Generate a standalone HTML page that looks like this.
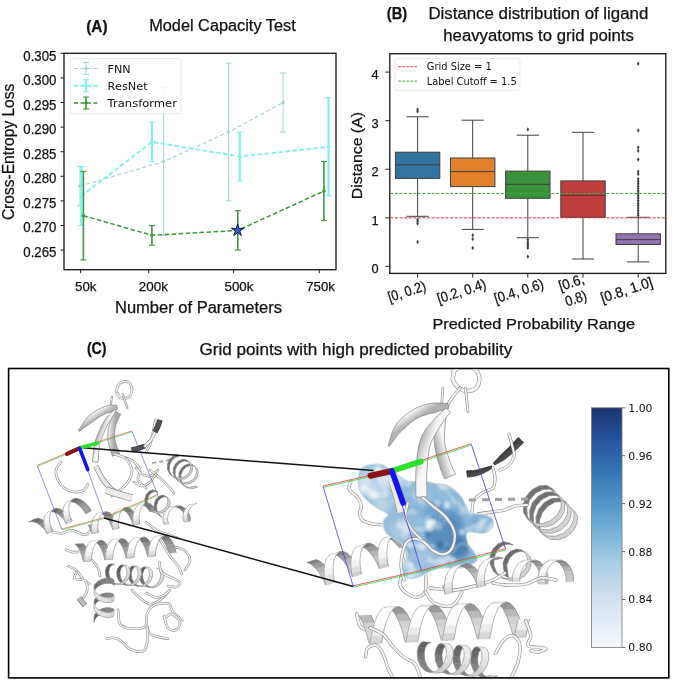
<!DOCTYPE html><html><head><meta charset="utf-8"><style>html,body{margin:0;padding:0;background:#fff}svg{display:block}</style></head><body>
<svg width="675" height="685" viewBox="0 0 675 685">
<rect width="675" height="685" fill="#fff"/>
<text x="86.2" y="31.6" font-size="15.6" font-weight="bold" text-anchor="start" style="font-family:'Liberation Sans',Arial,sans-serif" fill="#111" textLength="21.4" lengthAdjust="spacingAndGlyphs" stroke="#111" stroke-width="0.25">(A)</text>
<text x="149.2" y="31.3" font-size="15.6" text-anchor="start" style="font-family:'Liberation Sans',Arial,sans-serif" fill="#111" textLength="146.5" lengthAdjust="spacingAndGlyphs" stroke="#111" stroke-width="0.25">Model Capacity Test</text>
<rect x="64" y="53.3" width="272" height="216.4" fill="none" stroke="#1c1c1c" stroke-width="1.35"/>
<line x1="60.5" y1="53.3" x2="64" y2="53.3" stroke="#222" stroke-width="1"/>
<text x="23.3" y="60.5" font-size="14" text-anchor="start" style="font-family:'Liberation Sans',Arial,sans-serif" fill="#111" textLength="33.1" lengthAdjust="spacingAndGlyphs" stroke="#111" stroke-width="0.25">0.305</text>
<line x1="60.5" y1="77.9" x2="64" y2="77.9" stroke="#222" stroke-width="1"/>
<text x="23.3" y="85.0" font-size="14" text-anchor="start" style="font-family:'Liberation Sans',Arial,sans-serif" fill="#111" textLength="33.1" lengthAdjust="spacingAndGlyphs" stroke="#111" stroke-width="0.25">0.300</text>
<line x1="60.5" y1="102.5" x2="64" y2="102.5" stroke="#222" stroke-width="1"/>
<text x="23.3" y="109.5" font-size="14" text-anchor="start" style="font-family:'Liberation Sans',Arial,sans-serif" fill="#111" textLength="33.1" lengthAdjust="spacingAndGlyphs" stroke="#111" stroke-width="0.25">0.295</text>
<line x1="60.5" y1="127.1" x2="64" y2="127.1" stroke="#222" stroke-width="1"/>
<text x="23.3" y="134.0" font-size="14" text-anchor="start" style="font-family:'Liberation Sans',Arial,sans-serif" fill="#111" textLength="33.1" lengthAdjust="spacingAndGlyphs" stroke="#111" stroke-width="0.25">0.290</text>
<line x1="60.5" y1="151.7" x2="64" y2="151.7" stroke="#222" stroke-width="1"/>
<text x="23.3" y="158.5" font-size="14" text-anchor="start" style="font-family:'Liberation Sans',Arial,sans-serif" fill="#111" textLength="33.1" lengthAdjust="spacingAndGlyphs" stroke="#111" stroke-width="0.25">0.285</text>
<line x1="60.5" y1="176.3" x2="64" y2="176.3" stroke="#222" stroke-width="1"/>
<text x="23.3" y="183.1" font-size="14" text-anchor="start" style="font-family:'Liberation Sans',Arial,sans-serif" fill="#111" textLength="33.1" lengthAdjust="spacingAndGlyphs" stroke="#111" stroke-width="0.25">0.280</text>
<line x1="60.5" y1="200.9" x2="64" y2="200.9" stroke="#222" stroke-width="1"/>
<text x="23.3" y="207.6" font-size="14" text-anchor="start" style="font-family:'Liberation Sans',Arial,sans-serif" fill="#111" textLength="33.1" lengthAdjust="spacingAndGlyphs" stroke="#111" stroke-width="0.25">0.275</text>
<line x1="60.5" y1="225.5" x2="64" y2="225.5" stroke="#222" stroke-width="1"/>
<text x="23.3" y="232.1" font-size="14" text-anchor="start" style="font-family:'Liberation Sans',Arial,sans-serif" fill="#111" textLength="33.1" lengthAdjust="spacingAndGlyphs" stroke="#111" stroke-width="0.25">0.270</text>
<line x1="60.5" y1="250.1" x2="64" y2="250.1" stroke="#222" stroke-width="1"/>
<text x="23.3" y="256.6" font-size="14" text-anchor="start" style="font-family:'Liberation Sans',Arial,sans-serif" fill="#111" textLength="33.1" lengthAdjust="spacingAndGlyphs" stroke="#111" stroke-width="0.25">0.265</text>
<line x1="80.6" y1="269.7" x2="80.6" y2="273.2" stroke="#222" stroke-width="1"/>
<line x1="148.7" y1="269.7" x2="148.7" y2="273.2" stroke="#222" stroke-width="1"/>
<line x1="233.6" y1="269.7" x2="233.6" y2="273.2" stroke="#222" stroke-width="1"/>
<line x1="319.3" y1="269.7" x2="319.3" y2="273.2" stroke="#222" stroke-width="1"/>
<text x="75" y="290.5" font-size="13.3" text-anchor="start" style="font-family:'Liberation Sans',Arial,sans-serif" fill="#111" textLength="21.4" lengthAdjust="spacingAndGlyphs" stroke="#111" stroke-width="0.25">50k</text>
<text x="138.8" y="290.5" font-size="13.3" text-anchor="start" style="font-family:'Liberation Sans',Arial,sans-serif" fill="#111" textLength="29.1" lengthAdjust="spacingAndGlyphs" stroke="#111" stroke-width="0.25">200k</text>
<text x="224.5" y="290.5" font-size="13.3" text-anchor="start" style="font-family:'Liberation Sans',Arial,sans-serif" fill="#111" textLength="29" lengthAdjust="spacingAndGlyphs" stroke="#111" stroke-width="0.25">500k</text>
<text x="306.2" y="290.5" font-size="13.3" text-anchor="start" style="font-family:'Liberation Sans',Arial,sans-serif" fill="#111" textLength="28.7" lengthAdjust="spacingAndGlyphs" stroke="#111" stroke-width="0.25">750k</text>
<text x="115" y="312.5" font-size="15.6" text-anchor="start" style="font-family:'Liberation Sans',Arial,sans-serif" fill="#111" textLength="167" lengthAdjust="spacingAndGlyphs" stroke="#111" stroke-width="0.25">Number of Parameters</text>
<text transform="translate(14.4,220.1) rotate(-90)" font-size="15.6" style="font-family:'Liberation Sans',Arial,sans-serif" fill="#111" stroke="#111" stroke-width="0.25" textLength="136.4" lengthAdjust="spacingAndGlyphs">Cross-Entropy Loss</text>
<line x1="80.0" y1="166.5" x2="80.0" y2="205.8" stroke="#a8d4dc" stroke-width="1.0"/>
<line x1="77.0" y1="166.5" x2="83.0" y2="166.5" stroke="#a8d4dc" stroke-width="1.1"/>
<line x1="77.0" y1="205.8" x2="83.0" y2="205.8" stroke="#a8d4dc" stroke-width="1.1"/>
<line x1="163.6" y1="87.7" x2="163.6" y2="235.3" stroke="#a8d4dc" stroke-width="1.0"/>
<line x1="160.6" y1="87.7" x2="166.6" y2="87.7" stroke="#a8d4dc" stroke-width="1.1"/>
<line x1="160.6" y1="235.3" x2="166.6" y2="235.3" stroke="#a8d4dc" stroke-width="1.1"/>
<line x1="228.6" y1="63.1" x2="228.6" y2="200.9" stroke="#a8d4dc" stroke-width="1.0"/>
<line x1="225.6" y1="63.1" x2="231.6" y2="63.1" stroke="#a8d4dc" stroke-width="1.1"/>
<line x1="225.6" y1="200.9" x2="231.6" y2="200.9" stroke="#a8d4dc" stroke-width="1.1"/>
<line x1="283.1" y1="73.0" x2="283.1" y2="132.0" stroke="#a8d4dc" stroke-width="1.0"/>
<line x1="280.1" y1="73.0" x2="286.1" y2="73.0" stroke="#a8d4dc" stroke-width="1.1"/>
<line x1="280.1" y1="132.0" x2="286.1" y2="132.0" stroke="#a8d4dc" stroke-width="1.1"/>
<polyline points="80.0,186.1 163.6,161.5 228.6,132.0 283.1,102.5" fill="none" stroke="#a8d4dc" stroke-width="1.2" stroke-dasharray="4 2.5"/>
<circle cx="80.0" cy="186.1" r="1.8" fill="#a8d4dc"/>
<circle cx="163.6" cy="161.5" r="1.8" fill="#a8d4dc"/>
<circle cx="228.6" cy="132.0" r="1.8" fill="#a8d4dc"/>
<circle cx="283.1" cy="102.5" r="1.8" fill="#a8d4dc"/>
<line x1="81.3" y1="166.5" x2="81.3" y2="225.5" stroke="#80f2ee" stroke-width="2.2"/>
<line x1="78.3" y1="166.5" x2="84.3" y2="166.5" stroke="#80f2ee" stroke-width="1.1"/>
<line x1="78.3" y1="225.5" x2="84.3" y2="225.5" stroke="#80f2ee" stroke-width="1.1"/>
<line x1="151.9" y1="122.2" x2="151.9" y2="161.5" stroke="#80f2ee" stroke-width="2.2"/>
<line x1="148.9" y1="122.2" x2="154.9" y2="122.2" stroke="#80f2ee" stroke-width="1.1"/>
<line x1="148.9" y1="161.5" x2="154.9" y2="161.5" stroke="#80f2ee" stroke-width="1.1"/>
<line x1="239.8" y1="132.0" x2="239.8" y2="181.2" stroke="#80f2ee" stroke-width="2.2"/>
<line x1="236.8" y1="132.0" x2="242.8" y2="132.0" stroke="#80f2ee" stroke-width="1.1"/>
<line x1="236.8" y1="181.2" x2="242.8" y2="181.2" stroke="#80f2ee" stroke-width="1.1"/>
<line x1="328.5" y1="97.6" x2="328.5" y2="196.0" stroke="#80f2ee" stroke-width="2.2"/>
<line x1="325.5" y1="97.6" x2="331.5" y2="97.6" stroke="#80f2ee" stroke-width="1.1"/>
<line x1="325.5" y1="196.0" x2="331.5" y2="196.0" stroke="#80f2ee" stroke-width="1.1"/>
<polyline points="81.3,196.0 151.9,141.9 239.8,156.6 328.5,146.8" fill="none" stroke="#80f2ee" stroke-width="1.9" stroke-dasharray="4.5 2.5"/>
<circle cx="81.3" cy="196.0" r="1.8" fill="#80f2ee"/>
<circle cx="151.9" cy="141.9" r="1.8" fill="#80f2ee"/>
<circle cx="239.8" cy="156.6" r="1.8" fill="#80f2ee"/>
<circle cx="328.5" cy="146.8" r="1.8" fill="#80f2ee"/>
<line x1="83.4" y1="171.4" x2="83.4" y2="259.9" stroke="#3b9a3b" stroke-width="1.6"/>
<line x1="80.4" y1="171.4" x2="86.4" y2="171.4" stroke="#3b9a3b" stroke-width="1.1"/>
<line x1="80.4" y1="259.9" x2="86.4" y2="259.9" stroke="#3b9a3b" stroke-width="1.1"/>
<line x1="151.9" y1="225.5" x2="151.9" y2="245.2" stroke="#3b9a3b" stroke-width="1.6"/>
<line x1="148.9" y1="225.5" x2="154.9" y2="225.5" stroke="#3b9a3b" stroke-width="1.1"/>
<line x1="148.9" y1="245.2" x2="154.9" y2="245.2" stroke="#3b9a3b" stroke-width="1.1"/>
<line x1="237.8" y1="210.7" x2="237.8" y2="250.1" stroke="#3b9a3b" stroke-width="1.6"/>
<line x1="234.8" y1="210.7" x2="240.8" y2="210.7" stroke="#3b9a3b" stroke-width="1.1"/>
<line x1="234.8" y1="250.1" x2="240.8" y2="250.1" stroke="#3b9a3b" stroke-width="1.1"/>
<line x1="323.9" y1="161.5" x2="323.9" y2="220.6" stroke="#3b9a3b" stroke-width="1.6"/>
<line x1="320.9" y1="161.5" x2="326.9" y2="161.5" stroke="#3b9a3b" stroke-width="1.1"/>
<line x1="320.9" y1="220.6" x2="326.9" y2="220.6" stroke="#3b9a3b" stroke-width="1.1"/>
<polyline points="83.4,215.7 151.9,235.3 237.8,230.4 323.9,191.1" fill="none" stroke="#3b9a3b" stroke-width="1.5" stroke-dasharray="4.5 2.5"/>
<circle cx="83.4" cy="215.7" r="1.8" fill="#3b9a3b"/>
<circle cx="151.9" cy="235.3" r="1.8" fill="#3b9a3b"/>
<circle cx="237.8" cy="230.4" r="1.8" fill="#3b9a3b"/>
<circle cx="323.9" cy="191.1" r="1.8" fill="#3b9a3b"/>
<polygon points="237.60,223.80 238.95,228.44 243.78,228.29 239.79,231.01 241.42,235.56 237.60,232.60 233.78,235.56 235.41,231.01 231.42,228.29 236.25,228.44" fill="#3d5fc0" stroke="#0d1850" stroke-width="1"/>
<rect x="70.4" y="58.6" width="110.6" height="55.1" rx="2" fill="#fff" fill-opacity="0.8" stroke="#e4e4e4" stroke-width="0.8"/>
<line x1="74" y1="68.5" x2="97.6" y2="68.5" stroke="#a8d4dc" stroke-width="1.2" stroke-dasharray="4 2.5"/>
<line x1="86" y1="62.5" x2="86" y2="74.5" stroke="#a8d4dc" stroke-width="1.0"/>
<line x1="83" y1="62.5" x2="89" y2="62.5" stroke="#a8d4dc" stroke-width="1.1"/>
<line x1="83" y1="74.5" x2="89" y2="74.5" stroke="#a8d4dc" stroke-width="1.1"/>
<circle cx="86" cy="68.5" r="1.8" fill="#a8d4dc"/>
<line x1="74" y1="85.8" x2="97.6" y2="85.8" stroke="#80f2ee" stroke-width="1.9" stroke-dasharray="4 2.5"/>
<line x1="86" y1="79.8" x2="86" y2="91.8" stroke="#80f2ee" stroke-width="2.2"/>
<line x1="83" y1="79.8" x2="89" y2="79.8" stroke="#80f2ee" stroke-width="1.1"/>
<line x1="83" y1="91.8" x2="89" y2="91.8" stroke="#80f2ee" stroke-width="1.1"/>
<circle cx="86" cy="85.8" r="1.8" fill="#80f2ee"/>
<line x1="74" y1="103.0" x2="97.6" y2="103.0" stroke="#3b9a3b" stroke-width="1.5" stroke-dasharray="4 2.5"/>
<line x1="86" y1="97.0" x2="86" y2="109.0" stroke="#3b9a3b" stroke-width="1.6"/>
<line x1="83" y1="97.0" x2="89" y2="97.0" stroke="#3b9a3b" stroke-width="1.1"/>
<line x1="83" y1="109.0" x2="89" y2="109.0" stroke="#3b9a3b" stroke-width="1.1"/>
<circle cx="86" cy="103.0" r="1.8" fill="#3b9a3b"/>
<text x="107.6" y="72.6" font-size="11.3" text-anchor="start" style="font-family:'DejaVu Sans','Liberation Sans',sans-serif" fill="#111" textLength="23.1" lengthAdjust="spacingAndGlyphs">FNN</text>
<text x="107.6" y="89.9" font-size="11.3" text-anchor="start" style="font-family:'DejaVu Sans','Liberation Sans',sans-serif" fill="#111">ResNet</text>
<text x="107.6" y="107.1" font-size="11.3" text-anchor="start" style="font-family:'DejaVu Sans','Liberation Sans',sans-serif" fill="#111" textLength="69.4" lengthAdjust="spacingAndGlyphs">Transformer</text>
<text x="386.8" y="19.1" font-size="15.6" font-weight="bold" text-anchor="start" style="font-family:'Liberation Sans',Arial,sans-serif" fill="#111" textLength="20.3" lengthAdjust="spacingAndGlyphs" stroke="#111" stroke-width="0.25">(B)</text>
<text x="428.4" y="19.1" font-size="15.6" text-anchor="start" style="font-family:'Liberation Sans',Arial,sans-serif" fill="#111" textLength="219.9" lengthAdjust="spacingAndGlyphs" stroke="#111" stroke-width="0.25">Distance distribution of ligand</text>
<text x="443.3" y="40.5" font-size="15.6" text-anchor="start" style="font-family:'Liberation Sans',Arial,sans-serif" fill="#111" textLength="190.6" lengthAdjust="spacingAndGlyphs" stroke="#111" stroke-width="0.25">heavyatoms to grid points</text>
<rect x="389.8" y="53.7" width="276" height="219.7" fill="none" stroke="#1c1c1c" stroke-width="1.35"/>
<line x1="385.3" y1="266.3" x2="389.8" y2="266.3" stroke="#222" stroke-width="1"/>
<text x="378.7" y="273.1" font-size="12.8" text-anchor="end" style="font-family:'Liberation Sans',Arial,sans-serif" fill="#111" stroke="#111" stroke-width="0.25">0</text>
<line x1="385.3" y1="217.8" x2="389.8" y2="217.8" stroke="#222" stroke-width="1"/>
<text x="378.7" y="224.6" font-size="12.8" text-anchor="end" style="font-family:'Liberation Sans',Arial,sans-serif" fill="#111" stroke="#111" stroke-width="0.25">1</text>
<line x1="385.3" y1="169.2" x2="389.8" y2="169.2" stroke="#222" stroke-width="1"/>
<text x="378.7" y="176.0" font-size="12.8" text-anchor="end" style="font-family:'Liberation Sans',Arial,sans-serif" fill="#111" stroke="#111" stroke-width="0.25">2</text>
<line x1="385.3" y1="120.7" x2="389.8" y2="120.7" stroke="#222" stroke-width="1"/>
<text x="378.7" y="127.5" font-size="12.8" text-anchor="end" style="font-family:'Liberation Sans',Arial,sans-serif" fill="#111" stroke="#111" stroke-width="0.25">3</text>
<line x1="385.3" y1="72.1" x2="389.8" y2="72.1" stroke="#222" stroke-width="1"/>
<text x="378.7" y="78.9" font-size="12.8" text-anchor="end" style="font-family:'Liberation Sans',Arial,sans-serif" fill="#111" stroke="#111" stroke-width="0.25">4</text>
<text transform="translate(362.4,199.2) rotate(-90)" font-size="15.2" style="font-family:'Liberation Sans',Arial,sans-serif" fill="#111" stroke="#111" stroke-width="0.25" textLength="87.2" lengthAdjust="spacingAndGlyphs">Distance (A)</text>
<line x1="417.6" y1="273.4" x2="417.6" y2="277.6" stroke="#222" stroke-width="1"/>
<line x1="472.7" y1="273.4" x2="472.7" y2="277.6" stroke="#222" stroke-width="1"/>
<line x1="527.8" y1="273.4" x2="527.8" y2="277.6" stroke="#222" stroke-width="1"/>
<line x1="583.0" y1="273.4" x2="583.0" y2="277.6" stroke="#222" stroke-width="1"/>
<line x1="638.2" y1="273.4" x2="638.2" y2="277.6" stroke="#222" stroke-width="1"/>
<text x="432.4" y="328.5" font-size="15.4" text-anchor="start" style="font-family:'Liberation Sans',Arial,sans-serif" fill="#111" textLength="202.7" lengthAdjust="spacingAndGlyphs" stroke="#111" stroke-width="0.25">Predicted Probability Range</text>
<text transform="translate(389.8,302.2) rotate(-18)" font-size="14.4" style="font-family:'Liberation Sans',Arial,sans-serif" fill="#111" stroke="#111" stroke-width="0.25" textLength="39" lengthAdjust="spacingAndGlyphs">[0, 0.2)</text>
<text transform="translate(439.0,303.7) rotate(-18)" font-size="14.4" style="font-family:'Liberation Sans',Arial,sans-serif" fill="#111" stroke="#111" stroke-width="0.25" textLength="50.5" lengthAdjust="spacingAndGlyphs">[0.2, 0.4)</text>
<text transform="translate(496.1,303.7) rotate(-18)" font-size="14.4" style="font-family:'Liberation Sans',Arial,sans-serif" fill="#111" stroke="#111" stroke-width="0.25" textLength="51" lengthAdjust="spacingAndGlyphs">[0.4, 0.6)</text>
<text transform="translate(560.5,291.1) rotate(-18)" font-size="14.4" style="font-family:'Liberation Sans',Arial,sans-serif" fill="#111" stroke="#111" stroke-width="0.25" textLength="26" lengthAdjust="spacingAndGlyphs">[0.6,</text>
<text transform="translate(567.0,306.5) rotate(-18)" font-size="14.4" style="font-family:'Liberation Sans',Arial,sans-serif" fill="#111" stroke="#111" stroke-width="0.25" textLength="22" lengthAdjust="spacingAndGlyphs">0.8)</text>
<text transform="translate(602.4,302.9) rotate(-18)" font-size="14.4" style="font-family:'Liberation Sans',Arial,sans-serif" fill="#111" stroke="#111" stroke-width="0.25" textLength="54" lengthAdjust="spacingAndGlyphs">[0.8, 1.0]</text>
<line x1="417.6" y1="116.8" x2="417.6" y2="152.2" stroke="#3f3f3f" stroke-width="1"/>
<line x1="417.6" y1="178.4" x2="417.6" y2="216.3" stroke="#3f3f3f" stroke-width="1"/>
<line x1="406.5" y1="116.8" x2="428.7" y2="116.8" stroke="#3f3f3f" stroke-width="1"/>
<line x1="406.5" y1="216.3" x2="428.7" y2="216.3" stroke="#3f3f3f" stroke-width="1"/>
<rect x="395.4" y="152.2" width="44.4" height="26.2" fill="#3274a1" stroke="#3f3f3f" stroke-width="1"/>
<line x1="395.4" y1="164.8" x2="439.8" y2="164.8" stroke="#3f3f3f" stroke-width="1"/>
<path d="M417.6 109.2L418.90000000000003 111.4L417.6 113.6L416.3 111.4Z" fill="#3f3f3f"/>
<path d="M417.6 107.3L418.90000000000003 109.5L417.6 111.7L416.3 109.5Z" fill="#3f3f3f"/>
<path d="M417.6 217.5L418.90000000000003 219.7L417.6 221.9L416.3 219.7Z" fill="#3f3f3f"/>
<path d="M417.6 219.4L418.90000000000003 221.6L417.6 223.8L416.3 221.6Z" fill="#3f3f3f"/>
<path d="M417.6 221.4L418.90000000000003 223.6L417.6 225.8L416.3 223.6Z" fill="#3f3f3f"/>
<path d="M417.6 239.8L418.90000000000003 242.0L417.6 244.2L416.3 242.0Z" fill="#3f3f3f"/>
<line x1="472.7" y1="120.2" x2="472.7" y2="158.0" stroke="#3f3f3f" stroke-width="1"/>
<line x1="472.7" y1="186.7" x2="472.7" y2="229.4" stroke="#3f3f3f" stroke-width="1"/>
<line x1="461.6" y1="120.2" x2="483.8" y2="120.2" stroke="#3f3f3f" stroke-width="1"/>
<line x1="461.6" y1="229.4" x2="483.8" y2="229.4" stroke="#3f3f3f" stroke-width="1"/>
<rect x="450.5" y="158.0" width="44.4" height="28.6" fill="#e1812c" stroke="#3f3f3f" stroke-width="1"/>
<line x1="450.5" y1="171.6" x2="494.9" y2="171.6" stroke="#3f3f3f" stroke-width="1"/>
<path d="M472.7 233.0L474.0 235.2L472.7 237.4L471.4 235.2Z" fill="#3f3f3f"/>
<path d="M472.7 236.9L474.0 239.1L472.7 241.3L471.4 239.1Z" fill="#3f3f3f"/>
<path d="M472.7 245.7L474.0 247.9L472.7 250.1L471.4 247.9Z" fill="#3f3f3f"/>
<line x1="527.8" y1="135.2" x2="527.8" y2="171.1" stroke="#3f3f3f" stroke-width="1"/>
<line x1="527.8" y1="198.3" x2="527.8" y2="237.7" stroke="#3f3f3f" stroke-width="1"/>
<line x1="516.7" y1="135.2" x2="538.9" y2="135.2" stroke="#3f3f3f" stroke-width="1"/>
<line x1="516.7" y1="237.7" x2="538.9" y2="237.7" stroke="#3f3f3f" stroke-width="1"/>
<rect x="505.6" y="171.1" width="44.4" height="27.2" fill="#3a923a" stroke="#3f3f3f" stroke-width="1"/>
<line x1="505.6" y1="184.3" x2="550.0" y2="184.3" stroke="#3f3f3f" stroke-width="1"/>
<path d="M527.8 127.2L529.0999999999999 129.4L527.8 131.6L526.5 129.4Z" fill="#3f3f3f"/>
<path d="M527.8 237.4L529.0999999999999 239.6L527.8 241.8L526.5 239.6Z" fill="#3f3f3f"/>
<path d="M527.8 239.8L529.0999999999999 242.0L527.8 244.2L526.5 242.0Z" fill="#3f3f3f"/>
<path d="M527.8 241.8L529.0999999999999 244.0L527.8 246.2L526.5 244.0Z" fill="#3f3f3f"/>
<path d="M527.8 243.7L529.0999999999999 245.9L527.8 248.1L526.5 245.9Z" fill="#3f3f3f"/>
<path d="M527.8 245.7L529.0999999999999 247.9L527.8 250.1L526.5 247.9Z" fill="#3f3f3f"/>
<path d="M527.8 254.4L529.0999999999999 256.6L527.8 258.8L526.5 256.6Z" fill="#3f3f3f"/>
<line x1="583.0" y1="132.3" x2="583.0" y2="180.9" stroke="#3f3f3f" stroke-width="1"/>
<line x1="583.0" y1="217.3" x2="583.0" y2="259.0" stroke="#3f3f3f" stroke-width="1"/>
<line x1="571.9" y1="132.3" x2="594.1" y2="132.3" stroke="#3f3f3f" stroke-width="1"/>
<line x1="571.9" y1="259.0" x2="594.1" y2="259.0" stroke="#3f3f3f" stroke-width="1"/>
<rect x="560.8" y="180.9" width="44.4" height="36.4" fill="#c03d3e" stroke="#3f3f3f" stroke-width="1"/>
<line x1="560.8" y1="195.4" x2="605.2" y2="195.4" stroke="#3f3f3f" stroke-width="1"/>
<line x1="638.2" y1="217.3" x2="638.2" y2="233.8" stroke="#3f3f3f" stroke-width="1"/>
<line x1="638.2" y1="244.5" x2="638.2" y2="261.9" stroke="#3f3f3f" stroke-width="1"/>
<line x1="627.1" y1="217.3" x2="649.3" y2="217.3" stroke="#3f3f3f" stroke-width="1"/>
<line x1="627.1" y1="261.9" x2="649.3" y2="261.9" stroke="#3f3f3f" stroke-width="1"/>
<rect x="616.0" y="233.8" width="44.4" height="10.7" fill="#9372b2" stroke="#3f3f3f" stroke-width="1"/>
<line x1="616.0" y1="239.6" x2="660.4" y2="239.6" stroke="#3f3f3f" stroke-width="1"/>
<path d="M638.2 213.1L639.5 215.3L638.2 217.5L636.9000000000001 215.3Z" fill="#3f3f3f"/>
<path d="M638.2 210.7L639.5 212.9L638.2 215.1L636.9000000000001 212.9Z" fill="#3f3f3f"/>
<path d="M638.2 208.3L639.5 210.5L638.2 212.7L636.9000000000001 210.5Z" fill="#3f3f3f"/>
<path d="M638.2 205.8L639.5 208.0L638.2 210.2L636.9000000000001 208.0Z" fill="#3f3f3f"/>
<path d="M638.2 203.4L639.5 205.6L638.2 207.8L636.9000000000001 205.6Z" fill="#3f3f3f"/>
<path d="M638.2 201.0L639.5 203.2L638.2 205.4L636.9000000000001 203.2Z" fill="#3f3f3f"/>
<path d="M638.2 198.6L639.5 200.8L638.2 203.0L636.9000000000001 200.8Z" fill="#3f3f3f"/>
<path d="M638.2 196.1L639.5 198.3L638.2 200.5L636.9000000000001 198.3Z" fill="#3f3f3f"/>
<path d="M638.2 193.7L639.5 195.9L638.2 198.1L636.9000000000001 195.9Z" fill="#3f3f3f"/>
<path d="M638.2 191.3L639.5 193.5L638.2 195.7L636.9000000000001 193.5Z" fill="#3f3f3f"/>
<path d="M638.2 188.8L639.5 191.0L638.2 193.2L636.9000000000001 191.0Z" fill="#3f3f3f"/>
<path d="M638.2 186.4L639.5 188.6L638.2 190.8L636.9000000000001 188.6Z" fill="#3f3f3f"/>
<path d="M638.2 184.0L639.5 186.2L638.2 188.4L636.9000000000001 186.2Z" fill="#3f3f3f"/>
<path d="M638.2 181.6L639.5 183.8L638.2 186.0L636.9000000000001 183.8Z" fill="#3f3f3f"/>
<path d="M638.2 179.1L639.5 181.3L638.2 183.5L636.9000000000001 181.3Z" fill="#3f3f3f"/>
<path d="M638.2 176.7L639.5 178.9L638.2 181.1L636.9000000000001 178.9Z" fill="#3f3f3f"/>
<path d="M638.2 171.9L639.5 174.1L638.2 176.3L636.9000000000001 174.1Z" fill="#3f3f3f"/>
<path d="M638.2 169.4L639.5 171.6L638.2 173.8L636.9000000000001 171.6Z" fill="#3f3f3f"/>
<path d="M638.2 157.3L639.5 159.5L638.2 161.7L636.9000000000001 159.5Z" fill="#3f3f3f"/>
<path d="M638.2 148.6L639.5 150.8L638.2 153.0L636.9000000000001 150.8Z" fill="#3f3f3f"/>
<path d="M638.2 145.2L639.5 147.4L638.2 149.6L636.9000000000001 147.4Z" fill="#3f3f3f"/>
<path d="M638.2 128.2L639.5 130.4L638.2 132.6L636.9000000000001 130.4Z" fill="#3f3f3f"/>
<path d="M638.2 61.6L639.5 63.8L638.2 66.0L636.9000000000001 63.8Z" fill="#3f3f3f"/>
<line x1="390.3" y1="217.8" x2="665.3" y2="217.8" stroke="#e0393e" stroke-width="1" stroke-dasharray="3 1.6"/>
<line x1="390.3" y1="193.5" x2="665.3" y2="193.5" stroke="#3caa3c" stroke-width="1" stroke-dasharray="3 1.6"/>
<rect x="394.8" y="58.7" width="125.2" height="31.7" rx="2" fill="#fff" fill-opacity="0.8" stroke="#e4e4e4" stroke-width="0.8"/>
<line x1="398.4" y1="66.7" x2="417.3" y2="66.7" stroke="#e0393e" stroke-width="1" stroke-dasharray="2.6 1.4"/>
<line x1="398.4" y1="81.1" x2="417.3" y2="81.1" stroke="#3caa3c" stroke-width="1" stroke-dasharray="2.6 1.4"/>
<text x="426.8" y="69.9" font-size="9.9" text-anchor="start" style="font-family:'DejaVu Sans','Liberation Sans',sans-serif" fill="#111">Grid Size = 1</text>
<text x="426.8" y="84.6" font-size="9.9" text-anchor="start" style="font-family:'DejaVu Sans','Liberation Sans',sans-serif" fill="#111">Label Cutoff = 1.5</text>
<text x="86.9" y="354.2" font-size="15.6" font-weight="bold" text-anchor="start" style="font-family:'Liberation Sans',Arial,sans-serif" fill="#111" textLength="19.7" lengthAdjust="spacingAndGlyphs" stroke="#111" stroke-width="0.25">(C)</text>
<text x="199.5" y="354.7" font-size="15.6" text-anchor="start" style="font-family:'Liberation Sans',Arial,sans-serif" fill="#111" textLength="312.8" lengthAdjust="spacingAndGlyphs" stroke="#111" stroke-width="0.25">Grid points with high predicted probability</text>
<rect x="8.6" y="368.5" width="660.2" height="309.4" fill="none" stroke="#000" stroke-width="1.6"/>
<defs><linearGradient id="blues" x1="0" y1="1" x2="0" y2="0"><stop offset="0" stop-color="#f5f9fd"/><stop offset="0.125" stop-color="#e0eaf5"/><stop offset="0.25" stop-color="#c6dbee"/><stop offset="0.375" stop-color="#a0c9e2"/><stop offset="0.5" stop-color="#70afd6"/><stop offset="0.625" stop-color="#4b8fc6"/><stop offset="0.75" stop-color="#3271b2"/><stop offset="0.875" stop-color="#25529c"/><stop offset="1" stop-color="#1c3470"/></linearGradient></defs>
<rect x="591.6" y="407.8" width="30.4" height="239.6" fill="url(#blues)" stroke="#777" stroke-width="0.8"/>
<line x1="622" y1="407.8" x2="625.5" y2="407.8" stroke="#555" stroke-width="0.8"/>
<text x="628.3" y="411.7" font-size="10.8" text-anchor="start" style="font-family:'DejaVu Sans','Liberation Sans',sans-serif" fill="#111" textLength="24.2" lengthAdjust="spacingAndGlyphs">1.00</text>
<line x1="622" y1="455.7" x2="625.5" y2="455.7" stroke="#555" stroke-width="0.8"/>
<text x="628.3" y="459.6" font-size="10.8" text-anchor="start" style="font-family:'DejaVu Sans','Liberation Sans',sans-serif" fill="#111" textLength="24.2" lengthAdjust="spacingAndGlyphs">0.96</text>
<line x1="622" y1="503.6" x2="625.5" y2="503.6" stroke="#555" stroke-width="0.8"/>
<text x="628.3" y="507.5" font-size="10.8" text-anchor="start" style="font-family:'DejaVu Sans','Liberation Sans',sans-serif" fill="#111" textLength="24.2" lengthAdjust="spacingAndGlyphs">0.92</text>
<line x1="622" y1="551.6" x2="625.5" y2="551.6" stroke="#555" stroke-width="0.8"/>
<text x="628.3" y="555.5" font-size="10.8" text-anchor="start" style="font-family:'DejaVu Sans','Liberation Sans',sans-serif" fill="#111" textLength="24.2" lengthAdjust="spacingAndGlyphs">0.88</text>
<line x1="622" y1="599.5" x2="625.5" y2="599.5" stroke="#555" stroke-width="0.8"/>
<text x="628.3" y="603.4" font-size="10.8" text-anchor="start" style="font-family:'DejaVu Sans','Liberation Sans',sans-serif" fill="#111" textLength="24.2" lengthAdjust="spacingAndGlyphs">0.84</text>
<line x1="622" y1="647.4" x2="625.5" y2="647.4" stroke="#555" stroke-width="0.8"/>
<text x="628.3" y="651.3" font-size="10.8" text-anchor="start" style="font-family:'DejaVu Sans','Liberation Sans',sans-serif" fill="#111" textLength="24.2" lengthAdjust="spacingAndGlyphs">0.80</text>
<clipPath id="cpC"><rect x="9.4" y="369.3" width="658.6" height="307.8"/></clipPath>
<g clip-path="url(#cpC)">
<path d="M116.0 391.0C116.7 389.7 118.0 384.5 120.0 383.0C122.0 381.5 126.0 381.0 128.0 382.0C130.0 383.0 131.8 386.5 132.0 389.0C132.2 391.5 130.8 395.5 129.0 397.0C127.2 398.5 123.0 398.7 121.0 398.0C119.0 397.3 117.7 393.8 117.0 393.0" fill="none" stroke="#8a8a8a" stroke-width="2.7" stroke-linecap="round" stroke-linejoin="round"/>
<path d="M116.0 391.0C116.7 389.7 118.0 384.5 120.0 383.0C122.0 381.5 126.0 381.0 128.0 382.0C130.0 383.0 131.8 386.5 132.0 389.0C132.2 391.5 130.8 395.5 129.0 397.0C127.2 398.5 123.0 398.7 121.0 398.0C119.0 397.3 117.7 393.8 117.0 393.0" fill="none" stroke="#f2f2f2" stroke-width="1.6" stroke-linecap="round" stroke-linejoin="round"/>
<path d="M122.5 394.0C123.3 396.4 126.6 405.8 127.4 408.2" fill="none" stroke="#8a8a8a" stroke-width="2.1" stroke-linecap="round" stroke-linejoin="round"/>
<path d="M122.5 394.0C123.3 396.4 126.6 405.8 127.4 408.2" fill="none" stroke="#f2f2f2" stroke-width="1.0" stroke-linecap="round" stroke-linejoin="round"/>
<path d="M111.9 396.8C111.7 398.0 111.0 402.8 110.8 404.0" fill="none" stroke="#8a8a8a" stroke-width="2.1" stroke-linecap="round" stroke-linejoin="round"/>
<path d="M111.9 396.8C111.7 398.0 111.0 402.8 110.8 404.0" fill="none" stroke="#f2f2f2" stroke-width="1.0" stroke-linecap="round" stroke-linejoin="round"/>
<defs><linearGradient id="bl1" gradientUnits="userSpaceOnUse" x1="95.7" y1="411.0" x2="99.4" y2="417.0"><stop offset="0" stop-color="#fbfbfb"/><stop offset="1" stop-color="#b0b0b0"/></linearGradient></defs>
<path d="M79.1 431.4L80.0 430.8L81.1 430.0L82.5 429.0L83.9 427.9L85.5 426.7L87.2 425.5L88.9 424.3L90.5 423.3L92.1 422.3L93.3 421.3L94.5 420.4L95.7 419.4L96.9 418.6L98.2 417.7L99.4 417.0L100.6 416.2L101.8 415.5L103.0 414.9L104.2 414.3L105.4 413.7L106.6 413.2L107.9 412.8L109.3 412.4L110.7 412.0L112.0 411.4L113.4 410.8L114.6 410.2L115.7 409.7L116.7 409.3L117.5 408.9L116.5 405.1L115.7 405.1L114.7 405.1L113.5 405.1L112.1 405.1L110.6 405.1L109.0 405.2L107.4 405.6L105.7 406.1L104.1 406.7L102.6 407.3L101.2 408.0L99.8 408.7L98.4 409.4L97.0 410.2L95.7 411.0L94.3 411.9L92.9 412.8L91.6 413.8L90.2 414.8L88.9 415.9L87.5 417.2L86.3 418.8L85.0 420.4L83.8 422.2L82.6 423.9L81.5 425.6L80.5 427.1L79.6 428.5L78.9 429.7L78.3 430.6Z" fill="url(#bl1)" stroke="#7f7f7f" stroke-width="0.7" stroke-linejoin="round"/>
<defs><linearGradient id="bl2" gradientUnits="userSpaceOnUse" x1="101.8" y1="438.1" x2="97.0" y2="436.3"><stop offset="0" stop-color="#f5f5f5"/><stop offset="1" stop-color="#b0b0b0"/></linearGradient></defs>
<path d="M98.0 462.2L98.1 461.3L98.2 460.2L98.2 458.9L98.3 457.4L98.4 455.9L98.5 454.3L98.6 452.6L98.8 451.1L98.9 449.7L99.1 448.4L99.3 447.3L99.5 446.2L99.6 445.2L99.8 444.3L100.0 443.4L100.3 442.5L100.6 441.5L100.9 440.5L101.3 439.4L101.8 438.1L102.3 436.7L102.9 435.1L103.6 433.5L104.3 431.8L105.0 430.0L105.8 428.3L106.6 426.6L107.4 425.0L108.2 423.6L109.0 422.3L109.8 421.1L110.7 420.0L111.6 418.9L112.6 417.8L113.6 416.8L114.6 415.8L115.5 415.0L116.3 414.2L117.0 413.5L117.6 412.9L114.4 409.7L113.9 410.2L113.2 410.9L112.4 411.6L111.4 412.5L110.4 413.5L109.3 414.6L108.2 415.7L107.1 417.0L106.0 418.3L105.0 419.7L104.1 421.2L103.2 422.8L102.3 424.5L101.4 426.2L100.6 428.0L99.8 429.8L99.0 431.6L98.3 433.3L97.6 434.8L97.0 436.3L96.5 437.6L96.1 438.8L95.7 440.0L95.4 441.0L95.1 442.1L94.8 443.1L94.6 444.2L94.3 445.2L94.1 446.4L93.9 447.6L93.7 449.0L93.5 450.5L93.3 452.2L93.2 453.8L93.0 455.5L92.9 457.1L92.8 458.6L92.7 459.9L92.6 461.0L92.6 461.8Z" fill="url(#bl2)" stroke="#7f7f7f" stroke-width="0.7" stroke-linejoin="round"/>
<defs><linearGradient id="bl3" gradientUnits="userSpaceOnUse" x1="114.7" y1="432.6" x2="108.0" y2="432.1"><stop offset="0" stop-color="#a8a8a8"/><stop offset="1" stop-color="#f5f5f5"/></linearGradient></defs>
<path d="M119.6 453.8L119.2 452.9L118.8 451.7L118.3 450.3L117.7 448.9L117.1 447.3L116.6 445.6L116.0 444.0L115.6 442.4L115.2 440.9L115.0 439.6L114.8 438.2L114.7 436.8L114.7 435.4L114.7 434.0L114.7 432.6L114.8 431.1L115.0 429.7L115.2 428.4L115.4 427.0L115.6 425.8L115.9 424.6L116.4 423.4L116.9 422.1L117.5 420.8L118.1 419.5L118.7 418.2L119.3 417.1L119.8 416.0L120.3 415.1L120.7 414.3L115.3 411.7L115.0 412.3L114.5 413.1L113.9 414.2L113.3 415.3L112.6 416.7L111.8 418.1L111.1 419.5L110.4 421.1L109.8 422.6L109.4 424.2L109.0 425.7L108.7 427.3L108.4 428.8L108.2 430.4L108.0 432.1L107.9 433.7L107.8 435.4L107.8 437.1L107.9 438.7L108.0 440.4L108.3 442.2L108.7 444.1L109.2 446.0L109.7 447.8L110.2 449.6L110.8 451.3L111.3 452.9L111.8 454.2L112.2 455.3L112.4 456.2Z" fill="url(#bl3)" stroke="#7f7f7f" stroke-width="0.7" stroke-linejoin="round"/>
<path d="M155.4 419.6C155.0 421.7 153.9 427.8 153.0 432.0C152.1 436.2 151.2 441.7 150.0 445.0C148.8 448.3 146.7 450.8 146.0 452.0" fill="none" stroke="#8a8a8a" stroke-width="2.4" stroke-linecap="round" stroke-linejoin="round"/>
<path d="M155.4 419.6C155.0 421.7 153.9 427.8 153.0 432.0C152.1 436.2 151.2 441.7 150.0 445.0C148.8 448.3 146.7 450.8 146.0 452.0" fill="none" stroke="#f2f2f2" stroke-width="1.3" stroke-linecap="round" stroke-linejoin="round"/>
<path d="M131.6 449.7C132.7 449.5 135.8 449.1 138.0 448.5C140.2 447.9 143.8 446.4 145.0 446.0" fill="none" stroke="#3a3a3a" stroke-width="5.0" stroke-linecap="butt" stroke-linejoin="round"/>
<path d="M131.6 449.7C132.7 449.5 135.8 449.1 138.0 448.5C140.2 447.9 143.8 446.4 145.0 446.0" fill="none" stroke="#505050" stroke-width="3.6" stroke-linecap="butt" stroke-linejoin="round"/>
<path d="M145.0 446.0C146.1 444.9 149.6 441.6 151.3 439.3C153.0 437.0 154.4 433.2 155.0 432.0" fill="none" stroke="#8a8a8a" stroke-width="3.3" stroke-linecap="round" stroke-linejoin="round"/>
<path d="M145.0 446.0C146.1 444.9 149.6 441.6 151.3 439.3C153.0 437.0 154.4 433.2 155.0 432.0" fill="none" stroke="#f2f2f2" stroke-width="2.2" stroke-linecap="round" stroke-linejoin="round"/>
<path d="M155.0 432.0C155.5 431.0 157.2 428.0 158.0 426.0C158.8 424.0 159.7 421.0 160.0 420.0" fill="none" stroke="#3a3a3a" stroke-width="5.4" stroke-linecap="butt" stroke-linejoin="round"/>
<path d="M155.0 432.0C155.5 431.0 157.2 428.0 158.0 426.0C158.8 424.0 159.7 421.0 160.0 420.0" fill="none" stroke="#505050" stroke-width="4.0" stroke-linecap="butt" stroke-linejoin="round"/>
<line x1="152.3" y1="463.2" x2="170" y2="460" stroke="#a0a0a0" stroke-width="1.8" stroke-dasharray="4 3"/>
<path d="M180.9 474.7L180.8 479.7L179.1 478.3L179.1 473.3Z" fill="#717171" stroke="#717171" stroke-width="0.4"/><path d="M180.9 474.7L180.8 479.7M179.1 473.3L179.1 478.3" stroke="#858585" stroke-width="0.6" fill="none"/>
<path d="M182.9 470.1L180.9 474.7L179.1 473.3L181.1 468.7Z" fill="#707070" stroke="#707070" stroke-width="0.4"/><path d="M182.9 470.1L180.9 474.7M181.1 468.7L179.1 473.3" stroke="#858585" stroke-width="0.6" fill="none"/>
<path d="M180.8 479.7L182.8 484.2L181.1 482.8L179.1 478.3Z" fill="#787878" stroke="#787878" stroke-width="0.4"/><path d="M180.8 479.7L182.8 484.2M179.1 478.3L181.1 482.8" stroke="#858585" stroke-width="0.6" fill="none"/>
<path d="M186.3 466.8L182.9 470.1L181.1 468.7L184.6 465.4Z" fill="#707070" stroke="#707070" stroke-width="0.4"/><path d="M186.3 466.8L182.9 470.1M184.6 465.4L181.1 468.7" stroke="#858585" stroke-width="0.6" fill="none"/>
<path d="M182.8 484.2L186.5 487.5L184.7 486.1L181.1 482.8Z" fill="#7d7d7d" stroke="#7d7d7d" stroke-width="0.4"/><path d="M182.8 484.2L186.5 487.5M181.1 482.8L184.7 486.1" stroke="#858585" stroke-width="0.6" fill="none"/>
<path d="M186.5 487.5L191.3 488.8L189.5 487.4L184.7 486.1Z" fill="#d0d0d0" stroke="#d0d0d0" stroke-width="0.4"/><path d="M186.5 487.5L191.3 488.8M184.7 486.1L189.5 487.4" stroke="#858585" stroke-width="0.6" fill="none"/>
<path d="M191.3 488.8L198.0 487.2L196.3 485.8L189.5 487.4Z" fill="#d0d0d0" stroke="#d0d0d0" stroke-width="0.4"/><path d="M191.3 488.8L198.0 487.2M189.5 487.4L196.3 485.8" stroke="#858585" stroke-width="0.6" fill="none"/>
<path d="M190.5 465.4L186.3 466.8L184.6 465.4L188.7 464.0Z" fill="#707070" stroke="#707070" stroke-width="0.4"/><path d="M190.5 465.4L186.3 466.8M188.7 464.0L184.6 465.4" stroke="#858585" stroke-width="0.6" fill="none"/>
<path d="M194.4 466.1L190.5 465.4L188.7 464.0L192.6 464.6Z" fill="#707070" stroke="#707070" stroke-width="0.4"/><path d="M194.4 466.1L190.5 465.4M192.6 464.6L188.7 464.0" stroke="#858585" stroke-width="0.6" fill="none"/>
<path d="M197.3 468.6L194.4 466.1L192.6 464.6L195.5 467.2Z" fill="#dadada" stroke="#dadada" stroke-width="0.4"/><path d="M197.3 468.6L194.4 466.1M195.5 467.2L192.6 464.6" stroke="#858585" stroke-width="0.6" fill="none"/>
<path d="M198.4 472.5L197.3 468.6L195.5 467.2L196.6 471.1Z" fill="#d6d6d6" stroke="#d6d6d6" stroke-width="0.4"/><path d="M198.4 472.5L197.3 468.6M196.6 471.1L195.5 467.2" stroke="#858585" stroke-width="0.6" fill="none"/>
<path d="M175.1 470.0L175.1 475.1L173.3 473.7L173.4 468.6Z" fill="#717171" stroke="#717171" stroke-width="0.4"/><path d="M175.1 470.0L175.1 475.1M173.4 468.6L173.3 473.7" stroke="#858585" stroke-width="0.6" fill="none"/>
<path d="M177.1 465.5L175.1 470.0L173.4 468.6L175.4 464.1Z" fill="#707070" stroke="#707070" stroke-width="0.4"/><path d="M177.1 465.5L175.1 470.0M175.4 464.1L173.4 468.6" stroke="#858585" stroke-width="0.6" fill="none"/>
<path d="M197.5 476.9L198.4 472.5L196.6 471.1L195.8 475.5Z" fill="#d1d1d1" stroke="#d1d1d1" stroke-width="0.4"/><path d="M197.5 476.9L198.4 472.5M195.8 475.5L196.6 471.1" stroke="#858585" stroke-width="0.6" fill="none"/>
<path d="M175.1 475.1L177.0 479.6L175.3 478.2L173.3 473.7Z" fill="#787878" stroke="#787878" stroke-width="0.4"/><path d="M175.1 475.1L177.0 479.6M173.3 473.7L175.3 478.2" stroke="#858585" stroke-width="0.6" fill="none"/>
<path d="M180.6 462.2L177.1 465.5L175.4 464.1L178.8 460.8Z" fill="#707070" stroke="#707070" stroke-width="0.4"/><path d="M180.6 462.2L177.1 465.5M178.8 460.8L175.4 464.1" stroke="#858585" stroke-width="0.6" fill="none"/>
<path d="M177.0 479.6L180.7 482.8L179.0 481.4L175.3 478.2Z" fill="#7d7d7d" stroke="#7d7d7d" stroke-width="0.4"/><path d="M177.0 479.6L180.7 482.8M175.3 478.2L179.0 481.4" stroke="#858585" stroke-width="0.6" fill="none"/>
<path d="M194.7 480.8L197.5 476.9L195.8 475.5L192.9 479.4Z" fill="#d0d0d0" stroke="#d0d0d0" stroke-width="0.4"/><path d="M194.7 480.8L197.5 476.9M192.9 479.4L195.8 475.5" stroke="#858585" stroke-width="0.6" fill="none"/>
<path d="M180.7 482.8L185.5 484.2L183.7 482.8L179.0 481.4Z" fill="#d0d0d0" stroke="#d0d0d0" stroke-width="0.4"/><path d="M180.7 482.8L185.5 484.2M179.0 481.4L183.7 482.8" stroke="#858585" stroke-width="0.6" fill="none"/>
<path d="M190.4 483.4L194.7 480.8L192.9 479.4L188.7 482.0Z" fill="#d0d0d0" stroke="#d0d0d0" stroke-width="0.4"/><path d="M190.4 483.4L194.7 480.8M188.7 482.0L192.9 479.4" stroke="#858585" stroke-width="0.6" fill="none"/>
<path d="M185.5 484.2L190.4 483.4L188.7 482.0L183.7 482.8Z" fill="#d0d0d0" stroke="#d0d0d0" stroke-width="0.4"/><path d="M185.5 484.2L190.4 483.4M183.7 482.8L188.7 482.0" stroke="#858585" stroke-width="0.6" fill="none"/>
<path d="M184.7 460.8L180.6 462.2L178.8 460.8L182.9 459.4Z" fill="#707070" stroke="#707070" stroke-width="0.4"/><path d="M184.7 460.8L180.6 462.2M182.9 459.4L178.8 460.8" stroke="#858585" stroke-width="0.6" fill="none"/>
<path d="M188.6 461.4L184.7 460.8L182.9 459.4L186.9 460.0Z" fill="#707070" stroke="#707070" stroke-width="0.4"/><path d="M188.6 461.4L184.7 460.8M186.9 460.0L182.9 459.4" stroke="#858585" stroke-width="0.6" fill="none"/>
<path d="M191.5 464.0L188.6 461.4L186.9 460.0L189.7 462.6Z" fill="#dadada" stroke="#dadada" stroke-width="0.4"/><path d="M191.5 464.0L188.6 461.4M189.7 462.6L186.9 460.0" stroke="#858585" stroke-width="0.6" fill="none"/>
<path d="M192.6 467.9L191.5 464.0L189.7 462.6L190.9 466.5Z" fill="#d6d6d6" stroke="#d6d6d6" stroke-width="0.4"/><path d="M192.6 467.9L191.5 464.0M190.9 466.5L189.7 462.6" stroke="#858585" stroke-width="0.6" fill="none"/>
<path d="M169.4 465.4L169.3 470.5L167.5 469.0L167.6 464.0Z" fill="#717171" stroke="#717171" stroke-width="0.4"/><path d="M169.4 465.4L169.3 470.5M167.6 464.0L167.5 469.0" stroke="#858585" stroke-width="0.6" fill="none"/>
<path d="M171.4 460.9L169.4 465.4L167.6 464.0L169.6 459.4Z" fill="#707070" stroke="#707070" stroke-width="0.4"/><path d="M171.4 460.9L169.4 465.4M169.6 459.4L167.6 464.0" stroke="#858585" stroke-width="0.6" fill="none"/>
<path d="M191.8 472.3L192.6 467.9L190.9 466.5L190.0 470.9Z" fill="#d1d1d1" stroke="#d1d1d1" stroke-width="0.4"/><path d="M191.8 472.3L192.6 467.9M190.0 470.9L190.9 466.5" stroke="#858585" stroke-width="0.6" fill="none"/>
<path d="M169.3 470.5L171.3 475.0L169.5 473.6L167.5 469.0Z" fill="#787878" stroke="#787878" stroke-width="0.4"/><path d="M169.3 470.5L171.3 475.0M167.5 469.0L169.5 473.6" stroke="#858585" stroke-width="0.6" fill="none"/>
<path d="M174.8 457.6L171.4 460.9L169.6 459.4L173.0 456.2Z" fill="#707070" stroke="#707070" stroke-width="0.4"/><path d="M174.8 457.6L171.4 460.9M173.0 456.2L169.6 459.4" stroke="#858585" stroke-width="0.6" fill="none"/>
<path d="M171.3 475.0L175.0 478.2L173.2 476.8L169.5 473.6Z" fill="#7d7d7d" stroke="#7d7d7d" stroke-width="0.4"/><path d="M171.3 475.0L175.0 478.2M169.5 473.6L173.2 476.8" stroke="#858585" stroke-width="0.6" fill="none"/>
<path d="M188.9 476.2L191.8 472.3L190.0 470.9L187.2 474.8Z" fill="#d0d0d0" stroke="#d0d0d0" stroke-width="0.4"/><path d="M188.9 476.2L191.8 472.3M187.2 474.8L190.0 470.9" stroke="#858585" stroke-width="0.6" fill="none"/>
<path d="M175.0 478.2L179.7 479.6L178.0 478.2L173.2 476.8Z" fill="#d0d0d0" stroke="#d0d0d0" stroke-width="0.4"/><path d="M175.0 478.2L179.7 479.6M173.2 476.8L178.0 478.2" stroke="#858585" stroke-width="0.6" fill="none"/>
<path d="M184.7 478.8L188.9 476.2L187.2 474.8L182.9 477.4Z" fill="#d0d0d0" stroke="#d0d0d0" stroke-width="0.4"/><path d="M184.7 478.8L188.9 476.2M182.9 477.4L187.2 474.8" stroke="#858585" stroke-width="0.6" fill="none"/>
<path d="M179.7 479.6L184.7 478.8L182.9 477.4L178.0 478.2Z" fill="#d0d0d0" stroke="#d0d0d0" stroke-width="0.4"/><path d="M179.7 479.6L184.7 478.8M178.0 478.2L182.9 477.4" stroke="#858585" stroke-width="0.6" fill="none"/>
<path d="M178.9 456.2L174.8 457.6L173.0 456.2L177.2 454.7Z" fill="#707070" stroke="#707070" stroke-width="0.4"/><path d="M178.9 456.2L174.8 457.6M177.2 454.7L173.0 456.2" stroke="#858585" stroke-width="0.6" fill="none"/>
<path d="M114.0 454.0C116.0 454.7 122.7 456.7 126.0 458.0C129.3 459.3 131.7 460.0 134.0 462.0C136.3 464.0 139.3 467.0 140.0 470.0C140.7 473.0 137.0 477.0 138.0 480.0C139.0 483.0 144.7 486.7 146.0 488.0" fill="none" stroke="#8a8a8a" stroke-width="2.6" stroke-linecap="round" stroke-linejoin="round"/>
<path d="M114.0 454.0C116.0 454.7 122.7 456.7 126.0 458.0C129.3 459.3 131.7 460.0 134.0 462.0C136.3 464.0 139.3 467.0 140.0 470.0C140.7 473.0 137.0 477.0 138.0 480.0C139.0 483.0 144.7 486.7 146.0 488.0" fill="none" stroke="#f2f2f2" stroke-width="1.5" stroke-linecap="round" stroke-linejoin="round"/>
<path d="M126.0 458.0C127.0 460.0 131.7 466.0 132.0 470.0C132.3 474.0 130.0 478.7 128.0 482.0C126.0 485.3 122.7 487.7 120.0 490.0C117.3 492.3 113.3 495.0 112.0 496.0" fill="none" stroke="#8a8a8a" stroke-width="2.6" stroke-linecap="round" stroke-linejoin="round"/>
<path d="M126.0 458.0C127.0 460.0 131.7 466.0 132.0 470.0C132.3 474.0 130.0 478.7 128.0 482.0C126.0 485.3 122.7 487.7 120.0 490.0C117.3 492.3 113.3 495.0 112.0 496.0" fill="none" stroke="#f2f2f2" stroke-width="1.5" stroke-linecap="round" stroke-linejoin="round"/>
<path d="M61.0 462.0C60.2 463.3 56.5 467.0 56.0 470.0C55.5 473.0 56.7 477.0 58.0 480.0C59.3 483.0 61.3 486.0 64.0 488.0C66.7 490.0 70.7 491.7 74.0 492.0C77.3 492.3 81.7 491.3 84.0 490.0C86.3 488.7 87.3 485.0 88.0 484.0" fill="none" stroke="#8a8a8a" stroke-width="2.6" stroke-linecap="round" stroke-linejoin="round"/>
<path d="M61.0 462.0C60.2 463.3 56.5 467.0 56.0 470.0C55.5 473.0 56.7 477.0 58.0 480.0C59.3 483.0 61.3 486.0 64.0 488.0C66.7 490.0 70.7 491.7 74.0 492.0C77.3 492.3 81.7 491.3 84.0 490.0C86.3 488.7 87.3 485.0 88.0 484.0" fill="none" stroke="#f2f2f2" stroke-width="1.5" stroke-linecap="round" stroke-linejoin="round"/>
<path d="M96.0 466.0C97.0 468.0 99.7 474.3 102.0 478.0C104.3 481.7 107.3 485.3 110.0 488.0C112.7 490.7 116.7 493.0 118.0 494.0" fill="none" stroke="#8a8a8a" stroke-width="5.4" stroke-linecap="butt" stroke-linejoin="round"/>
<path d="M96.0 466.0C97.0 468.0 99.7 474.3 102.0 478.0C104.3 481.7 107.3 485.3 110.0 488.0C112.7 490.7 116.7 493.0 118.0 494.0" fill="none" stroke="#e8e8e8" stroke-width="4.0" stroke-linecap="butt" stroke-linejoin="round"/>
<path d="M106.0 490.0C108.0 490.7 113.7 492.7 118.0 494.0C122.3 495.3 129.7 497.3 132.0 498.0" fill="none" stroke="#8a8a8a" stroke-width="7.4" stroke-linecap="butt" stroke-linejoin="round"/>
<path d="M106.0 490.0C108.0 490.7 113.7 492.7 118.0 494.0C122.3 495.3 129.7 497.3 132.0 498.0" fill="none" stroke="#ececec" stroke-width="6.0" stroke-linecap="butt" stroke-linejoin="round"/>
<path d="M136.0 468.0C137.0 469.0 139.7 472.7 142.0 474.0C144.3 475.3 147.3 476.7 150.0 476.0C152.7 475.3 156.7 471.0 158.0 470.0" fill="none" stroke="#8a8a8a" stroke-width="2.5" stroke-linecap="round" stroke-linejoin="round"/>
<path d="M136.0 468.0C137.0 469.0 139.7 472.7 142.0 474.0C144.3 475.3 147.3 476.7 150.0 476.0C152.7 475.3 156.7 471.0 158.0 470.0" fill="none" stroke="#f2f2f2" stroke-width="1.4" stroke-linecap="round" stroke-linejoin="round"/>
<path d="M146.0 522.0C147.7 523.3 152.7 528.0 156.0 530.0C159.3 532.0 162.3 532.7 166.0 534.0C169.7 535.3 176.0 537.3 178.0 538.0" fill="none" stroke="#8a8a8a" stroke-width="2.5" stroke-linecap="round" stroke-linejoin="round"/>
<path d="M146.0 522.0C147.7 523.3 152.7 528.0 156.0 530.0C159.3 532.0 162.3 532.7 166.0 534.0C169.7 535.3 176.0 537.3 178.0 538.0" fill="none" stroke="#f2f2f2" stroke-width="1.4" stroke-linecap="round" stroke-linejoin="round"/>
<path d="M170.0 546.0C172.3 546.7 180.7 547.7 184.0 550.0C187.3 552.3 189.8 556.7 190.0 560.0C190.2 563.3 185.8 568.3 185.0 570.0" fill="none" stroke="#8a8a8a" stroke-width="2.5" stroke-linecap="round" stroke-linejoin="round"/>
<path d="M170.0 546.0C172.3 546.7 180.7 547.7 184.0 550.0C187.3 552.3 189.8 556.7 190.0 560.0C190.2 563.3 185.8 568.3 185.0 570.0" fill="none" stroke="#f2f2f2" stroke-width="1.4" stroke-linecap="round" stroke-linejoin="round"/>
<path d="M68.0 566.0C69.3 566.7 73.3 567.7 76.0 570.0C78.7 572.3 81.8 577.7 84.0 580.0C86.2 582.3 88.2 583.3 89.0 584.0" fill="none" stroke="#8a8a8a" stroke-width="2.5" stroke-linecap="round" stroke-linejoin="round"/>
<path d="M68.0 566.0C69.3 566.7 73.3 567.7 76.0 570.0C78.7 572.3 81.8 577.7 84.0 580.0C86.2 582.3 88.2 583.3 89.0 584.0" fill="none" stroke="#f2f2f2" stroke-width="1.4" stroke-linecap="round" stroke-linejoin="round"/>
<path d="M132.0 590.0C133.3 591.3 137.0 595.7 140.0 598.0C143.0 600.3 146.7 603.7 150.0 604.0C153.3 604.3 157.0 602.0 160.0 600.0C163.0 598.0 166.7 593.3 168.0 592.0" fill="none" stroke="#8a8a8a" stroke-width="2.5" stroke-linecap="round" stroke-linejoin="round"/>
<path d="M132.0 590.0C133.3 591.3 137.0 595.7 140.0 598.0C143.0 600.3 146.7 603.7 150.0 604.0C153.3 604.3 157.0 602.0 160.0 600.0C163.0 598.0 166.7 593.3 168.0 592.0" fill="none" stroke="#f2f2f2" stroke-width="1.4" stroke-linecap="round" stroke-linejoin="round"/>
<path d="M150.0 470.0C151.7 471.3 157.0 475.3 160.0 478.0C163.0 480.7 165.7 483.5 168.0 486.0C170.3 488.5 173.0 491.8 174.0 493.0" fill="none" stroke="#8a8a8a" stroke-width="2.5" stroke-linecap="round" stroke-linejoin="round"/>
<path d="M150.0 470.0C151.7 471.3 157.0 475.3 160.0 478.0C163.0 480.7 165.7 483.5 168.0 486.0C170.3 488.5 173.0 491.8 174.0 493.0" fill="none" stroke="#f2f2f2" stroke-width="1.4" stroke-linecap="round" stroke-linejoin="round"/>
<path d="M134.0 482.0C135.3 482.7 139.3 486.0 142.0 486.0C144.7 486.0 147.7 484.0 150.0 482.0C152.3 480.0 155.0 475.3 156.0 474.0" fill="none" stroke="#8a8a8a" stroke-width="2.4" stroke-linecap="round" stroke-linejoin="round"/>
<path d="M134.0 482.0C135.3 482.7 139.3 486.0 142.0 486.0C144.7 486.0 147.7 484.0 150.0 482.0C152.3 480.0 155.0 475.3 156.0 474.0" fill="none" stroke="#f2f2f2" stroke-width="1.3" stroke-linecap="round" stroke-linejoin="round"/>
<path d="M45.4 521.7L48.7 524.8L43.1 527.7L39.8 524.7Z" fill="#949494" stroke="#949494" stroke-width="0.4"/><path d="M45.4 521.7L48.7 524.8M39.8 524.7L43.1 527.7" stroke="#858585" stroke-width="0.6" fill="none"/>
<path d="M41.6 519.4L45.4 521.7L39.8 524.7L36.0 522.3Z" fill="#808080" stroke="#808080" stroke-width="0.4"/><path d="M41.6 519.4L45.4 521.7M36.0 522.3L39.8 524.7" stroke="#858585" stroke-width="0.6" fill="none"/>
<path d="M48.7 524.8L51.2 527.8L45.5 530.7L43.1 527.7Z" fill="#9f9f9f" stroke="#9f9f9f" stroke-width="0.4"/><path d="M48.7 524.8L51.2 527.8M43.1 527.7L45.5 530.7" stroke="#858585" stroke-width="0.6" fill="none"/>
<path d="M37.8 518.4L41.6 519.4L36.0 522.3L32.1 521.4Z" fill="#676767" stroke="#676767" stroke-width="0.4"/><path d="M37.8 518.4L41.6 519.4M32.1 521.4L36.0 522.3" stroke="#858585" stroke-width="0.6" fill="none"/>
<path d="M34.4 519.1L37.8 518.4L32.1 521.4L28.8 522.0Z" fill="#676767" stroke="#676767" stroke-width="0.4"/><path d="M34.4 519.1L37.8 518.4M28.8 522.0L32.1 521.4" stroke="#858585" stroke-width="0.6" fill="none"/>
<path d="M51.2 527.8L52.5 530.0L46.9 533.0L45.5 530.7Z" fill="#9f9f9f" stroke="#9f9f9f" stroke-width="0.4"/><path d="M51.2 527.8L52.5 530.0M45.5 530.7L46.9 533.0" stroke="#858585" stroke-width="0.6" fill="none"/>
<path d="M52.5 530.0L52.8 531.0L47.2 533.9L46.9 533.0Z" fill="#949494" stroke="#949494" stroke-width="0.4"/><path d="M52.5 530.0L52.8 531.0M46.9 533.0L47.2 533.9" stroke="#858585" stroke-width="0.6" fill="none"/>
<path d="M64.6 511.7L67.9 514.8L62.3 517.7L59.0 514.7Z" fill="#949494" stroke="#949494" stroke-width="0.4"/><path d="M64.6 511.7L67.9 514.8M59.0 514.7L62.3 517.7" stroke="#858585" stroke-width="0.6" fill="none"/>
<path d="M60.8 509.4L64.6 511.7L59.0 514.7L55.2 512.3Z" fill="#808080" stroke="#808080" stroke-width="0.4"/><path d="M60.8 509.4L64.6 511.7M55.2 512.3L59.0 514.7" stroke="#858585" stroke-width="0.6" fill="none"/>
<path d="M67.9 514.8L70.4 517.8L64.7 520.7L62.3 517.7Z" fill="#9f9f9f" stroke="#9f9f9f" stroke-width="0.4"/><path d="M67.9 514.8L70.4 517.8M62.3 517.7L64.7 520.7" stroke="#858585" stroke-width="0.6" fill="none"/>
<path d="M57.0 508.4L60.8 509.4L55.2 512.3L51.3 511.4Z" fill="#676767" stroke="#676767" stroke-width="0.4"/><path d="M57.0 508.4L60.8 509.4M51.3 511.4L55.2 512.3" stroke="#858585" stroke-width="0.6" fill="none"/>
<path d="M52.8 531.0L52.2 530.2L46.6 533.1L47.2 533.9Z" fill="#d0d0d0" stroke="#d0d0d0" stroke-width="0.4"/><path d="M52.8 531.0L52.2 530.2M47.2 533.9L46.6 533.1" stroke="#858585" stroke-width="0.6" fill="none"/>
<path d="M53.6 509.1L57.0 508.4L51.3 511.4L48.0 512.0Z" fill="#676767" stroke="#676767" stroke-width="0.4"/><path d="M53.6 509.1L57.0 508.4M48.0 512.0L51.3 511.4" stroke="#858585" stroke-width="0.6" fill="none"/>
<path d="M70.4 517.8L71.7 520.0L66.1 523.0L64.7 520.7Z" fill="#9f9f9f" stroke="#9f9f9f" stroke-width="0.4"/><path d="M70.4 517.8L71.7 520.0M64.7 520.7L66.1 523.0" stroke="#858585" stroke-width="0.6" fill="none"/>
<path d="M52.2 530.2L51.1 527.8L45.5 530.7L46.6 533.1Z" fill="#d1d1d1" stroke="#d1d1d1" stroke-width="0.4"/><path d="M52.2 530.2L51.1 527.8M46.6 533.1L45.5 530.7" stroke="#858585" stroke-width="0.6" fill="none"/>
<path d="M51.2 511.5L53.6 509.1L48.0 512.0L45.5 514.4Z" fill="#f4f4f4" stroke="#f4f4f4" stroke-width="0.4"/><path d="M51.2 511.5L53.6 509.1M45.5 514.4L48.0 512.0" stroke="#858585" stroke-width="0.6" fill="none"/>
<path d="M71.7 520.0L72.0 521.0L66.4 523.9L66.1 523.0Z" fill="#949494" stroke="#949494" stroke-width="0.4"/><path d="M71.7 520.0L72.0 521.0M66.1 523.0L66.4 523.9" stroke="#858585" stroke-width="0.6" fill="none"/>
<path d="M83.8 501.7L87.1 504.8L81.5 507.7L78.2 504.7Z" fill="#949494" stroke="#949494" stroke-width="0.4"/><path d="M83.8 501.7L87.1 504.8M78.2 504.7L81.5 507.7" stroke="#858585" stroke-width="0.6" fill="none"/>
<path d="M49.8 515.1L51.2 511.5L45.5 514.4L44.1 518.1Z" fill="#fdfdfd" stroke="#fdfdfd" stroke-width="0.4"/><path d="M49.8 515.1L51.2 511.5M44.1 518.1L45.5 514.4" stroke="#858585" stroke-width="0.6" fill="none"/>
<path d="M80.0 499.4L83.8 501.7L78.2 504.7L74.4 502.3Z" fill="#808080" stroke="#808080" stroke-width="0.4"/><path d="M80.0 499.4L83.8 501.7M74.4 502.3L78.2 504.7" stroke="#858585" stroke-width="0.6" fill="none"/>
<path d="M51.1 527.8L50.1 524.1L44.4 527.0L45.5 530.7Z" fill="#e4e4e4" stroke="#e4e4e4" stroke-width="0.4"/><path d="M51.1 527.8L50.1 524.1M45.5 530.7L44.4 527.0" stroke="#858585" stroke-width="0.6" fill="none"/>
<path d="M87.1 504.8L89.6 507.8L83.9 510.7L81.5 507.7Z" fill="#9f9f9f" stroke="#9f9f9f" stroke-width="0.4"/><path d="M87.1 504.8L89.6 507.8M81.5 507.7L83.9 510.7" stroke="#858585" stroke-width="0.6" fill="none"/>
<path d="M49.5 519.6L49.8 515.1L44.1 518.1L43.8 522.5Z" fill="#fdfdfd" stroke="#fdfdfd" stroke-width="0.4"/><path d="M49.5 519.6L49.8 515.1M43.8 522.5L44.1 518.1" stroke="#858585" stroke-width="0.6" fill="none"/>
<path d="M76.2 498.4L80.0 499.4L74.4 502.3L70.5 501.4Z" fill="#676767" stroke="#676767" stroke-width="0.4"/><path d="M76.2 498.4L80.0 499.4M70.5 501.4L74.4 502.3" stroke="#858585" stroke-width="0.6" fill="none"/>
<path d="M50.1 524.1L49.5 519.6L43.8 522.5L44.4 527.0Z" fill="#f4f4f4" stroke="#f4f4f4" stroke-width="0.4"/><path d="M50.1 524.1L49.5 519.6M44.4 527.0L43.8 522.5" stroke="#858585" stroke-width="0.6" fill="none"/>
<path d="M72.0 521.0L71.4 520.2L65.8 523.1L66.4 523.9Z" fill="#d0d0d0" stroke="#d0d0d0" stroke-width="0.4"/><path d="M72.0 521.0L71.4 520.2M66.4 523.9L65.8 523.1" stroke="#858585" stroke-width="0.6" fill="none"/>
<path d="M72.8 499.1L76.2 498.4L70.5 501.4L67.2 502.0Z" fill="#676767" stroke="#676767" stroke-width="0.4"/><path d="M72.8 499.1L76.2 498.4M67.2 502.0L70.5 501.4" stroke="#858585" stroke-width="0.6" fill="none"/>
<path d="M89.6 507.8L90.9 510.0L85.3 513.0L83.9 510.7Z" fill="#9f9f9f" stroke="#9f9f9f" stroke-width="0.4"/><path d="M89.6 507.8L90.9 510.0M83.9 510.7L85.3 513.0" stroke="#858585" stroke-width="0.6" fill="none"/>
<path d="M71.4 520.2L70.3 517.8L64.7 520.7L65.8 523.1Z" fill="#d1d1d1" stroke="#d1d1d1" stroke-width="0.4"/><path d="M71.4 520.2L70.3 517.8M65.8 523.1L64.7 520.7" stroke="#858585" stroke-width="0.6" fill="none"/>
<path d="M70.4 501.5L72.8 499.1L67.2 502.0L64.7 504.4Z" fill="#f4f4f4" stroke="#f4f4f4" stroke-width="0.4"/><path d="M70.4 501.5L72.8 499.1M64.7 504.4L67.2 502.0" stroke="#858585" stroke-width="0.6" fill="none"/>
<path d="M90.9 510.0L91.2 511.0L85.6 513.9L85.3 513.0Z" fill="#949494" stroke="#949494" stroke-width="0.4"/><path d="M90.9 510.0L91.2 511.0M85.3 513.0L85.6 513.9" stroke="#858585" stroke-width="0.6" fill="none"/>
<path d="M69.0 505.1L70.4 501.5L64.7 504.4L63.3 508.1Z" fill="#fdfdfd" stroke="#fdfdfd" stroke-width="0.4"/><path d="M69.0 505.1L70.4 501.5M63.3 508.1L64.7 504.4" stroke="#858585" stroke-width="0.6" fill="none"/>
<path d="M70.3 517.8L69.3 514.1L63.6 517.0L64.7 520.7Z" fill="#e4e4e4" stroke="#e4e4e4" stroke-width="0.4"/><path d="M70.3 517.8L69.3 514.1M64.7 520.7L63.6 517.0" stroke="#858585" stroke-width="0.6" fill="none"/>
<path d="M68.7 509.6L69.0 505.1L63.3 508.1L63.0 512.5Z" fill="#fdfdfd" stroke="#fdfdfd" stroke-width="0.4"/><path d="M68.7 509.6L69.0 505.1M63.0 512.5L63.3 508.1" stroke="#858585" stroke-width="0.6" fill="none"/>
<path d="M69.3 514.1L68.7 509.6L63.0 512.5L63.6 517.0Z" fill="#f4f4f4" stroke="#f4f4f4" stroke-width="0.4"/><path d="M69.3 514.1L68.7 509.6M63.6 517.0L63.0 512.5" stroke="#858585" stroke-width="0.6" fill="none"/>
<path d="M52.6 531.9C54.1 532.1 58.3 533.5 61.5 533.3C64.7 533.0 68.0 530.1 71.9 530.4C75.9 530.6 82.0 535.0 85.2 534.8C88.4 534.5 90.0 529.9 91.0 528.9" fill="none" stroke="#8a8a8a" stroke-width="2.6" stroke-linecap="round" stroke-linejoin="round"/>
<path d="M52.6 531.9C54.1 532.1 58.3 533.5 61.5 533.3C64.7 533.0 68.0 530.1 71.9 530.4C75.9 530.6 82.0 535.0 85.2 534.8C88.4 534.5 90.0 529.9 91.0 528.9" fill="none" stroke="#f2f2f2" stroke-width="1.5" stroke-linecap="round" stroke-linejoin="round"/>
<path d="M94.6 523.6L96.6 527.4L90.2 528.7L88.2 525.0Z" fill="#9f9f9f" stroke="#9f9f9f" stroke-width="0.4"/><path d="M94.6 523.6L96.6 527.4M88.2 525.0L90.2 528.7" stroke="#858585" stroke-width="0.6" fill="none"/>
<path d="M96.6 527.4L97.8 530.5L91.4 531.9L90.2 528.7Z" fill="#a3a3a3" stroke="#a3a3a3" stroke-width="0.4"/><path d="M96.6 527.4L97.8 530.5M90.2 528.7L91.4 531.9" stroke="#858585" stroke-width="0.6" fill="none"/>
<path d="M97.8 530.5L98.3 532.3L91.9 533.6L91.4 531.9Z" fill="#9b9b9b" stroke="#9b9b9b" stroke-width="0.4"/><path d="M97.8 530.5L98.3 532.3M91.4 531.9L91.9 533.6" stroke="#858585" stroke-width="0.6" fill="none"/>
<path d="M112.6 515.6L115.3 519.3L108.9 520.6L106.2 517.0Z" fill="#909090" stroke="#909090" stroke-width="0.4"/><path d="M112.6 515.6L115.3 519.3M106.2 517.0L108.9 520.6" stroke="#858585" stroke-width="0.6" fill="none"/>
<path d="M115.3 519.3L117.3 523.1L110.9 524.4L108.9 520.6Z" fill="#9f9f9f" stroke="#9f9f9f" stroke-width="0.4"/><path d="M115.3 519.3L117.3 523.1M108.9 520.6L110.9 524.4" stroke="#858585" stroke-width="0.6" fill="none"/>
<path d="M109.5 512.9L112.6 515.6L106.2 517.0L103.1 514.2Z" fill="#797979" stroke="#797979" stroke-width="0.4"/><path d="M109.5 512.9L112.6 515.6M103.1 514.2L106.2 517.0" stroke="#858585" stroke-width="0.6" fill="none"/>
<path d="M98.3 532.3L98.2 532.3L91.9 533.7L91.9 533.6Z" fill="#898989" stroke="#898989" stroke-width="0.4"/><path d="M98.3 532.3L98.2 532.3M91.9 533.6L91.9 533.7" stroke="#858585" stroke-width="0.6" fill="none"/>
<path d="M117.3 523.1L118.5 526.2L112.1 527.5L110.9 524.4Z" fill="#a3a3a3" stroke="#a3a3a3" stroke-width="0.4"/><path d="M117.3 523.1L118.5 526.2M110.9 524.4L112.1 527.5" stroke="#858585" stroke-width="0.6" fill="none"/>
<path d="M106.3 511.7L109.5 512.9L103.1 514.2L99.9 513.0Z" fill="#676767" stroke="#676767" stroke-width="0.4"/><path d="M106.3 511.7L109.5 512.9M99.9 513.0L103.1 514.2" stroke="#858585" stroke-width="0.6" fill="none"/>
<path d="M118.5 526.2L118.9 528.0L112.6 529.3L112.1 527.5Z" fill="#9b9b9b" stroke="#9b9b9b" stroke-width="0.4"/><path d="M118.5 526.2L118.9 528.0M112.1 527.5L112.6 529.3" stroke="#858585" stroke-width="0.6" fill="none"/>
<path d="M103.3 512.3L106.3 511.7L99.9 513.0L96.9 513.7Z" fill="#ebebeb" stroke="#ebebeb" stroke-width="0.4"/><path d="M103.3 512.3L106.3 511.7M96.9 513.7L99.9 513.0" stroke="#858585" stroke-width="0.6" fill="none"/>
<path d="M98.2 532.3L98.0 530.5L91.6 531.8L91.9 533.7Z" fill="#d0d0d0" stroke="#d0d0d0" stroke-width="0.4"/><path d="M98.2 532.3L98.0 530.5M91.9 533.7L91.6 531.8" stroke="#858585" stroke-width="0.6" fill="none"/>
<path d="M133.3 511.3L135.9 514.9L129.6 516.3L126.9 512.6Z" fill="#909090" stroke="#909090" stroke-width="0.4"/><path d="M133.3 511.3L135.9 514.9M126.9 512.6L129.6 516.3" stroke="#858585" stroke-width="0.6" fill="none"/>
<path d="M135.9 514.9L137.9 518.7L131.5 520.1L129.6 516.3Z" fill="#9f9f9f" stroke="#9f9f9f" stroke-width="0.4"/><path d="M135.9 514.9L137.9 518.7M129.6 516.3L131.5 520.1" stroke="#858585" stroke-width="0.6" fill="none"/>
<path d="M130.2 508.6L133.3 511.3L126.9 512.6L123.8 509.9Z" fill="#797979" stroke="#797979" stroke-width="0.4"/><path d="M130.2 508.6L133.3 511.3M123.8 509.9L126.9 512.6" stroke="#858585" stroke-width="0.6" fill="none"/>
<path d="M100.8 514.7L103.3 512.3L96.9 513.7L94.4 516.1Z" fill="#f9f9f9" stroke="#f9f9f9" stroke-width="0.4"/><path d="M100.8 514.7L103.3 512.3M94.4 516.1L96.9 513.7" stroke="#858585" stroke-width="0.6" fill="none"/>
<path d="M98.0 530.5L97.8 527.2L91.4 528.5L91.6 531.8Z" fill="#dfdfdf" stroke="#dfdfdf" stroke-width="0.4"/><path d="M98.0 530.5L97.8 527.2M91.6 531.8L91.4 528.5" stroke="#858585" stroke-width="0.6" fill="none"/>
<path d="M118.9 528.0L118.9 528.0L112.5 529.3L112.6 529.3Z" fill="#898989" stroke="#898989" stroke-width="0.4"/><path d="M118.9 528.0L118.9 528.0M112.6 529.3L112.5 529.3" stroke="#858585" stroke-width="0.6" fill="none"/>
<path d="M137.9 518.7L139.1 521.9L132.8 523.2L131.5 520.1Z" fill="#a3a3a3" stroke="#a3a3a3" stroke-width="0.4"/><path d="M137.9 518.7L139.1 521.9M131.5 520.1L132.8 523.2" stroke="#858585" stroke-width="0.6" fill="none"/>
<path d="M126.9 507.4L130.2 508.6L123.8 509.9L120.6 508.7Z" fill="#676767" stroke="#676767" stroke-width="0.4"/><path d="M126.9 507.4L130.2 508.6M120.6 508.7L123.8 509.9" stroke="#858585" stroke-width="0.6" fill="none"/>
<path d="M99.1 518.5L100.8 514.7L94.4 516.1L92.7 519.8Z" fill="#ffffff" stroke="#ffffff" stroke-width="0.4"/><path d="M99.1 518.5L100.8 514.7M92.7 519.8L94.4 516.1" stroke="#858585" stroke-width="0.6" fill="none"/>
<path d="M97.8 527.2L98.1 522.9L91.7 524.2L91.4 528.5Z" fill="#f1f1f1" stroke="#f1f1f1" stroke-width="0.4"/><path d="M97.8 527.2L98.1 522.9M91.4 528.5L91.7 524.2" stroke="#858585" stroke-width="0.6" fill="none"/>
<path d="M98.1 522.9L99.1 518.5L92.7 519.8L91.7 524.2Z" fill="#fdfdfd" stroke="#fdfdfd" stroke-width="0.4"/><path d="M98.1 522.9L99.1 518.5M91.7 524.2L92.7 519.8" stroke="#858585" stroke-width="0.6" fill="none"/>
<path d="M139.1 521.9L139.6 523.6L133.2 525.0L132.8 523.2Z" fill="#9b9b9b" stroke="#9b9b9b" stroke-width="0.4"/><path d="M139.1 521.9L139.6 523.6M132.8 523.2L133.2 525.0" stroke="#858585" stroke-width="0.6" fill="none"/>
<path d="M124.0 508.0L126.9 507.4L120.6 508.7L117.6 509.3Z" fill="#ebebeb" stroke="#ebebeb" stroke-width="0.4"/><path d="M124.0 508.0L126.9 507.4M117.6 509.3L120.6 508.7" stroke="#858585" stroke-width="0.6" fill="none"/>
<path d="M118.9 528.0L118.6 526.2L112.3 527.5L112.5 529.3Z" fill="#d0d0d0" stroke="#d0d0d0" stroke-width="0.4"/><path d="M118.9 528.0L118.6 526.2M112.5 529.3L112.3 527.5" stroke="#858585" stroke-width="0.6" fill="none"/>
<path d="M153.9 507.0L156.6 510.6L150.2 512.0L147.6 508.3Z" fill="#909090" stroke="#909090" stroke-width="0.4"/><path d="M153.9 507.0L156.6 510.6M147.6 508.3L150.2 512.0" stroke="#858585" stroke-width="0.6" fill="none"/>
<path d="M150.8 504.2L153.9 507.0L147.6 508.3L144.5 505.6Z" fill="#797979" stroke="#797979" stroke-width="0.4"/><path d="M150.8 504.2L153.9 507.0M144.5 505.6L147.6 508.3" stroke="#858585" stroke-width="0.6" fill="none"/>
<path d="M121.5 510.4L124.0 508.0L117.6 509.3L115.1 511.7Z" fill="#f9f9f9" stroke="#f9f9f9" stroke-width="0.4"/><path d="M121.5 510.4L124.0 508.0M115.1 511.7L117.6 509.3" stroke="#858585" stroke-width="0.6" fill="none"/>
<path d="M118.6 526.2L118.5 522.8L112.1 524.2L112.3 527.5Z" fill="#dfdfdf" stroke="#dfdfdf" stroke-width="0.4"/><path d="M118.6 526.2L118.5 522.8M112.3 527.5L112.1 524.2" stroke="#858585" stroke-width="0.6" fill="none"/>
<path d="M139.6 523.6L139.6 523.7L133.2 525.0L133.2 525.0Z" fill="#898989" stroke="#898989" stroke-width="0.4"/><path d="M139.6 523.6L139.6 523.7M133.2 525.0L133.2 525.0" stroke="#858585" stroke-width="0.6" fill="none"/>
<path d="M147.6 503.0L150.8 504.2L144.5 505.6L141.2 504.4Z" fill="#676767" stroke="#676767" stroke-width="0.4"/><path d="M147.6 503.0L150.8 504.2M141.2 504.4L144.5 505.6" stroke="#858585" stroke-width="0.6" fill="none"/>
<path d="M119.7 514.1L121.5 510.4L115.1 511.7L113.4 515.5Z" fill="#ffffff" stroke="#ffffff" stroke-width="0.4"/><path d="M119.7 514.1L121.5 510.4M113.4 515.5L115.1 511.7" stroke="#858585" stroke-width="0.6" fill="none"/>
<path d="M118.5 522.8L118.8 518.5L112.4 519.9L112.1 524.2Z" fill="#f1f1f1" stroke="#f1f1f1" stroke-width="0.4"/><path d="M118.5 522.8L118.8 518.5M112.1 524.2L112.4 519.9" stroke="#858585" stroke-width="0.6" fill="none"/>
<path d="M118.8 518.5L119.7 514.1L113.4 515.5L112.4 519.9Z" fill="#fdfdfd" stroke="#fdfdfd" stroke-width="0.4"/><path d="M118.8 518.5L119.7 514.1M112.4 519.9L113.4 515.5" stroke="#858585" stroke-width="0.6" fill="none"/>
<path d="M144.6 503.7L147.6 503.0L141.2 504.4L138.2 505.0Z" fill="#ebebeb" stroke="#ebebeb" stroke-width="0.4"/><path d="M144.6 503.7L147.6 503.0M138.2 505.0L141.2 504.4" stroke="#858585" stroke-width="0.6" fill="none"/>
<path d="M139.6 523.7L139.3 521.8L132.9 523.2L133.2 525.0Z" fill="#d0d0d0" stroke="#d0d0d0" stroke-width="0.4"/><path d="M139.6 523.7L139.3 521.8M133.2 525.0L132.9 523.2" stroke="#858585" stroke-width="0.6" fill="none"/>
<path d="M142.2 506.1L144.6 503.7L138.2 505.0L135.8 507.4Z" fill="#f9f9f9" stroke="#f9f9f9" stroke-width="0.4"/><path d="M142.2 506.1L144.6 503.7M135.8 507.4L138.2 505.0" stroke="#858585" stroke-width="0.6" fill="none"/>
<path d="M139.3 521.8L139.1 518.5L132.8 519.8L132.9 523.2Z" fill="#dfdfdf" stroke="#dfdfdf" stroke-width="0.4"/><path d="M139.3 521.8L139.1 518.5M132.9 523.2L132.8 519.8" stroke="#858585" stroke-width="0.6" fill="none"/>
<path d="M140.4 509.8L142.2 506.1L135.8 507.4L134.0 511.1Z" fill="#ffffff" stroke="#ffffff" stroke-width="0.4"/><path d="M140.4 509.8L142.2 506.1M134.0 511.1L135.8 507.4" stroke="#858585" stroke-width="0.6" fill="none"/>
<path d="M139.1 518.5L139.4 514.2L133.1 515.6L132.8 519.8Z" fill="#f1f1f1" stroke="#f1f1f1" stroke-width="0.4"/><path d="M139.1 518.5L139.4 514.2M132.8 519.8L133.1 515.6" stroke="#858585" stroke-width="0.6" fill="none"/>
<path d="M139.4 514.2L140.4 509.8L134.0 511.1L133.1 515.6Z" fill="#fdfdfd" stroke="#fdfdfd" stroke-width="0.4"/><path d="M139.4 514.2L140.4 509.8M133.1 515.6L134.0 511.1" stroke="#858585" stroke-width="0.6" fill="none"/>
<path d="M156.7 509.9L158.7 514.2L156.4 512.9L154.5 508.6Z" fill="#727272" stroke="#727272" stroke-width="0.4"/><path d="M156.7 509.9L158.7 514.2M154.5 508.6L156.4 512.9" stroke="#858585" stroke-width="0.6" fill="none"/>
<path d="M156.6 505.2L156.7 509.9L154.5 508.6L154.3 503.9Z" fill="#6b6b6b" stroke="#6b6b6b" stroke-width="0.4"/><path d="M156.6 505.2L156.7 509.9M154.3 503.9L154.5 508.6" stroke="#858585" stroke-width="0.6" fill="none"/>
<path d="M158.7 514.2L162.2 517.3L159.9 516.0L156.4 512.9Z" fill="#777777" stroke="#777777" stroke-width="0.4"/><path d="M158.7 514.2L162.2 517.3M156.4 512.9L159.9 516.0" stroke="#858585" stroke-width="0.6" fill="none"/>
<path d="M158.1 500.9L156.6 505.2L154.3 503.9L155.9 499.6Z" fill="#676767" stroke="#676767" stroke-width="0.4"/><path d="M158.1 500.9L156.6 505.2M155.9 499.6L154.3 503.9" stroke="#858585" stroke-width="0.6" fill="none"/>
<path d="M160.9 497.9L158.1 500.9L155.9 499.6L158.7 496.6Z" fill="#676767" stroke="#676767" stroke-width="0.4"/><path d="M160.9 497.9L158.1 500.9M158.7 496.6L155.9 499.6" stroke="#858585" stroke-width="0.6" fill="none"/>
<path d="M164.3 496.6L160.9 497.9L158.7 496.6L162.0 495.3Z" fill="#676767" stroke="#676767" stroke-width="0.4"/><path d="M164.3 496.6L160.9 497.9M162.0 495.3L158.7 496.6" stroke="#858585" stroke-width="0.6" fill="none"/>
<path d="M167.4 497.3L164.3 496.6L162.0 495.3L165.2 496.0Z" fill="#676767" stroke="#676767" stroke-width="0.4"/><path d="M167.4 497.3L164.3 496.6M165.2 496.0L162.0 495.3" stroke="#858585" stroke-width="0.6" fill="none"/>
<path d="M169.6 499.7L167.4 497.3L165.2 496.0L167.3 498.4Z" fill="#dddddd" stroke="#dddddd" stroke-width="0.4"/><path d="M169.6 499.7L167.4 497.3M167.3 498.4L165.2 496.0" stroke="#858585" stroke-width="0.6" fill="none"/>
<path d="M170.2 503.2L169.6 499.7L167.3 498.4L167.9 501.9Z" fill="#d9d9d9" stroke="#d9d9d9" stroke-width="0.4"/><path d="M170.2 503.2L169.6 499.7M167.9 501.9L167.3 498.4" stroke="#858585" stroke-width="0.6" fill="none"/>
<path d="M169.0 507.2L170.2 503.2L167.9 501.9L166.8 505.9Z" fill="#d3d3d3" stroke="#d3d3d3" stroke-width="0.4"/><path d="M169.0 507.2L170.2 503.2M166.8 505.9L167.9 501.9" stroke="#858585" stroke-width="0.6" fill="none"/>
<path d="M147.4 504.5L149.3 508.9L147.1 507.6L145.1 503.3Z" fill="#727272" stroke="#727272" stroke-width="0.4"/><path d="M147.4 504.5L149.3 508.9M145.1 503.3L147.1 507.6" stroke="#858585" stroke-width="0.6" fill="none"/>
<path d="M147.2 499.8L147.4 504.5L145.1 503.3L145.0 498.5Z" fill="#6b6b6b" stroke="#6b6b6b" stroke-width="0.4"/><path d="M147.2 499.8L147.4 504.5M145.0 498.5L145.1 503.3" stroke="#858585" stroke-width="0.6" fill="none"/>
<path d="M166.1 510.6L169.0 507.2L166.8 505.9L163.9 509.4Z" fill="#d0d0d0" stroke="#d0d0d0" stroke-width="0.4"/><path d="M166.1 510.6L169.0 507.2M163.9 509.4L166.8 505.9" stroke="#858585" stroke-width="0.6" fill="none"/>
<path d="M149.3 508.9L152.8 512.0L150.6 510.7L147.1 507.6Z" fill="#777777" stroke="#777777" stroke-width="0.4"/><path d="M149.3 508.9L152.8 512.0M147.1 507.6L150.6 510.7" stroke="#858585" stroke-width="0.6" fill="none"/>
<path d="M152.8 512.0L157.3 513.4L155.1 512.1L150.6 510.7Z" fill="#d0d0d0" stroke="#d0d0d0" stroke-width="0.4"/><path d="M152.8 512.0L157.3 513.4M150.6 510.7L155.1 512.1" stroke="#858585" stroke-width="0.6" fill="none"/>
<path d="M148.8 495.6L147.2 499.8L145.0 498.5L146.5 494.3Z" fill="#676767" stroke="#676767" stroke-width="0.4"/><path d="M148.8 495.6L147.2 499.8M146.5 494.3L145.0 498.5" stroke="#858585" stroke-width="0.6" fill="none"/>
<path d="M162.0 512.9L166.1 510.6L163.9 509.4L159.8 511.6Z" fill="#d0d0d0" stroke="#d0d0d0" stroke-width="0.4"/><path d="M162.0 512.9L166.1 510.6M159.8 511.6L163.9 509.4" stroke="#858585" stroke-width="0.6" fill="none"/>
<path d="M157.3 513.4L162.0 512.9L159.8 511.6L155.1 512.1Z" fill="#d0d0d0" stroke="#d0d0d0" stroke-width="0.4"/><path d="M157.3 513.4L162.0 512.9M155.1 512.1L159.8 511.6" stroke="#858585" stroke-width="0.6" fill="none"/>
<path d="M151.6 492.6L148.8 495.6L146.5 494.3L149.3 491.3Z" fill="#676767" stroke="#676767" stroke-width="0.4"/><path d="M151.6 492.6L148.8 495.6M149.3 491.3L146.5 494.3" stroke="#858585" stroke-width="0.6" fill="none"/>
<path d="M154.9 491.3L151.6 492.6L149.3 491.3L152.7 490.0Z" fill="#676767" stroke="#676767" stroke-width="0.4"/><path d="M154.9 491.3L151.6 492.6M152.7 490.0L149.3 491.3" stroke="#858585" stroke-width="0.6" fill="none"/>
<path d="M158.1 492.0L154.9 491.3L152.7 490.0L155.8 490.7Z" fill="#676767" stroke="#676767" stroke-width="0.4"/><path d="M158.1 492.0L154.9 491.3M155.8 490.7L152.7 490.0" stroke="#858585" stroke-width="0.6" fill="none"/>
<path d="M169.4 524.1L168.4 523.4L163.8 524.0L164.8 524.7Z" fill="#d0d0d0" stroke="#d0d0d0" stroke-width="0.4"/><path d="M169.4 524.1L168.4 523.4M164.8 524.7L163.8 524.0" stroke="#858585" stroke-width="0.6" fill="none"/>
<path d="M184.6 508.2L187.6 511.2L183.0 511.8L180.1 508.8Z" fill="#838383" stroke="#838383" stroke-width="0.4"/><path d="M184.6 508.2L187.6 511.2M180.1 508.8L183.0 511.8" stroke="#858585" stroke-width="0.6" fill="none"/>
<path d="M168.4 523.4L167.7 521.1L163.1 521.7L163.8 524.0Z" fill="#d3d3d3" stroke="#d3d3d3" stroke-width="0.4"/><path d="M168.4 523.4L167.7 521.1M163.8 524.0L163.1 521.7" stroke="#858585" stroke-width="0.6" fill="none"/>
<path d="M187.6 511.2L189.5 514.8L184.9 515.4L183.0 511.8Z" fill="#969696" stroke="#969696" stroke-width="0.4"/><path d="M187.6 511.2L189.5 514.8M183.0 511.8L184.9 515.4" stroke="#858585" stroke-width="0.6" fill="none"/>
<path d="M181.0 506.3L184.6 508.2L180.1 508.8L176.5 506.9Z" fill="#6b6b6b" stroke="#6b6b6b" stroke-width="0.4"/><path d="M181.0 506.3L184.6 508.2M176.5 506.9L180.1 508.8" stroke="#858585" stroke-width="0.6" fill="none"/>
<path d="M177.2 505.9L181.0 506.3L176.5 506.9L172.6 506.5Z" fill="#676767" stroke="#676767" stroke-width="0.4"/><path d="M177.2 505.9L181.0 506.3M172.6 506.5L176.5 506.9" stroke="#858585" stroke-width="0.6" fill="none"/>
<path d="M189.5 514.8L190.3 518.1L185.7 518.7L184.9 515.4Z" fill="#9f9f9f" stroke="#9f9f9f" stroke-width="0.4"/><path d="M189.5 514.8L190.3 518.1M184.9 515.4L185.7 518.7" stroke="#858585" stroke-width="0.6" fill="none"/>
<path d="M167.7 521.1L167.6 517.7L163.0 518.3L163.1 521.7Z" fill="#e6e6e6" stroke="#e6e6e6" stroke-width="0.4"/><path d="M167.7 521.1L167.6 517.7M163.1 521.7L163.0 518.3" stroke="#858585" stroke-width="0.6" fill="none"/>
<path d="M173.5 507.3L177.2 505.9L172.6 506.5L168.9 507.9Z" fill="#f2f2f2" stroke="#f2f2f2" stroke-width="0.4"/><path d="M173.5 507.3L177.2 505.9M168.9 507.9L172.6 506.5" stroke="#858585" stroke-width="0.6" fill="none"/>
<path d="M170.5 510.0L173.5 507.3L168.9 507.9L166.0 510.7Z" fill="#fcfcfc" stroke="#fcfcfc" stroke-width="0.4"/><path d="M170.5 510.0L173.5 507.3M166.0 510.7L168.9 507.9" stroke="#858585" stroke-width="0.6" fill="none"/>
<path d="M167.6 517.7L168.5 513.8L163.9 514.4L163.0 518.3Z" fill="#f5f5f5" stroke="#f5f5f5" stroke-width="0.4"/><path d="M167.6 517.7L168.5 513.8M163.0 518.3L163.9 514.4" stroke="#858585" stroke-width="0.6" fill="none"/>
<path d="M190.3 518.1L190.2 520.5L185.6 521.1L185.7 518.7Z" fill="#9e9e9e" stroke="#9e9e9e" stroke-width="0.4"/><path d="M190.3 518.1L190.2 520.5M185.7 518.7L185.6 521.1" stroke="#858585" stroke-width="0.6" fill="none"/>
<path d="M168.5 513.8L170.5 510.0L166.0 510.7L163.9 514.4Z" fill="#fdfdfd" stroke="#fdfdfd" stroke-width="0.4"/><path d="M168.5 513.8L170.5 510.0M163.9 514.4L166.0 510.7" stroke="#858585" stroke-width="0.6" fill="none"/>
<path d="M190.2 520.5L189.4 521.5L184.8 522.1L185.6 521.1Z" fill="#919191" stroke="#919191" stroke-width="0.4"/><path d="M190.2 520.5L189.4 521.5M185.6 521.1L184.8 522.1" stroke="#858585" stroke-width="0.6" fill="none"/>
<path d="M189.4 521.5L188.4 520.7L183.8 521.4L184.8 522.1Z" fill="#d0d0d0" stroke="#d0d0d0" stroke-width="0.4"/><path d="M189.4 521.5L188.4 520.7M184.8 522.1L183.8 521.4" stroke="#858585" stroke-width="0.6" fill="none"/>
<path d="M188.4 520.7L187.7 518.5L183.1 519.1L183.8 521.4Z" fill="#d3d3d3" stroke="#d3d3d3" stroke-width="0.4"/><path d="M188.4 520.7L187.7 518.5M183.8 521.4L183.1 519.1" stroke="#858585" stroke-width="0.6" fill="none"/>
<path d="M187.7 518.5L187.6 515.0L183.0 515.6L183.1 519.1Z" fill="#e6e6e6" stroke="#e6e6e6" stroke-width="0.4"/><path d="M187.7 518.5L187.6 515.0M183.1 519.1L183.0 515.6" stroke="#858585" stroke-width="0.6" fill="none"/>
<path d="M193.5 504.6L197.2 503.3L192.6 503.9L188.9 505.2Z" fill="#f2f2f2" stroke="#f2f2f2" stroke-width="0.4"/><path d="M193.5 504.6L197.2 503.3M188.9 505.2L192.6 503.9" stroke="#858585" stroke-width="0.6" fill="none"/>
<path d="M190.5 507.4L193.5 504.6L188.9 505.2L186.0 508.0Z" fill="#fcfcfc" stroke="#fcfcfc" stroke-width="0.4"/><path d="M190.5 507.4L193.5 504.6M186.0 508.0L188.9 505.2" stroke="#858585" stroke-width="0.6" fill="none"/>
<path d="M187.6 515.0L188.5 511.1L183.9 511.7L183.0 515.6Z" fill="#f5f5f5" stroke="#f5f5f5" stroke-width="0.4"/><path d="M187.6 515.0L188.5 511.1M183.0 515.6L183.9 511.7" stroke="#858585" stroke-width="0.6" fill="none"/>
<path d="M188.5 511.1L190.5 507.4L186.0 508.0L183.9 511.7Z" fill="#fdfdfd" stroke="#fdfdfd" stroke-width="0.4"/><path d="M188.5 511.1L190.5 507.4M183.9 511.7L186.0 508.0" stroke="#858585" stroke-width="0.6" fill="none"/>
<path d="M66.0 549.6C67.0 550.0 70.0 551.6 72.0 552.0C74.0 552.4 77.0 552.0 78.0 552.0" fill="none" stroke="#8a8a8a" stroke-width="2.6" stroke-linecap="round" stroke-linejoin="round"/>
<path d="M66.0 549.6C67.0 550.0 70.0 551.6 72.0 552.0C74.0 552.4 77.0 552.0 78.0 552.0" fill="none" stroke="#f2f2f2" stroke-width="1.5" stroke-linecap="round" stroke-linejoin="round"/>
<path d="M85.7 546.7L87.9 550.8L80.3 551.4L78.1 547.2Z" fill="#909090" stroke="#909090" stroke-width="0.4"/><path d="M85.7 546.7L87.9 550.8M78.1 547.2L80.3 551.4" stroke="#858585" stroke-width="0.6" fill="none"/>
<path d="M87.9 550.8L89.5 555.1L81.9 555.6L80.3 551.4Z" fill="#9f9f9f" stroke="#9f9f9f" stroke-width="0.4"/><path d="M87.9 550.8L89.5 555.1M80.3 551.4L81.9 555.6" stroke="#858585" stroke-width="0.6" fill="none"/>
<path d="M83.0 543.5L85.7 546.7L78.1 547.2L75.4 544.1Z" fill="#797979" stroke="#797979" stroke-width="0.4"/><path d="M83.0 543.5L85.7 546.7M75.4 544.1L78.1 547.2" stroke="#858585" stroke-width="0.6" fill="none"/>
<path d="M89.5 555.1L90.5 558.6L82.9 559.2L81.9 555.6Z" fill="#a3a3a3" stroke="#a3a3a3" stroke-width="0.4"/><path d="M89.5 555.1L90.5 558.6M81.9 555.6L82.9 559.2" stroke="#858585" stroke-width="0.6" fill="none"/>
<path d="M90.5 558.6L91.0 560.7L83.4 561.3L82.9 559.2Z" fill="#9b9b9b" stroke="#9b9b9b" stroke-width="0.4"/><path d="M90.5 558.6L91.0 560.7M82.9 559.2L83.4 561.3" stroke="#858585" stroke-width="0.6" fill="none"/>
<path d="M107.1 545.0L109.3 549.2L101.7 549.7L99.5 545.6Z" fill="#909090" stroke="#909090" stroke-width="0.4"/><path d="M107.1 545.0L109.3 549.2M99.5 545.6L101.7 549.7" stroke="#858585" stroke-width="0.6" fill="none"/>
<path d="M109.3 549.2L110.9 553.4L103.3 554.0L101.7 549.7Z" fill="#9f9f9f" stroke="#9f9f9f" stroke-width="0.4"/><path d="M109.3 549.2L110.9 553.4M101.7 549.7L103.3 554.0" stroke="#858585" stroke-width="0.6" fill="none"/>
<path d="M104.4 541.9L107.1 545.0L99.5 545.6L96.8 542.5Z" fill="#797979" stroke="#797979" stroke-width="0.4"/><path d="M104.4 541.9L107.1 545.0M96.8 542.5L99.5 545.6" stroke="#858585" stroke-width="0.6" fill="none"/>
<path d="M110.9 553.4L111.9 557.0L104.3 557.6L103.3 554.0Z" fill="#a3a3a3" stroke="#a3a3a3" stroke-width="0.4"/><path d="M110.9 553.4L111.9 557.0M103.3 554.0L104.3 557.6" stroke="#858585" stroke-width="0.6" fill="none"/>
<path d="M91.0 560.7L91.2 560.9L83.6 561.4L83.4 561.3Z" fill="#898989" stroke="#898989" stroke-width="0.4"/><path d="M91.0 560.7L91.2 560.9M83.4 561.3L83.6 561.4" stroke="#858585" stroke-width="0.6" fill="none"/>
<path d="M101.5 540.3L104.4 541.9L96.8 542.5L93.9 540.9Z" fill="#676767" stroke="#676767" stroke-width="0.4"/><path d="M101.5 540.3L104.4 541.9M93.9 540.9L96.8 542.5" stroke="#858585" stroke-width="0.6" fill="none"/>
<path d="M111.9 557.0L112.4 559.1L104.8 559.6L104.3 557.6Z" fill="#9b9b9b" stroke="#9b9b9b" stroke-width="0.4"/><path d="M111.9 557.0L112.4 559.1M104.3 557.6L104.8 559.6" stroke="#858585" stroke-width="0.6" fill="none"/>
<path d="M128.5 543.4L130.7 547.5L123.1 548.1L120.9 544.0Z" fill="#909090" stroke="#909090" stroke-width="0.4"/><path d="M128.5 543.4L130.7 547.5M120.9 544.0L123.1 548.1" stroke="#858585" stroke-width="0.6" fill="none"/>
<path d="M130.7 547.5L132.3 551.8L124.7 552.4L123.1 548.1Z" fill="#9f9f9f" stroke="#9f9f9f" stroke-width="0.4"/><path d="M130.7 547.5L132.3 551.8M123.1 548.1L124.7 552.4" stroke="#858585" stroke-width="0.6" fill="none"/>
<path d="M98.6 540.8L101.5 540.3L93.9 540.9L91.0 541.3Z" fill="#ebebeb" stroke="#ebebeb" stroke-width="0.4"/><path d="M98.6 540.8L101.5 540.3M91.0 541.3L93.9 540.9" stroke="#858585" stroke-width="0.6" fill="none"/>
<path d="M91.2 560.9L91.3 559.1L83.7 559.7L83.6 561.4Z" fill="#d0d0d0" stroke="#d0d0d0" stroke-width="0.4"/><path d="M91.2 560.9L91.3 559.1M83.6 561.4L83.7 559.7" stroke="#858585" stroke-width="0.6" fill="none"/>
<path d="M125.8 540.3L128.5 543.4L120.9 544.0L118.2 540.8Z" fill="#797979" stroke="#797979" stroke-width="0.4"/><path d="M125.8 540.3L128.5 543.4M118.2 540.8L120.9 544.0" stroke="#858585" stroke-width="0.6" fill="none"/>
<path d="M132.3 551.8L133.3 555.3L125.7 555.9L124.7 552.4Z" fill="#a3a3a3" stroke="#a3a3a3" stroke-width="0.4"/><path d="M132.3 551.8L133.3 555.3M124.7 552.4L125.7 555.9" stroke="#858585" stroke-width="0.6" fill="none"/>
<path d="M112.4 559.1L112.6 559.2L105.0 559.8L104.8 559.6Z" fill="#898989" stroke="#898989" stroke-width="0.4"/><path d="M112.4 559.1L112.6 559.2M104.8 559.6L105.0 559.8" stroke="#858585" stroke-width="0.6" fill="none"/>
<path d="M122.9 538.7L125.8 540.3L118.2 540.8L115.3 539.3Z" fill="#676767" stroke="#676767" stroke-width="0.4"/><path d="M122.9 538.7L125.8 540.3M115.3 539.3L118.2 540.8" stroke="#858585" stroke-width="0.6" fill="none"/>
<path d="M96.0 543.1L98.6 540.8L91.0 541.3L88.4 543.7Z" fill="#fafafa" stroke="#fafafa" stroke-width="0.4"/><path d="M96.0 543.1L98.6 540.8M88.4 543.7L91.0 541.3" stroke="#858585" stroke-width="0.6" fill="none"/>
<path d="M91.3 559.1L91.7 555.7L84.1 556.3L83.7 559.7Z" fill="#dedede" stroke="#dedede" stroke-width="0.4"/><path d="M91.3 559.1L91.7 555.7M83.7 559.7L84.1 556.3" stroke="#858585" stroke-width="0.6" fill="none"/>
<path d="M133.3 555.3L133.8 557.4L126.2 558.0L125.7 555.9Z" fill="#9b9b9b" stroke="#9b9b9b" stroke-width="0.4"/><path d="M133.3 555.3L133.8 557.4M125.7 555.9L126.2 558.0" stroke="#858585" stroke-width="0.6" fill="none"/>
<path d="M93.9 546.8L96.0 543.1L88.4 543.7L86.4 547.4Z" fill="#ffffff" stroke="#ffffff" stroke-width="0.4"/><path d="M93.9 546.8L96.0 543.1M86.4 547.4L88.4 543.7" stroke="#858585" stroke-width="0.6" fill="none"/>
<path d="M149.9 541.8L152.1 545.9L144.5 546.5L142.3 542.4Z" fill="#909090" stroke="#909090" stroke-width="0.4"/><path d="M149.9 541.8L152.1 545.9M142.3 542.4L144.5 546.5" stroke="#858585" stroke-width="0.6" fill="none"/>
<path d="M152.1 545.9L153.7 550.2L146.1 550.8L144.5 546.5Z" fill="#9f9f9f" stroke="#9f9f9f" stroke-width="0.4"/><path d="M152.1 545.9L153.7 550.2M144.5 546.5L146.1 550.8" stroke="#858585" stroke-width="0.6" fill="none"/>
<path d="M91.7 555.7L92.5 551.3L84.9 551.9L84.1 556.3Z" fill="#f1f1f1" stroke="#f1f1f1" stroke-width="0.4"/><path d="M91.7 555.7L92.5 551.3M84.1 556.3L84.9 551.9" stroke="#858585" stroke-width="0.6" fill="none"/>
<path d="M120.0 539.1L122.9 538.7L115.3 539.3L112.4 539.7Z" fill="#ebebeb" stroke="#ebebeb" stroke-width="0.4"/><path d="M120.0 539.1L122.9 538.7M112.4 539.7L115.3 539.3" stroke="#858585" stroke-width="0.6" fill="none"/>
<path d="M92.5 551.3L93.9 546.8L86.4 547.4L84.9 551.9Z" fill="#fdfdfd" stroke="#fdfdfd" stroke-width="0.4"/><path d="M92.5 551.3L93.9 546.8M84.9 551.9L86.4 547.4" stroke="#858585" stroke-width="0.6" fill="none"/>
<path d="M112.6 559.2L112.7 557.5L105.1 558.1L105.0 559.8Z" fill="#d0d0d0" stroke="#d0d0d0" stroke-width="0.4"/><path d="M112.6 559.2L112.7 557.5M105.0 559.8L105.1 558.1" stroke="#858585" stroke-width="0.6" fill="none"/>
<path d="M147.2 538.6L149.9 541.8L142.3 542.4L139.6 539.2Z" fill="#797979" stroke="#797979" stroke-width="0.4"/><path d="M147.2 538.6L149.9 541.8M139.6 539.2L142.3 542.4" stroke="#858585" stroke-width="0.6" fill="none"/>
<path d="M153.7 550.2L154.7 553.7L147.1 554.3L146.1 550.8Z" fill="#a3a3a3" stroke="#a3a3a3" stroke-width="0.4"/><path d="M153.7 550.2L154.7 553.7M146.1 550.8L147.1 554.3" stroke="#858585" stroke-width="0.6" fill="none"/>
<path d="M133.8 557.4L133.9 557.6L126.4 558.2L126.2 558.0Z" fill="#898989" stroke="#898989" stroke-width="0.4"/><path d="M133.8 557.4L133.9 557.6M126.2 558.0L126.4 558.2" stroke="#858585" stroke-width="0.6" fill="none"/>
<path d="M144.3 537.1L147.2 538.6L139.6 539.2L136.7 537.7Z" fill="#676767" stroke="#676767" stroke-width="0.4"/><path d="M144.3 537.1L147.2 538.6M136.7 537.7L139.6 539.2" stroke="#858585" stroke-width="0.6" fill="none"/>
<path d="M117.4 541.4L120.0 539.1L112.4 539.7L109.8 542.0Z" fill="#fafafa" stroke="#fafafa" stroke-width="0.4"/><path d="M117.4 541.4L120.0 539.1M109.8 542.0L112.4 539.7" stroke="#858585" stroke-width="0.6" fill="none"/>
<path d="M112.7 557.5L113.1 554.1L105.5 554.7L105.1 558.1Z" fill="#dedede" stroke="#dedede" stroke-width="0.4"/><path d="M112.7 557.5L113.1 554.1M105.1 558.1L105.5 554.7" stroke="#858585" stroke-width="0.6" fill="none"/>
<path d="M154.7 553.7L155.2 555.8L147.6 556.4L147.1 554.3Z" fill="#9b9b9b" stroke="#9b9b9b" stroke-width="0.4"/><path d="M154.7 553.7L155.2 555.8M147.1 554.3L147.6 556.4" stroke="#858585" stroke-width="0.6" fill="none"/>
<path d="M115.3 545.2L117.4 541.4L109.8 542.0L107.8 545.8Z" fill="#ffffff" stroke="#ffffff" stroke-width="0.4"/><path d="M115.3 545.2L117.4 541.4M107.8 545.8L109.8 542.0" stroke="#858585" stroke-width="0.6" fill="none"/>
<path d="M171.3 540.2L173.5 544.3L165.9 544.9L163.7 540.7Z" fill="#909090" stroke="#909090" stroke-width="0.4"/><path d="M171.3 540.2L173.5 544.3M163.7 540.7L165.9 544.9" stroke="#858585" stroke-width="0.6" fill="none"/>
<path d="M173.5 544.3L175.1 548.6L167.5 549.1L165.9 544.9Z" fill="#9f9f9f" stroke="#9f9f9f" stroke-width="0.4"/><path d="M173.5 544.3L175.1 548.6M165.9 544.9L167.5 549.1" stroke="#858585" stroke-width="0.6" fill="none"/>
<path d="M113.1 554.1L113.9 549.7L106.3 550.3L105.5 554.7Z" fill="#f1f1f1" stroke="#f1f1f1" stroke-width="0.4"/><path d="M113.1 554.1L113.9 549.7M105.5 554.7L106.3 550.3" stroke="#858585" stroke-width="0.6" fill="none"/>
<path d="M141.4 537.5L144.3 537.1L136.7 537.7L133.8 538.1Z" fill="#ebebeb" stroke="#ebebeb" stroke-width="0.4"/><path d="M141.4 537.5L144.3 537.1M133.8 538.1L136.7 537.7" stroke="#858585" stroke-width="0.6" fill="none"/>
<path d="M113.9 549.7L115.3 545.2L107.8 545.8L106.3 550.3Z" fill="#fdfdfd" stroke="#fdfdfd" stroke-width="0.4"/><path d="M113.9 549.7L115.3 545.2M106.3 550.3L107.8 545.8" stroke="#858585" stroke-width="0.6" fill="none"/>
<path d="M133.9 557.6L134.1 555.8L126.5 556.4L126.4 558.2Z" fill="#d0d0d0" stroke="#d0d0d0" stroke-width="0.4"/><path d="M133.9 557.6L134.1 555.8M126.4 558.2L126.5 556.4" stroke="#858585" stroke-width="0.6" fill="none"/>
<path d="M168.6 537.0L171.3 540.2L163.7 540.7L161.0 537.6Z" fill="#797979" stroke="#797979" stroke-width="0.4"/><path d="M168.6 537.0L171.3 540.2M161.0 537.6L163.7 540.7" stroke="#858585" stroke-width="0.6" fill="none"/>
<path d="M175.1 548.6L176.2 552.6L168.6 553.2L167.5 549.1Z" fill="#a2a2a2" stroke="#a2a2a2" stroke-width="0.4"/><path d="M175.1 548.6L176.2 552.6M167.5 549.1L168.6 553.2" stroke="#858585" stroke-width="0.6" fill="none"/>
<path d="M155.2 555.8L155.3 556.0L147.8 556.6L147.6 556.4Z" fill="#898989" stroke="#898989" stroke-width="0.4"/><path d="M155.2 555.8L155.3 556.0M147.6 556.4L147.8 556.6" stroke="#858585" stroke-width="0.6" fill="none"/>
<path d="M165.7 535.5L168.6 537.0L161.0 537.6L158.1 536.0Z" fill="#676767" stroke="#676767" stroke-width="0.4"/><path d="M165.7 535.5L168.6 537.0M158.1 536.0L161.0 537.6" stroke="#858585" stroke-width="0.6" fill="none"/>
<path d="M138.8 539.8L141.4 537.5L133.8 538.1L131.2 540.4Z" fill="#fafafa" stroke="#fafafa" stroke-width="0.4"/><path d="M138.8 539.8L141.4 537.5M131.2 540.4L133.8 538.1" stroke="#858585" stroke-width="0.6" fill="none"/>
<path d="M134.1 555.8L134.5 552.5L126.9 553.0L126.5 556.4Z" fill="#dedede" stroke="#dedede" stroke-width="0.4"/><path d="M134.1 555.8L134.5 552.5M126.5 556.4L126.9 553.0" stroke="#858585" stroke-width="0.6" fill="none"/>
<path d="M136.7 543.6L138.8 539.8L131.2 540.4L129.1 544.2Z" fill="#ffffff" stroke="#ffffff" stroke-width="0.4"/><path d="M136.7 543.6L138.8 539.8M129.1 544.2L131.2 540.4" stroke="#858585" stroke-width="0.6" fill="none"/>
<path d="M134.5 552.5L135.3 548.1L127.7 548.7L126.9 553.0Z" fill="#f1f1f1" stroke="#f1f1f1" stroke-width="0.4"/><path d="M134.5 552.5L135.3 548.1M126.9 553.0L127.7 548.7" stroke="#858585" stroke-width="0.6" fill="none"/>
<path d="M162.8 535.9L165.7 535.5L158.1 536.0L155.2 536.5Z" fill="#ebebeb" stroke="#ebebeb" stroke-width="0.4"/><path d="M162.8 535.9L165.7 535.5M155.2 536.5L158.1 536.0" stroke="#858585" stroke-width="0.6" fill="none"/>
<path d="M135.3 548.1L136.7 543.6L129.1 544.2L127.7 548.7Z" fill="#fdfdfd" stroke="#fdfdfd" stroke-width="0.4"/><path d="M135.3 548.1L136.7 543.6M127.7 548.7L129.1 544.2" stroke="#858585" stroke-width="0.6" fill="none"/>
<path d="M155.3 556.0L155.5 554.2L147.9 554.8L147.8 556.6Z" fill="#d0d0d0" stroke="#d0d0d0" stroke-width="0.4"/><path d="M155.3 556.0L155.5 554.2M147.8 556.6L147.9 554.8" stroke="#858585" stroke-width="0.6" fill="none"/>
<path d="M160.2 538.2L162.8 535.9L155.2 536.5L152.6 538.8Z" fill="#fafafa" stroke="#fafafa" stroke-width="0.4"/><path d="M160.2 538.2L162.8 535.9M152.6 538.8L155.2 536.5" stroke="#858585" stroke-width="0.6" fill="none"/>
<path d="M155.5 554.2L155.8 550.8L148.3 551.4L147.9 554.8Z" fill="#dedede" stroke="#dedede" stroke-width="0.4"/><path d="M155.5 554.2L155.8 550.8M147.9 554.8L148.3 551.4" stroke="#858585" stroke-width="0.6" fill="none"/>
<path d="M158.1 542.0L160.2 538.2L152.6 538.8L150.5 542.5Z" fill="#ffffff" stroke="#ffffff" stroke-width="0.4"/><path d="M158.1 542.0L160.2 538.2M150.5 542.5L152.6 538.8" stroke="#858585" stroke-width="0.6" fill="none"/>
<path d="M155.8 550.8L156.7 546.5L149.1 547.0L148.3 551.4Z" fill="#f1f1f1" stroke="#f1f1f1" stroke-width="0.4"/><path d="M155.8 550.8L156.7 546.5M148.3 551.4L149.1 547.0" stroke="#858585" stroke-width="0.6" fill="none"/>
<path d="M156.7 546.5L158.1 542.0L150.5 542.5L149.1 547.0Z" fill="#fdfdfd" stroke="#fdfdfd" stroke-width="0.4"/><path d="M156.7 546.5L158.1 542.0M149.1 547.0L150.5 542.5" stroke="#858585" stroke-width="0.6" fill="none"/>
<path d="M161.9 569.4L159.5 568.2L156.3 567.9L158.8 569.1Z" fill="#e9e9e9" stroke="#e9e9e9" stroke-width="0.4"/><path d="M161.9 569.4L159.5 568.2M158.8 569.1L156.3 567.9" stroke="#858585" stroke-width="0.6" fill="none"/>
<path d="M142.8 579.0L144.8 583.2L141.6 582.9L139.7 578.7Z" fill="#6b6b6b" stroke="#6b6b6b" stroke-width="0.4"/><path d="M142.8 579.0L144.8 583.2M139.7 578.7L141.6 582.9" stroke="#858585" stroke-width="0.6" fill="none"/>
<path d="M142.4 574.5L142.8 579.0L139.7 578.7L139.3 574.2Z" fill="#626262" stroke="#626262" stroke-width="0.4"/><path d="M142.4 574.5L142.8 579.0M139.3 574.2L139.7 578.7" stroke="#858585" stroke-width="0.6" fill="none"/>
<path d="M144.8 583.2L148.0 586.2L144.9 586.0L141.6 582.9Z" fill="#707070" stroke="#707070" stroke-width="0.4"/><path d="M144.8 583.2L148.0 586.2M141.6 582.9L144.9 586.0" stroke="#858585" stroke-width="0.6" fill="none"/>
<path d="M163.5 572.3L161.9 569.4L158.8 569.1L160.4 572.0Z" fill="#e9e9e9" stroke="#e9e9e9" stroke-width="0.4"/><path d="M163.5 572.3L161.9 569.4M160.4 572.0L158.8 569.1" stroke="#858585" stroke-width="0.6" fill="none"/>
<path d="M143.5 570.5L142.4 574.5L139.3 574.2L140.3 570.3Z" fill="#565656" stroke="#565656" stroke-width="0.4"/><path d="M143.5 570.5L142.4 574.5M140.3 570.3L139.3 574.2" stroke="#858585" stroke-width="0.6" fill="none"/>
<path d="M148.0 586.2L152.1 587.6L148.9 587.3L144.9 586.0Z" fill="#707070" stroke="#707070" stroke-width="0.4"/><path d="M148.0 586.2L152.1 587.6M144.9 586.0L148.9 587.3" stroke="#858585" stroke-width="0.6" fill="none"/>
<path d="M152.1 587.6L156.3 587.0L153.1 586.7L148.9 587.3Z" fill="#d0d0d0" stroke="#d0d0d0" stroke-width="0.4"/><path d="M152.1 587.6L156.3 587.0M148.9 587.3L153.1 586.7" stroke="#858585" stroke-width="0.6" fill="none"/>
<path d="M163.9 576.4L163.5 572.3L160.4 572.0L160.7 576.1Z" fill="#e5e5e5" stroke="#e5e5e5" stroke-width="0.4"/><path d="M163.9 576.4L163.5 572.3M160.7 576.1L160.4 572.0" stroke="#858585" stroke-width="0.6" fill="none"/>
<path d="M145.6 567.9L143.5 570.5L140.3 570.3L142.4 567.7Z" fill="#565656" stroke="#565656" stroke-width="0.4"/><path d="M145.6 567.9L143.5 570.5M142.4 567.7L140.3 570.3" stroke="#858585" stroke-width="0.6" fill="none"/>
<path d="M156.3 587.0L160.0 584.5L156.9 584.2L153.1 586.7Z" fill="#d0d0d0" stroke="#d0d0d0" stroke-width="0.4"/><path d="M156.3 587.0L160.0 584.5M153.1 586.7L156.9 584.2" stroke="#858585" stroke-width="0.6" fill="none"/>
<path d="M162.7 580.7L163.9 576.4L160.7 576.1L159.5 580.5Z" fill="#dcdcdc" stroke="#dcdcdc" stroke-width="0.4"/><path d="M162.7 580.7L163.9 576.4M159.5 580.5L160.7 576.1" stroke="#858585" stroke-width="0.6" fill="none"/>
<path d="M160.0 584.5L162.7 580.7L159.5 580.5L156.9 584.2Z" fill="#d1d1d1" stroke="#d1d1d1" stroke-width="0.4"/><path d="M160.0 584.5L162.7 580.7M156.9 584.2L159.5 580.5" stroke="#858585" stroke-width="0.6" fill="none"/>
<path d="M148.2 567.2L145.6 567.9L142.4 567.7L145.1 566.9Z" fill="#565656" stroke="#565656" stroke-width="0.4"/><path d="M148.2 567.2L145.6 567.9M145.1 566.9L142.4 567.7" stroke="#858585" stroke-width="0.6" fill="none"/>
<path d="M150.7 568.4L148.2 567.2L145.1 566.9L147.5 568.1Z" fill="#e9e9e9" stroke="#e9e9e9" stroke-width="0.4"/><path d="M150.7 568.4L148.2 567.2M147.5 568.1L145.1 566.9" stroke="#858585" stroke-width="0.6" fill="none"/>
<path d="M131.6 578.0L133.5 582.2L130.4 581.9L128.4 577.7Z" fill="#6b6b6b" stroke="#6b6b6b" stroke-width="0.4"/><path d="M131.6 578.0L133.5 582.2M128.4 577.7L130.4 581.9" stroke="#858585" stroke-width="0.6" fill="none"/>
<path d="M131.2 573.5L131.6 578.0L128.4 577.7L128.0 573.2Z" fill="#626262" stroke="#626262" stroke-width="0.4"/><path d="M131.2 573.5L131.6 578.0M128.0 573.2L128.4 577.7" stroke="#858585" stroke-width="0.6" fill="none"/>
<path d="M133.5 582.2L136.8 585.2L133.6 585.0L130.4 581.9Z" fill="#707070" stroke="#707070" stroke-width="0.4"/><path d="M133.5 582.2L136.8 585.2M130.4 581.9L133.6 585.0" stroke="#858585" stroke-width="0.6" fill="none"/>
<path d="M152.3 571.3L150.7 568.4L147.5 568.1L149.1 571.0Z" fill="#e9e9e9" stroke="#e9e9e9" stroke-width="0.4"/><path d="M152.3 571.3L150.7 568.4M149.1 571.0L147.5 568.1" stroke="#858585" stroke-width="0.6" fill="none"/>
<path d="M132.2 569.5L131.2 573.5L128.0 573.2L129.1 569.3Z" fill="#565656" stroke="#565656" stroke-width="0.4"/><path d="M132.2 569.5L131.2 573.5M129.1 569.3L128.0 573.2" stroke="#858585" stroke-width="0.6" fill="none"/>
<path d="M136.8 585.2L140.8 586.6L137.7 586.3L133.6 585.0Z" fill="#707070" stroke="#707070" stroke-width="0.4"/><path d="M136.8 585.2L140.8 586.6M133.6 585.0L137.7 586.3" stroke="#858585" stroke-width="0.6" fill="none"/>
<path d="M140.8 586.6L145.1 586.0L141.9 585.7L137.7 586.3Z" fill="#d0d0d0" stroke="#d0d0d0" stroke-width="0.4"/><path d="M140.8 586.6L145.1 586.0M137.7 586.3L141.9 585.7" stroke="#858585" stroke-width="0.6" fill="none"/>
<path d="M152.6 575.4L152.3 571.3L149.1 571.0L149.5 575.1Z" fill="#e5e5e5" stroke="#e5e5e5" stroke-width="0.4"/><path d="M152.6 575.4L152.3 571.3M149.5 575.1L149.1 571.0" stroke="#858585" stroke-width="0.6" fill="none"/>
<path d="M134.3 566.9L132.2 569.5L129.1 569.3L131.2 566.7Z" fill="#565656" stroke="#565656" stroke-width="0.4"/><path d="M134.3 566.9L132.2 569.5M131.2 566.7L129.1 569.3" stroke="#858585" stroke-width="0.6" fill="none"/>
<path d="M145.1 586.0L148.8 583.5L145.6 583.2L141.9 585.7Z" fill="#d0d0d0" stroke="#d0d0d0" stroke-width="0.4"/><path d="M145.1 586.0L148.8 583.5M141.9 585.7L145.6 583.2" stroke="#858585" stroke-width="0.6" fill="none"/>
<path d="M151.4 579.7L152.6 575.4L149.5 575.1L148.3 579.5Z" fill="#dcdcdc" stroke="#dcdcdc" stroke-width="0.4"/><path d="M151.4 579.7L152.6 575.4M148.3 579.5L149.5 575.1" stroke="#858585" stroke-width="0.6" fill="none"/>
<path d="M148.8 583.5L151.4 579.7L148.3 579.5L145.6 583.2Z" fill="#d1d1d1" stroke="#d1d1d1" stroke-width="0.4"/><path d="M148.8 583.5L151.4 579.7M145.6 583.2L148.3 579.5" stroke="#858585" stroke-width="0.6" fill="none"/>
<path d="M137.0 566.2L134.3 566.9L131.2 566.7L133.8 565.9Z" fill="#565656" stroke="#565656" stroke-width="0.4"/><path d="M137.0 566.2L134.3 566.9M133.8 565.9L131.2 566.7" stroke="#858585" stroke-width="0.6" fill="none"/>
<path d="M139.4 567.4L137.0 566.2L133.8 565.9L136.3 567.1Z" fill="#e9e9e9" stroke="#e9e9e9" stroke-width="0.4"/><path d="M139.4 567.4L137.0 566.2M136.3 567.1L133.8 565.9" stroke="#858585" stroke-width="0.6" fill="none"/>
<path d="M120.3 577.0L122.3 581.2L119.1 580.9L117.2 576.7Z" fill="#6b6b6b" stroke="#6b6b6b" stroke-width="0.4"/><path d="M120.3 577.0L122.3 581.2M117.2 576.7L119.1 580.9" stroke="#858585" stroke-width="0.6" fill="none"/>
<path d="M119.9 572.5L120.3 577.0L117.2 576.7L116.8 572.2Z" fill="#626262" stroke="#626262" stroke-width="0.4"/><path d="M119.9 572.5L120.3 577.0M116.8 572.2L117.2 576.7" stroke="#858585" stroke-width="0.6" fill="none"/>
<path d="M122.3 581.2L125.5 584.2L122.4 584.0L119.1 580.9Z" fill="#707070" stroke="#707070" stroke-width="0.4"/><path d="M122.3 581.2L125.5 584.2M119.1 580.9L122.4 584.0" stroke="#858585" stroke-width="0.6" fill="none"/>
<path d="M141.0 570.3L139.4 567.4L136.3 567.1L137.9 570.0Z" fill="#e9e9e9" stroke="#e9e9e9" stroke-width="0.4"/><path d="M141.0 570.3L139.4 567.4M137.9 570.0L136.3 567.1" stroke="#858585" stroke-width="0.6" fill="none"/>
<path d="M121.0 568.5L119.9 572.5L116.8 572.2L117.8 568.3Z" fill="#565656" stroke="#565656" stroke-width="0.4"/><path d="M121.0 568.5L119.9 572.5M117.8 568.3L116.8 572.2" stroke="#858585" stroke-width="0.6" fill="none"/>
<path d="M125.5 584.2L129.6 585.6L126.4 585.3L122.4 584.0Z" fill="#707070" stroke="#707070" stroke-width="0.4"/><path d="M125.5 584.2L129.6 585.6M122.4 584.0L126.4 585.3" stroke="#858585" stroke-width="0.6" fill="none"/>
<path d="M129.6 585.6L133.8 585.0L130.6 584.7L126.4 585.3Z" fill="#d0d0d0" stroke="#d0d0d0" stroke-width="0.4"/><path d="M129.6 585.6L133.8 585.0M126.4 585.3L130.6 584.7" stroke="#858585" stroke-width="0.6" fill="none"/>
<path d="M141.4 574.4L141.0 570.3L137.9 570.0L138.2 574.1Z" fill="#e5e5e5" stroke="#e5e5e5" stroke-width="0.4"/><path d="M141.4 574.4L141.0 570.3M138.2 574.1L137.9 570.0" stroke="#858585" stroke-width="0.6" fill="none"/>
<path d="M123.1 565.9L121.0 568.5L117.8 568.3L119.9 565.7Z" fill="#565656" stroke="#565656" stroke-width="0.4"/><path d="M123.1 565.9L121.0 568.5M119.9 565.7L117.8 568.3" stroke="#858585" stroke-width="0.6" fill="none"/>
<path d="M133.8 585.0L137.5 582.5L134.4 582.2L130.6 584.7Z" fill="#d0d0d0" stroke="#d0d0d0" stroke-width="0.4"/><path d="M133.8 585.0L137.5 582.5M130.6 584.7L134.4 582.2" stroke="#858585" stroke-width="0.6" fill="none"/>
<path d="M140.2 578.7L141.4 574.4L138.2 574.1L137.0 578.5Z" fill="#dcdcdc" stroke="#dcdcdc" stroke-width="0.4"/><path d="M140.2 578.7L141.4 574.4M137.0 578.5L138.2 574.1" stroke="#858585" stroke-width="0.6" fill="none"/>
<path d="M137.5 582.5L140.2 578.7L137.0 578.5L134.4 582.2Z" fill="#d1d1d1" stroke="#d1d1d1" stroke-width="0.4"/><path d="M137.5 582.5L140.2 578.7M134.4 582.2L137.0 578.5" stroke="#858585" stroke-width="0.6" fill="none"/>
<path d="M125.7 565.2L123.1 565.9L119.9 565.7L122.6 564.9Z" fill="#565656" stroke="#565656" stroke-width="0.4"/><path d="M125.7 565.2L123.1 565.9M122.6 564.9L119.9 565.7" stroke="#858585" stroke-width="0.6" fill="none"/>
<path d="M128.2 566.4L125.7 565.2L122.6 564.9L125.0 566.1Z" fill="#e9e9e9" stroke="#e9e9e9" stroke-width="0.4"/><path d="M128.2 566.4L125.7 565.2M125.0 566.1L122.6 564.9" stroke="#858585" stroke-width="0.6" fill="none"/>
<path d="M109.1 576.0L111.0 580.2L107.9 579.9L105.9 575.7Z" fill="#6b6b6b" stroke="#6b6b6b" stroke-width="0.4"/><path d="M109.1 576.0L111.0 580.2M105.9 575.7L107.9 579.9" stroke="#858585" stroke-width="0.6" fill="none"/>
<path d="M108.7 571.5L109.1 576.0L105.9 575.7L105.5 571.2Z" fill="#626262" stroke="#626262" stroke-width="0.4"/><path d="M108.7 571.5L109.1 576.0M105.5 571.2L105.9 575.7" stroke="#858585" stroke-width="0.6" fill="none"/>
<path d="M111.0 580.2L114.3 583.2L111.1 583.0L107.9 579.9Z" fill="#707070" stroke="#707070" stroke-width="0.4"/><path d="M111.0 580.2L114.3 583.2M107.9 579.9L111.1 583.0" stroke="#858585" stroke-width="0.6" fill="none"/>
<path d="M129.8 569.3L128.2 566.4L125.0 566.1L126.6 569.0Z" fill="#e9e9e9" stroke="#e9e9e9" stroke-width="0.4"/><path d="M129.8 569.3L128.2 566.4M126.6 569.0L125.0 566.1" stroke="#858585" stroke-width="0.6" fill="none"/>
<path d="M109.7 567.5L108.7 571.5L105.5 571.2L106.6 567.3Z" fill="#565656" stroke="#565656" stroke-width="0.4"/><path d="M109.7 567.5L108.7 571.5M106.6 567.3L105.5 571.2" stroke="#858585" stroke-width="0.6" fill="none"/>
<path d="M114.3 583.2L118.3 584.6L115.2 584.3L111.1 583.0Z" fill="#707070" stroke="#707070" stroke-width="0.4"/><path d="M114.3 583.2L118.3 584.6M111.1 583.0L115.2 584.3" stroke="#858585" stroke-width="0.6" fill="none"/>
<path d="M118.3 584.6L122.6 584.0L119.4 583.7L115.2 584.3Z" fill="#d0d0d0" stroke="#d0d0d0" stroke-width="0.4"/><path d="M118.3 584.6L122.6 584.0M115.2 584.3L119.4 583.7" stroke="#858585" stroke-width="0.6" fill="none"/>
<path d="M130.1 573.4L129.8 569.3L126.6 569.0L127.0 573.1Z" fill="#e5e5e5" stroke="#e5e5e5" stroke-width="0.4"/><path d="M130.1 573.4L129.8 569.3M127.0 573.1L126.6 569.0" stroke="#858585" stroke-width="0.6" fill="none"/>
<path d="M111.8 564.9L109.7 567.5L106.6 567.3L108.7 564.7Z" fill="#565656" stroke="#565656" stroke-width="0.4"/><path d="M111.8 564.9L109.7 567.5M108.7 564.7L106.6 567.3" stroke="#858585" stroke-width="0.6" fill="none"/>
<path d="M122.6 584.0L126.3 581.5L123.1 581.2L119.4 583.7Z" fill="#d0d0d0" stroke="#d0d0d0" stroke-width="0.4"/><path d="M122.6 584.0L126.3 581.5M119.4 583.7L123.1 581.2" stroke="#858585" stroke-width="0.6" fill="none"/>
<path d="M128.9 577.7L130.1 573.4L127.0 573.1L125.8 577.5Z" fill="#dcdcdc" stroke="#dcdcdc" stroke-width="0.4"/><path d="M128.9 577.7L130.1 573.4M125.8 577.5L127.0 573.1" stroke="#858585" stroke-width="0.6" fill="none"/>
<path d="M126.3 581.5L128.9 577.7L125.8 577.5L123.1 581.2Z" fill="#d1d1d1" stroke="#d1d1d1" stroke-width="0.4"/><path d="M126.3 581.5L128.9 577.7M123.1 581.2L125.8 577.5" stroke="#858585" stroke-width="0.6" fill="none"/>
<path d="M114.5 564.2L111.8 564.9L108.7 564.7L111.3 563.9Z" fill="#565656" stroke="#565656" stroke-width="0.4"/><path d="M114.5 564.2L111.8 564.9M111.3 563.9L108.7 564.7" stroke="#858585" stroke-width="0.6" fill="none"/>
<path d="M106.2 612.8L101.8 613.9L101.8 608.9L106.2 607.8Z" fill="#7e7e7e" stroke="#7e7e7e" stroke-width="0.4"/><path d="M106.2 612.8L101.8 613.9M106.2 607.8L101.8 608.9" stroke="#858585" stroke-width="0.6" fill="none"/>
<path d="M101.8 613.9L97.8 616.0L97.8 611.0L101.8 608.9Z" fill="#747474" stroke="#747474" stroke-width="0.4"/><path d="M101.8 613.9L97.8 616.0M101.8 608.9L97.8 611.0" stroke="#858585" stroke-width="0.6" fill="none"/>
<path d="M110.2 612.8L106.2 612.8L106.2 607.8L110.2 607.9Z" fill="#848484" stroke="#848484" stroke-width="0.4"/><path d="M110.2 612.8L106.2 612.8M110.2 607.9L106.2 607.8" stroke="#858585" stroke-width="0.6" fill="none"/>
<path d="M97.8 616.0L95.0 619.0L95.0 614.0L97.8 611.0Z" fill="#676767" stroke="#676767" stroke-width="0.4"/><path d="M97.8 616.0L95.0 619.0M97.8 611.0L95.0 614.0" stroke="#858585" stroke-width="0.6" fill="none"/>
<path d="M95.0 619.0L94.0 622.5L94.0 617.5L95.0 614.0Z" fill="#676767" stroke="#676767" stroke-width="0.4"/><path d="M95.0 619.0L94.0 622.5M95.0 614.0L94.0 617.5" stroke="#858585" stroke-width="0.6" fill="none"/>
<path d="M113.0 613.7L110.2 612.8L110.2 607.9L113.0 608.7Z" fill="#848484" stroke="#848484" stroke-width="0.4"/><path d="M113.0 613.7L110.2 612.8M113.0 608.7L110.2 607.9" stroke="#858585" stroke-width="0.6" fill="none"/>
<path d="M114.0 615.1L113.0 613.7L113.0 608.7L114.0 610.1Z" fill="#7e7e7e" stroke="#7e7e7e" stroke-width="0.4"/><path d="M114.0 615.1L113.0 613.7M114.0 610.1L113.0 608.7" stroke="#858585" stroke-width="0.6" fill="none"/>
<path d="M106.2 598.0L101.8 599.1L101.8 594.1L106.2 593.0Z" fill="#7e7e7e" stroke="#7e7e7e" stroke-width="0.4"/><path d="M106.2 598.0L101.8 599.1M106.2 593.0L101.8 594.1" stroke="#858585" stroke-width="0.6" fill="none"/>
<path d="M101.8 599.1L97.8 601.2L97.8 596.2L101.8 594.1Z" fill="#747474" stroke="#747474" stroke-width="0.4"/><path d="M101.8 599.1L97.8 601.2M101.8 594.1L97.8 596.2" stroke="#858585" stroke-width="0.6" fill="none"/>
<path d="M110.2 598.0L106.2 598.0L106.2 593.0L110.2 593.1Z" fill="#848484" stroke="#848484" stroke-width="0.4"/><path d="M110.2 598.0L106.2 598.0M110.2 593.1L106.2 593.0" stroke="#858585" stroke-width="0.6" fill="none"/>
<path d="M97.8 601.2L95.0 604.2L95.0 599.2L97.8 596.2Z" fill="#676767" stroke="#676767" stroke-width="0.4"/><path d="M97.8 601.2L95.0 604.2M97.8 596.2L95.0 599.2" stroke="#858585" stroke-width="0.6" fill="none"/>
<path d="M113.0 616.5L114.0 615.1L114.0 610.1L113.0 611.5Z" fill="#d0d0d0" stroke="#d0d0d0" stroke-width="0.4"/><path d="M113.0 616.5L114.0 615.1M113.0 611.5L114.0 610.1" stroke="#858585" stroke-width="0.6" fill="none"/>
<path d="M95.0 604.2L94.0 607.7L94.0 602.7L95.0 599.2Z" fill="#676767" stroke="#676767" stroke-width="0.4"/><path d="M95.0 604.2L94.0 607.7M95.0 599.2L94.0 602.7" stroke="#858585" stroke-width="0.6" fill="none"/>
<path d="M113.0 598.9L110.2 598.0L110.2 593.1L113.0 593.9Z" fill="#848484" stroke="#848484" stroke-width="0.4"/><path d="M113.0 598.9L110.2 598.0M113.0 593.9L110.2 593.1" stroke="#858585" stroke-width="0.6" fill="none"/>
<path d="M110.2 617.3L113.0 616.5L113.0 611.5L110.2 612.4Z" fill="#d1d1d1" stroke="#d1d1d1" stroke-width="0.4"/><path d="M110.2 617.3L113.0 616.5M110.2 612.4L113.0 611.5" stroke="#858585" stroke-width="0.6" fill="none"/>
<path d="M94.0 607.7L95.0 611.2L95.0 606.2L94.0 602.7Z" fill="#e3e3e3" stroke="#e3e3e3" stroke-width="0.4"/><path d="M94.0 607.7L95.0 611.2M94.0 602.7L95.0 606.2" stroke="#858585" stroke-width="0.6" fill="none"/>
<path d="M114.0 600.3L113.0 598.9L113.0 593.9L114.0 595.3Z" fill="#7e7e7e" stroke="#7e7e7e" stroke-width="0.4"/><path d="M114.0 600.3L113.0 598.9M114.0 595.3L113.0 593.9" stroke="#858585" stroke-width="0.6" fill="none"/>
<path d="M95.0 611.2L97.8 614.2L97.8 609.2L95.0 606.2Z" fill="#e7e7e7" stroke="#e7e7e7" stroke-width="0.4"/><path d="M95.0 611.2L97.8 614.2M95.0 606.2L97.8 609.2" stroke="#858585" stroke-width="0.6" fill="none"/>
<path d="M106.2 617.4L110.2 617.3L110.2 612.4L106.2 612.4Z" fill="#dbdbdb" stroke="#dbdbdb" stroke-width="0.4"/><path d="M106.2 617.4L110.2 617.3M106.2 612.4L110.2 612.4" stroke="#858585" stroke-width="0.6" fill="none"/>
<path d="M106.2 583.2L101.8 584.3L101.8 579.3L106.2 578.2Z" fill="#7e7e7e" stroke="#7e7e7e" stroke-width="0.4"/><path d="M106.2 583.2L101.8 584.3M106.2 578.2L101.8 579.3" stroke="#858585" stroke-width="0.6" fill="none"/>
<path d="M101.8 584.3L97.8 586.4L97.8 581.4L101.8 579.3Z" fill="#747474" stroke="#747474" stroke-width="0.4"/><path d="M101.8 584.3L97.8 586.4M101.8 579.3L97.8 581.4" stroke="#858585" stroke-width="0.6" fill="none"/>
<path d="M97.8 614.2L101.8 616.3L101.8 611.3L97.8 609.2Z" fill="#e7e7e7" stroke="#e7e7e7" stroke-width="0.4"/><path d="M97.8 614.2L101.8 616.3M97.8 609.2L101.8 611.3" stroke="#858585" stroke-width="0.6" fill="none"/>
<path d="M101.8 616.3L106.2 617.4L106.2 612.4L101.8 611.3Z" fill="#e3e3e3" stroke="#e3e3e3" stroke-width="0.4"/><path d="M101.8 616.3L106.2 617.4M101.8 611.3L106.2 612.4" stroke="#858585" stroke-width="0.6" fill="none"/>
<path d="M110.2 583.2L106.2 583.2L106.2 578.2L110.2 578.3Z" fill="#848484" stroke="#848484" stroke-width="0.4"/><path d="M110.2 583.2L106.2 583.2M110.2 578.3L106.2 578.2" stroke="#858585" stroke-width="0.6" fill="none"/>
<path d="M97.8 586.4L95.0 589.4L95.0 584.4L97.8 581.4Z" fill="#676767" stroke="#676767" stroke-width="0.4"/><path d="M97.8 586.4L95.0 589.4M97.8 581.4L95.0 584.4" stroke="#858585" stroke-width="0.6" fill="none"/>
<path d="M113.0 601.7L114.0 600.3L114.0 595.3L113.0 596.7Z" fill="#d0d0d0" stroke="#d0d0d0" stroke-width="0.4"/><path d="M113.0 601.7L114.0 600.3M113.0 596.7L114.0 595.3" stroke="#858585" stroke-width="0.6" fill="none"/>
<path d="M95.0 589.4L94.0 592.9L94.0 587.9L95.0 584.4Z" fill="#676767" stroke="#676767" stroke-width="0.4"/><path d="M95.0 589.4L94.0 592.9M95.0 584.4L94.0 587.9" stroke="#858585" stroke-width="0.6" fill="none"/>
<path d="M113.0 584.1L110.2 583.2L110.2 578.3L113.0 579.1Z" fill="#848484" stroke="#848484" stroke-width="0.4"/><path d="M113.0 584.1L110.2 583.2M113.0 579.1L110.2 578.3" stroke="#858585" stroke-width="0.6" fill="none"/>
<path d="M110.2 602.5L113.0 601.7L113.0 596.7L110.2 597.6Z" fill="#d1d1d1" stroke="#d1d1d1" stroke-width="0.4"/><path d="M110.2 602.5L113.0 601.7M110.2 597.6L113.0 596.7" stroke="#858585" stroke-width="0.6" fill="none"/>
<path d="M94.0 592.9L95.0 596.4L95.0 591.4L94.0 587.9Z" fill="#e3e3e3" stroke="#e3e3e3" stroke-width="0.4"/><path d="M94.0 592.9L95.0 596.4M94.0 587.9L95.0 591.4" stroke="#858585" stroke-width="0.6" fill="none"/>
<path d="M114.0 585.5L113.0 584.1L113.0 579.1L114.0 580.5Z" fill="#7e7e7e" stroke="#7e7e7e" stroke-width="0.4"/><path d="M114.0 585.5L113.0 584.1M114.0 580.5L113.0 579.1" stroke="#858585" stroke-width="0.6" fill="none"/>
<path d="M95.0 596.4L97.8 599.4L97.8 594.4L95.0 591.4Z" fill="#e7e7e7" stroke="#e7e7e7" stroke-width="0.4"/><path d="M95.0 596.4L97.8 599.4M95.0 591.4L97.8 594.4" stroke="#858585" stroke-width="0.6" fill="none"/>
<path d="M106.2 602.6L110.2 602.5L110.2 597.6L106.2 597.6Z" fill="#dbdbdb" stroke="#dbdbdb" stroke-width="0.4"/><path d="M106.2 602.6L110.2 602.5M106.2 597.6L110.2 597.6" stroke="#858585" stroke-width="0.6" fill="none"/>
<path d="M97.8 599.4L101.8 601.5L101.8 596.5L97.8 594.4Z" fill="#e7e7e7" stroke="#e7e7e7" stroke-width="0.4"/><path d="M97.8 599.4L101.8 601.5M97.8 594.4L101.8 596.5" stroke="#858585" stroke-width="0.6" fill="none"/>
<path d="M101.8 601.5L106.2 602.6L106.2 597.6L101.8 596.5Z" fill="#e3e3e3" stroke="#e3e3e3" stroke-width="0.4"/><path d="M101.8 601.5L106.2 602.6M101.8 596.5L106.2 597.6" stroke="#858585" stroke-width="0.6" fill="none"/>
<path d="M76.6 572.4C76.2 573.5 73.1 577.3 74.5 578.7C75.9 580.1 82.9 578.7 85.0 580.7C87.1 582.8 87.4 588.0 87.0 591.0C86.6 594.0 83.5 597.2 82.8 598.4" fill="none" stroke="#8a8a8a" stroke-width="2.6" stroke-linecap="round" stroke-linejoin="round"/>
<path d="M76.6 572.4C76.2 573.5 73.1 577.3 74.5 578.7C75.9 580.1 82.9 578.7 85.0 580.7C87.1 582.8 87.4 588.0 87.0 591.0C86.6 594.0 83.5 597.2 82.8 598.4" fill="none" stroke="#f2f2f2" stroke-width="1.5" stroke-linecap="round" stroke-linejoin="round"/>
<path d="M79.0 598.0C80.0 599.3 84.0 604.3 85.0 605.6" fill="none" stroke="#777" stroke-width="5.4" stroke-linecap="butt" stroke-linejoin="round"/>
<path d="M79.0 598.0C80.0 599.3 84.0 604.3 85.0 605.6" fill="none" stroke="#bbb" stroke-width="4.0" stroke-linecap="butt" stroke-linejoin="round"/>
<path d="M118.0 609.8C118.4 612.2 118.1 621.2 120.2 624.3C122.3 627.4 126.4 628.1 130.5 628.5C134.6 628.9 142.2 628.8 145.0 626.4C147.8 624.0 145.6 617.5 147.0 614.0C148.4 610.5 149.9 607.3 153.4 605.6C156.9 603.9 164.7 602.6 168.0 603.6C171.3 604.6 170.6 609.1 173.0 611.9C175.4 614.7 180.8 618.8 182.4 620.2" fill="none" stroke="#8a8a8a" stroke-width="2.6" stroke-linecap="round" stroke-linejoin="round"/>
<path d="M118.0 609.8C118.4 612.2 118.1 621.2 120.2 624.3C122.3 627.4 126.4 628.1 130.5 628.5C134.6 628.9 142.2 628.8 145.0 626.4C147.8 624.0 145.6 617.5 147.0 614.0C148.4 610.5 149.9 607.3 153.4 605.6C156.9 603.9 164.7 602.6 168.0 603.6C171.3 604.6 170.6 609.1 173.0 611.9C175.4 614.7 180.8 618.8 182.4 620.2" fill="none" stroke="#f2f2f2" stroke-width="1.5" stroke-linecap="round" stroke-linejoin="round"/>
<path d="M147.0 626.4C147.7 627.8 147.8 632.6 151.3 634.7C154.8 636.8 165.2 638.1 168.0 638.8" fill="none" stroke="#8a8a8a" stroke-width="2.6" stroke-linecap="round" stroke-linejoin="round"/>
<path d="M147.0 626.4C147.7 627.8 147.8 632.6 151.3 634.7C154.8 636.8 165.2 638.1 168.0 638.8" fill="none" stroke="#f2f2f2" stroke-width="1.5" stroke-linecap="round" stroke-linejoin="round"/>
<path d="M106.7 638.8C107.9 638.6 111.4 637.3 114.0 637.8C116.6 638.3 119.5 640.1 122.2 642.0C125.0 643.9 127.0 647.7 130.5 649.2C134.0 650.8 140.2 652.3 143.0 651.3C145.8 650.3 146.3 647.2 147.0 643.0C147.7 638.8 147.0 628.8 147.0 626.0" fill="none" stroke="#8a8a8a" stroke-width="2.6" stroke-linecap="round" stroke-linejoin="round"/>
<path d="M106.7 638.8C107.9 638.6 111.4 637.3 114.0 637.8C116.6 638.3 119.5 640.1 122.2 642.0C125.0 643.9 127.0 647.7 130.5 649.2C134.0 650.8 140.2 652.3 143.0 651.3C145.8 650.3 146.3 647.2 147.0 643.0C147.7 638.8 147.0 628.8 147.0 626.0" fill="none" stroke="#f2f2f2" stroke-width="1.5" stroke-linecap="round" stroke-linejoin="round"/>
<path d="M164.0 616.0C164.7 618.0 166.0 625.7 168.0 628.0C170.0 630.3 174.0 631.0 176.0 630.0C178.0 629.0 180.7 624.7 180.0 622.0C179.3 619.3 174.5 614.7 172.0 614.0C169.5 613.3 166.2 617.3 165.0 618.0" fill="none" stroke="#8a8a8a" stroke-width="2.6" stroke-linecap="round" stroke-linejoin="round"/>
<path d="M164.0 616.0C164.7 618.0 166.0 625.7 168.0 628.0C170.0 630.3 174.0 631.0 176.0 630.0C178.0 629.0 180.7 624.7 180.0 622.0C179.3 619.3 174.5 614.7 172.0 614.0C169.5 613.3 166.2 617.3 165.0 618.0" fill="none" stroke="#f2f2f2" stroke-width="1.5" stroke-linecap="round" stroke-linejoin="round"/>
<path d="M159.6 562.0C159.9 563.7 159.3 569.6 161.7 572.4C164.1 575.2 170.9 577.0 174.0 578.7C177.1 580.4 179.6 581.4 180.0 582.8C180.4 584.2 178.2 586.5 176.2 587.0C174.2 587.5 169.4 586.2 168.0 586.0" fill="none" stroke="#8a8a8a" stroke-width="2.6" stroke-linecap="round" stroke-linejoin="round"/>
<path d="M159.6 562.0C159.9 563.7 159.3 569.6 161.7 572.4C164.1 575.2 170.9 577.0 174.0 578.7C177.1 580.4 179.6 581.4 180.0 582.8C180.4 584.2 178.2 586.5 176.2 587.0C174.2 587.5 169.4 586.2 168.0 586.0" fill="none" stroke="#f2f2f2" stroke-width="1.5" stroke-linecap="round" stroke-linejoin="round"/>
<path d="M147.0 593.2C148.4 593.9 152.6 596.9 155.4 597.3C158.2 597.6 161.3 596.5 163.7 595.3C166.1 594.1 168.9 590.9 170.0 590.0" fill="none" stroke="#8a8a8a" stroke-width="2.6" stroke-linecap="round" stroke-linejoin="round"/>
<path d="M147.0 593.2C148.4 593.9 152.6 596.9 155.4 597.3C158.2 597.6 161.3 596.5 163.7 595.3C166.1 594.1 168.9 590.9 170.0 590.0" fill="none" stroke="#f2f2f2" stroke-width="1.5" stroke-linecap="round" stroke-linejoin="round"/>
<path d="M92.0 560.0C93.0 561.3 96.7 565.3 98.0 568.0C99.3 570.7 99.7 574.7 100.0 576.0" fill="none" stroke="#8a8a8a" stroke-width="2.5" stroke-linecap="round" stroke-linejoin="round"/>
<path d="M92.0 560.0C93.0 561.3 96.7 565.3 98.0 568.0C99.3 570.7 99.7 574.7 100.0 576.0" fill="none" stroke="#f2f2f2" stroke-width="1.4" stroke-linecap="round" stroke-linejoin="round"/>
<path d="M160.0 540.0C161.7 542.7 167.0 551.7 170.0 556.0C173.0 560.3 176.0 563.0 178.0 566.0C180.0 569.0 181.3 572.7 182.0 574.0" fill="none" stroke="#8a8a8a" stroke-width="2.5" stroke-linecap="round" stroke-linejoin="round"/>
<path d="M160.0 540.0C161.7 542.7 167.0 551.7 170.0 556.0C173.0 560.3 176.0 563.0 178.0 566.0C180.0 569.0 181.3 572.7 182.0 574.0" fill="none" stroke="#f2f2f2" stroke-width="1.4" stroke-linecap="round" stroke-linejoin="round"/>
<path d="M453.0 372.0C454.3 371.1 457.8 367.3 461.0 366.5C464.2 365.7 469.0 365.4 472.0 367.0C475.0 368.6 478.2 372.7 479.0 376.0C479.8 379.3 478.8 384.5 477.0 387.0C475.2 389.5 471.0 390.8 468.0 391.0C465.0 391.2 461.5 389.8 459.0 388.0C456.5 386.2 453.8 382.5 453.0 380.0C452.2 377.5 453.8 374.2 454.0 373.0" fill="none" stroke="#8a8a8a" stroke-width="4.3" stroke-linecap="round" stroke-linejoin="round"/>
<path d="M453.0 372.0C454.3 371.1 457.8 367.3 461.0 366.5C464.2 365.7 469.0 365.4 472.0 367.0C475.0 368.6 478.2 372.7 479.0 376.0C479.8 379.3 478.8 384.5 477.0 387.0C475.2 389.5 471.0 390.8 468.0 391.0C465.0 391.2 461.5 389.8 459.0 388.0C456.5 386.2 453.8 382.5 453.0 380.0C452.2 377.5 453.8 374.2 454.0 373.0" fill="none" stroke="#f2f2f2" stroke-width="3.2" stroke-linecap="round" stroke-linejoin="round"/>
<path d="M465.5 388.0C465.9 391.9 467.6 407.6 468.0 411.5" fill="none" stroke="#8a8a8a" stroke-width="2.7" stroke-linecap="round" stroke-linejoin="round"/>
<path d="M465.5 388.0C465.9 391.9 467.6 407.6 468.0 411.5" fill="none" stroke="#f2f2f2" stroke-width="1.6" stroke-linecap="round" stroke-linejoin="round"/>
<path d="M443.0 388.0C442.8 390.3 442.0 399.7 441.8 402.0" fill="none" stroke="#8a8a8a" stroke-width="2.5" stroke-linecap="round" stroke-linejoin="round"/>
<path d="M443.0 388.0C442.8 390.3 442.0 399.7 441.8 402.0" fill="none" stroke="#f2f2f2" stroke-width="1.4" stroke-linecap="round" stroke-linejoin="round"/>
<path d="M460.0 388.0C458.7 389.7 454.3 394.7 452.0 398.0C449.7 401.3 447.0 406.3 446.0 408.0" fill="none" stroke="#8a8a8a" stroke-width="3.1" stroke-linecap="round" stroke-linejoin="round"/>
<path d="M460.0 388.0C458.7 389.7 454.3 394.7 452.0 398.0C449.7 401.3 447.0 406.3 446.0 408.0" fill="none" stroke="#f2f2f2" stroke-width="2.0" stroke-linecap="round" stroke-linejoin="round"/>
<defs><linearGradient id="bl4" gradientUnits="userSpaceOnUse" x1="409.4" y1="412.1" x2="414.6" y2="419.9"><stop offset="0" stop-color="#fbfbfb"/><stop offset="1" stop-color="#b2b2b2"/></linearGradient></defs>
<path d="M389.5 446.3L390.2 445.4L391.0 444.1L392.1 442.7L393.2 441.0L394.4 439.3L395.8 437.5L397.1 435.7L398.5 434.1L399.8 432.6L401.1 431.4L402.4 430.2L403.8 429.0L405.1 427.7L406.3 426.5L407.7 425.2L409.0 424.1L410.4 422.9L411.8 421.8L413.2 420.8L414.6 419.9L416.0 419.1L417.3 418.3L418.7 417.6L420.1 416.9L421.5 416.3L423.0 415.7L424.5 415.2L426.0 414.7L427.6 414.2L429.3 413.8L431.0 413.4L433.0 413.0L435.1 412.4L437.4 411.7L439.6 411.0L441.9 410.4L443.9 409.8L445.8 409.3L447.4 408.8L448.6 408.5L448.0 403.5L446.7 403.5L445.1 403.4L443.2 403.3L441.0 403.2L438.7 403.1L436.2 403.0L433.7 403.0L431.2 403.2L428.9 403.7L426.7 404.2L424.8 404.8L423.0 405.4L421.2 406.0L419.4 406.7L417.7 407.5L416.0 408.2L414.3 409.1L412.7 410.0L411.0 411.0L409.4 412.1L407.8 413.2L406.2 414.5L404.6 415.7L403.0 417.1L401.5 418.5L400.0 420.0L398.5 421.5L397.1 423.0L396.0 424.8L394.9 426.6L393.9 428.6L392.9 430.7L392.1 432.9L391.3 435.2L390.6 437.4L390.0 439.5L389.4 441.4L388.9 443.1L388.5 444.6L388.1 445.7Z" fill="url(#bl4)" stroke="#7f7f7f" stroke-width="0.7" stroke-linejoin="round"/>
<defs><linearGradient id="bl5" gradientUnits="userSpaceOnUse" x1="436.5" y1="455.3" x2="446.9" y2="452.4"><stop offset="0" stop-color="#a4a4a4"/><stop offset="1" stop-color="#f7f7f7"/></linearGradient></defs>
<path d="M436.8 416.6L436.6 418.1L436.4 420.0L436.1 422.4L435.7 425.1L435.3 428.0L435.0 431.0L434.7 434.1L434.4 437.1L434.3 440.1L434.4 442.9L434.6 445.5L435.0 448.1L435.4 450.6L435.9 453.0L436.5 455.3L437.1 457.6L437.7 459.7L438.3 461.7L438.9 463.6L439.4 465.3L440.0 467.1L440.5 468.9L441.1 470.6L441.8 472.2L442.3 473.7L442.9 475.1L443.4 476.3L443.9 477.3L444.2 478.2L444.5 478.8L455.5 474.2L455.2 473.4L454.7 472.4L454.2 471.4L453.7 470.3L453.1 469.0L452.5 467.7L451.9 466.4L451.3 464.9L450.7 463.4L450.2 461.9L449.6 460.1L448.9 458.3L448.2 456.3L447.6 454.4L446.9 452.4L446.3 450.3L445.7 448.3L445.3 446.2L444.9 444.2L444.6 442.1L444.5 439.9L444.4 437.4L444.5 434.7L444.6 431.8L444.8 428.9L445.1 426.1L445.3 423.4L445.5 421.1L445.7 419.0L445.8 417.4Z" fill="url(#bl5)" stroke="#7f7f7f" stroke-width="0.7" stroke-linejoin="round"/>
<defs><linearGradient id="bl6" gradientUnits="userSpaceOnUse" x1="478.7" y1="475.1" x2="477.3" y2="469.9"><stop offset="0" stop-color="#555"/><stop offset="1" stop-color="#3a3a3a"/></linearGradient></defs>
<path d="M467.4 477.2L468.0 477.1L468.7 477.0L469.6 476.9L470.7 476.8L471.9 476.6L473.2 476.4L474.6 476.2L475.9 475.9L477.3 475.5L478.7 475.1L480.2 474.6L481.7 474.0L483.3 473.3L484.9 472.4L486.5 471.6L488.0 470.7L489.4 469.9L490.6 469.2L491.7 468.6L492.5 468.2L491.5 465.8L490.6 466.1L489.5 466.4L488.1 466.8L486.5 467.3L484.9 467.7L483.2 468.2L481.5 468.6L480.0 469.1L478.5 469.6L477.3 469.9L476.1 470.1L474.9 470.3L473.7 470.4L472.5 470.5L471.3 470.6L470.2 470.6L469.1 470.7L468.2 470.7L467.3 470.7L466.6 470.8Z" fill="url(#bl6)" stroke="#2a2a2a" stroke-width="0.7" stroke-linejoin="round"/>
<defs><linearGradient id="bl7" gradientUnits="userSpaceOnUse" x1="509.6" y1="455.5" x2="505.4" y2="450.7"><stop offset="0" stop-color="#555"/><stop offset="1" stop-color="#3a3a3a"/></linearGradient></defs>
<path d="M494.8 465.0L495.4 464.7L496.1 464.3L497.0 463.8L498.1 463.2L499.2 462.6L500.3 462.0L501.5 461.3L502.7 460.7L503.9 460.0L504.9 459.3L505.9 458.6L506.8 457.8L507.7 457.1L508.7 456.3L509.6 455.5L510.6 454.7L511.5 453.9L512.4 453.1L513.4 452.3L514.3 451.4L515.3 450.6L516.4 449.6L517.5 448.6L518.5 447.5L519.6 446.5L520.6 445.5L521.6 444.6L522.4 443.8L523.1 443.2L523.7 442.6L518.3 437.4L517.8 437.9L517.1 438.6L516.3 439.5L515.5 440.5L514.5 441.5L513.5 442.5L512.5 443.6L511.5 444.7L510.6 445.6L509.7 446.6L508.8 447.4L508.0 448.3L507.1 449.1L506.2 449.9L505.4 450.7L504.5 451.5L503.7 452.3L502.8 453.1L501.9 453.9L501.1 454.7L500.2 455.5L499.4 456.5L498.5 457.4L497.6 458.4L496.7 459.4L495.8 460.3L495.0 461.1L494.3 461.9L493.7 462.5L493.2 463.0Z" fill="url(#bl7)" stroke="#2a2a2a" stroke-width="0.7" stroke-linejoin="round"/>
<path d="M509.0 434.0C509.5 435.8 511.2 441.3 512.0 445.0C512.8 448.7 514.7 452.5 514.0 456.0C513.3 459.5 510.3 463.7 508.0 466.0C505.7 468.3 501.3 469.3 500.0 470.0" fill="none" stroke="#8a8a8a" stroke-width="3.1" stroke-linecap="round" stroke-linejoin="round"/>
<path d="M509.0 434.0C509.5 435.8 511.2 441.3 512.0 445.0C512.8 448.7 514.7 452.5 514.0 456.0C513.3 459.5 510.3 463.7 508.0 466.0C505.7 468.3 501.3 469.3 500.0 470.0" fill="none" stroke="#f2f2f2" stroke-width="2.0" stroke-linecap="round" stroke-linejoin="round"/>
<path d="M493.0 468.0C493.3 469.7 495.0 474.7 495.0 478.0C495.0 481.3 494.8 485.7 493.0 488.0C491.2 490.3 487.2 490.0 484.0 492.0C480.8 494.0 476.0 496.5 474.0 500.0C472.0 503.5 472.3 510.8 472.0 513.0" fill="none" stroke="#8a8a8a" stroke-width="3.1" stroke-linecap="round" stroke-linejoin="round"/>
<path d="M493.0 468.0C493.3 469.7 495.0 474.7 495.0 478.0C495.0 481.3 494.8 485.7 493.0 488.0C491.2 490.3 487.2 490.0 484.0 492.0C480.8 494.0 476.0 496.5 474.0 500.0C472.0 503.5 472.3 510.8 472.0 513.0" fill="none" stroke="#f2f2f2" stroke-width="2.0" stroke-linecap="round" stroke-linejoin="round"/>
<path d="M548.0 505.9L542.3 512.5L538.9 509.1L544.6 502.5Z" fill="#727272" stroke="#727272" stroke-width="0.4"/><path d="M548.0 505.9L542.3 512.5M544.6 502.5L538.9 509.1" stroke="#858585" stroke-width="0.6" fill="none"/>
<path d="M542.3 512.5L539.4 520.6L536.0 517.2L538.9 509.1Z" fill="#767676" stroke="#767676" stroke-width="0.4"/><path d="M542.3 512.5L539.4 520.6M538.9 509.1L536.0 517.2" stroke="#858585" stroke-width="0.6" fill="none"/>
<path d="M555.2 502.0L548.0 505.9L544.6 502.5L551.8 498.6Z" fill="#707070" stroke="#707070" stroke-width="0.4"/><path d="M555.2 502.0L548.0 505.9M551.8 498.6L544.6 502.5" stroke="#858585" stroke-width="0.6" fill="none"/>
<path d="M539.4 520.6L539.9 528.7L536.5 525.3L536.0 517.2Z" fill="#787878" stroke="#787878" stroke-width="0.4"/><path d="M539.4 520.6L539.9 528.7M536.0 517.2L536.5 525.3" stroke="#858585" stroke-width="0.6" fill="none"/>
<path d="M577.5 516.6L574.5 510.9L571.1 507.5L574.1 513.2Z" fill="#d7d7d7" stroke="#d7d7d7" stroke-width="0.4"/><path d="M577.5 516.6L574.5 510.9M574.1 513.2L571.1 507.5" stroke="#858585" stroke-width="0.6" fill="none"/>
<path d="M562.4 501.6L555.2 502.0L551.8 498.6L559.1 498.2Z" fill="#707070" stroke="#707070" stroke-width="0.4"/><path d="M562.4 501.6L555.2 502.0M559.1 498.2L551.8 498.6" stroke="#858585" stroke-width="0.6" fill="none"/>
<path d="M539.9 528.7L543.7 535.3L540.4 531.9L536.5 525.3Z" fill="#7a7a7a" stroke="#7a7a7a" stroke-width="0.4"/><path d="M539.9 528.7L543.7 535.3M536.5 525.3L540.4 531.9" stroke="#858585" stroke-width="0.6" fill="none"/>
<path d="M543.7 535.3L550.3 539.2L547.0 535.8L540.4 531.9Z" fill="#d0d0d0" stroke="#d0d0d0" stroke-width="0.4"/><path d="M543.7 535.3L550.3 539.2M540.4 531.9L547.0 535.8" stroke="#858585" stroke-width="0.6" fill="none"/>
<path d="M577.0 523.8L577.5 516.6L574.1 513.2L573.6 520.4Z" fill="#d6d6d6" stroke="#d6d6d6" stroke-width="0.4"/><path d="M577.0 523.8L577.5 516.6M573.6 520.4L574.1 513.2" stroke="#858585" stroke-width="0.6" fill="none"/>
<path d="M568.1 504.6L562.4 501.6L559.1 498.2L564.8 501.2Z" fill="#707070" stroke="#707070" stroke-width="0.4"/><path d="M568.1 504.6L562.4 501.6M564.8 501.2L559.1 498.2" stroke="#858585" stroke-width="0.6" fill="none"/>
<path d="M541.7 499.5L536.0 506.1L532.6 502.7L538.3 496.2Z" fill="#727272" stroke="#727272" stroke-width="0.4"/><path d="M541.7 499.5L536.0 506.1M538.3 496.2L532.6 502.7" stroke="#858585" stroke-width="0.6" fill="none"/>
<path d="M536.0 506.1L533.1 514.2L529.7 510.9L532.6 502.7Z" fill="#767676" stroke="#767676" stroke-width="0.4"/><path d="M536.0 506.1L533.1 514.2M532.6 502.7L529.7 510.9" stroke="#858585" stroke-width="0.6" fill="none"/>
<path d="M548.9 495.7L541.7 499.5L538.3 496.2L545.5 492.3Z" fill="#707070" stroke="#707070" stroke-width="0.4"/><path d="M548.9 495.7L541.7 499.5M545.5 492.3L538.3 496.2" stroke="#858585" stroke-width="0.6" fill="none"/>
<path d="M550.3 539.2L558.5 539.7L555.1 536.3L547.0 535.8Z" fill="#d0d0d0" stroke="#d0d0d0" stroke-width="0.4"/><path d="M550.3 539.2L558.5 539.7M547.0 535.8L555.1 536.3" stroke="#858585" stroke-width="0.6" fill="none"/>
<path d="M533.1 514.2L533.5 522.4L530.1 519.0L529.7 510.9Z" fill="#787878" stroke="#787878" stroke-width="0.4"/><path d="M533.1 514.2L533.5 522.4M529.7 510.9L530.1 519.0" stroke="#858585" stroke-width="0.6" fill="none"/>
<path d="M573.2 531.0L577.0 523.8L573.6 520.4L569.8 527.7Z" fill="#d4d4d4" stroke="#d4d4d4" stroke-width="0.4"/><path d="M573.2 531.0L577.0 523.8M569.8 527.7L573.6 520.4" stroke="#858585" stroke-width="0.6" fill="none"/>
<path d="M558.5 539.7L566.6 536.7L563.2 533.3L555.1 536.3Z" fill="#d0d0d0" stroke="#d0d0d0" stroke-width="0.4"/><path d="M558.5 539.7L566.6 536.7M555.1 536.3L563.2 533.3" stroke="#858585" stroke-width="0.6" fill="none"/>
<path d="M566.6 536.7L573.2 531.0L569.8 527.7L563.2 533.3Z" fill="#d2d2d2" stroke="#d2d2d2" stroke-width="0.4"/><path d="M566.6 536.7L573.2 531.0M563.2 533.3L569.8 527.7" stroke="#858585" stroke-width="0.6" fill="none"/>
<path d="M571.1 510.3L568.1 504.6L564.8 501.2L567.7 506.9Z" fill="#d7d7d7" stroke="#d7d7d7" stroke-width="0.4"/><path d="M571.1 510.3L568.1 504.6M567.7 506.9L564.8 501.2" stroke="#858585" stroke-width="0.6" fill="none"/>
<path d="M556.1 495.3L548.9 495.7L545.5 492.3L552.7 491.9Z" fill="#707070" stroke="#707070" stroke-width="0.4"/><path d="M556.1 495.3L548.9 495.7M552.7 491.9L545.5 492.3" stroke="#858585" stroke-width="0.6" fill="none"/>
<path d="M533.5 522.4L537.4 529.0L534.0 525.6L530.1 519.0Z" fill="#7a7a7a" stroke="#7a7a7a" stroke-width="0.4"/><path d="M533.5 522.4L537.4 529.0M530.1 519.0L534.0 525.6" stroke="#858585" stroke-width="0.6" fill="none"/>
<path d="M537.4 529.0L544.0 532.9L540.6 529.5L534.0 525.6Z" fill="#d0d0d0" stroke="#d0d0d0" stroke-width="0.4"/><path d="M537.4 529.0L544.0 532.9M534.0 525.6L540.6 529.5" stroke="#858585" stroke-width="0.6" fill="none"/>
<path d="M570.7 517.5L571.1 510.3L567.7 506.9L567.3 514.1Z" fill="#d6d6d6" stroke="#d6d6d6" stroke-width="0.4"/><path d="M570.7 517.5L571.1 510.3M567.3 514.1L567.7 506.9" stroke="#858585" stroke-width="0.6" fill="none"/>
<path d="M561.8 498.2L556.1 495.3L552.7 491.9L558.4 494.9Z" fill="#707070" stroke="#707070" stroke-width="0.4"/><path d="M561.8 498.2L556.1 495.3M558.4 494.9L552.7 491.9" stroke="#858585" stroke-width="0.6" fill="none"/>
<path d="M535.3 493.2L529.7 499.8L526.3 496.4L532.0 489.8Z" fill="#727272" stroke="#727272" stroke-width="0.4"/><path d="M535.3 493.2L529.7 499.8M532.0 489.8L526.3 496.4" stroke="#858585" stroke-width="0.6" fill="none"/>
<path d="M529.7 499.8L526.7 507.9L523.3 504.5L526.3 496.4Z" fill="#767676" stroke="#767676" stroke-width="0.4"/><path d="M529.7 499.8L526.7 507.9M526.3 496.4L523.3 504.5" stroke="#858585" stroke-width="0.6" fill="none"/>
<path d="M542.6 489.4L535.3 493.2L532.0 489.8L539.2 486.0Z" fill="#707070" stroke="#707070" stroke-width="0.4"/><path d="M542.6 489.4L535.3 493.2M539.2 486.0L532.0 489.8" stroke="#858585" stroke-width="0.6" fill="none"/>
<path d="M544.0 532.9L552.1 533.3L548.8 529.9L540.6 529.5Z" fill="#d0d0d0" stroke="#d0d0d0" stroke-width="0.4"/><path d="M544.0 532.9L552.1 533.3M540.6 529.5L548.8 529.9" stroke="#858585" stroke-width="0.6" fill="none"/>
<path d="M526.7 507.9L527.2 516.0L523.8 512.7L523.3 504.5Z" fill="#787878" stroke="#787878" stroke-width="0.4"/><path d="M526.7 507.9L527.2 516.0M523.3 504.5L523.8 512.7" stroke="#858585" stroke-width="0.6" fill="none"/>
<path d="M566.8 524.7L570.7 517.5L567.3 514.1L563.5 521.3Z" fill="#d4d4d4" stroke="#d4d4d4" stroke-width="0.4"/><path d="M566.8 524.7L570.7 517.5M563.5 521.3L567.3 514.1" stroke="#858585" stroke-width="0.6" fill="none"/>
<path d="M552.1 533.3L560.3 530.4L556.9 527.0L548.8 529.9Z" fill="#d0d0d0" stroke="#d0d0d0" stroke-width="0.4"/><path d="M552.1 533.3L560.3 530.4M548.8 529.9L556.9 527.0" stroke="#858585" stroke-width="0.6" fill="none"/>
<path d="M560.3 530.4L566.8 524.7L563.5 521.3L556.9 527.0Z" fill="#d2d2d2" stroke="#d2d2d2" stroke-width="0.4"/><path d="M560.3 530.4L566.8 524.7M556.9 527.0L563.5 521.3" stroke="#858585" stroke-width="0.6" fill="none"/>
<path d="M564.8 503.9L561.8 498.2L558.4 494.9L561.4 500.6Z" fill="#d7d7d7" stroke="#d7d7d7" stroke-width="0.4"/><path d="M564.8 503.9L561.8 498.2M561.4 500.6L558.4 494.9" stroke="#858585" stroke-width="0.6" fill="none"/>
<path d="M549.8 488.9L542.6 489.4L539.2 486.0L546.4 485.5Z" fill="#707070" stroke="#707070" stroke-width="0.4"/><path d="M549.8 488.9L542.6 489.4M546.4 485.5L539.2 486.0" stroke="#858585" stroke-width="0.6" fill="none"/>
<path d="M527.2 516.0L531.1 522.6L527.7 519.3L523.8 512.7Z" fill="#7a7a7a" stroke="#7a7a7a" stroke-width="0.4"/><path d="M527.2 516.0L531.1 522.6M523.8 512.7L527.7 519.3" stroke="#858585" stroke-width="0.6" fill="none"/>
<path d="M531.1 522.6L537.7 526.5L534.3 523.1L527.7 519.3Z" fill="#d0d0d0" stroke="#d0d0d0" stroke-width="0.4"/><path d="M531.1 522.6L537.7 526.5M527.7 519.3L534.3 523.1" stroke="#858585" stroke-width="0.6" fill="none"/>
<path d="M564.4 511.2L564.8 503.9L561.4 500.6L561.0 507.8Z" fill="#d6d6d6" stroke="#d6d6d6" stroke-width="0.4"/><path d="M564.4 511.2L564.8 503.9M561.0 507.8L561.4 500.6" stroke="#858585" stroke-width="0.6" fill="none"/>
<path d="M555.5 491.9L549.8 488.9L546.4 485.5L552.1 488.5Z" fill="#707070" stroke="#707070" stroke-width="0.4"/><path d="M555.5 491.9L549.8 488.9M552.1 488.5L546.4 485.5" stroke="#858585" stroke-width="0.6" fill="none"/>
<path d="M537.7 526.5L545.8 527.0L542.4 523.6L534.3 523.1Z" fill="#d0d0d0" stroke="#d0d0d0" stroke-width="0.4"/><path d="M537.7 526.5L545.8 527.0M534.3 523.1L542.4 523.6" stroke="#858585" stroke-width="0.6" fill="none"/>
<path d="M560.5 518.4L564.4 511.2L561.0 507.8L557.1 515.0Z" fill="#d4d4d4" stroke="#d4d4d4" stroke-width="0.4"/><path d="M560.5 518.4L564.4 511.2M557.1 515.0L561.0 507.8" stroke="#858585" stroke-width="0.6" fill="none"/>
<path d="M545.8 527.0L553.9 524.1L550.5 520.7L542.4 523.6Z" fill="#d0d0d0" stroke="#d0d0d0" stroke-width="0.4"/><path d="M545.8 527.0L553.9 524.1M542.4 523.6L550.5 520.7" stroke="#858585" stroke-width="0.6" fill="none"/>
<path d="M553.9 524.1L560.5 518.4L557.1 515.0L550.5 520.7Z" fill="#d2d2d2" stroke="#d2d2d2" stroke-width="0.4"/><path d="M553.9 524.1L560.5 518.4M550.5 520.7L557.1 515.0" stroke="#858585" stroke-width="0.6" fill="none"/>
<line x1="469" y1="500" x2="528" y2="499" stroke="#a0a0a0" stroke-width="3.0" stroke-dasharray="7 6"/>
<path d="M478.0 514.0C480.3 513.7 487.5 512.7 492.0 512.0C496.5 511.3 501.2 511.0 505.0 510.0C508.8 509.0 511.3 506.8 515.0 506.0C518.7 505.2 525.0 505.2 527.0 505.0" fill="none" stroke="#8a8a8a" stroke-width="3.3" stroke-linecap="round" stroke-linejoin="round"/>
<path d="M478.0 514.0C480.3 513.7 487.5 512.7 492.0 512.0C496.5 511.3 501.2 511.0 505.0 510.0C508.8 509.0 511.3 506.8 515.0 506.0C518.7 505.2 525.0 505.2 527.0 505.0" fill="none" stroke="#f2f2f2" stroke-width="2.2" stroke-linecap="round" stroke-linejoin="round"/>
<path d="M350.8 482.0C350.5 483.2 347.8 486.4 349.0 489.0C350.2 491.6 355.8 494.9 357.8 497.8C359.9 500.7 361.0 503.9 361.3 506.5C361.6 509.1 359.2 511.2 359.5 513.6C359.8 516.0 360.6 518.9 363.0 520.6C365.4 522.3 369.8 523.3 373.6 524.0C377.4 524.7 383.8 524.8 385.8 525.0" fill="none" stroke="#8a8a8a" stroke-width="3.3" stroke-linecap="round" stroke-linejoin="round"/>
<path d="M350.8 482.0C350.5 483.2 347.8 486.4 349.0 489.0C350.2 491.6 355.8 494.9 357.8 497.8C359.9 500.7 361.0 503.9 361.3 506.5C361.6 509.1 359.2 511.2 359.5 513.6C359.8 516.0 360.6 518.9 363.0 520.6C365.4 522.3 369.8 523.3 373.6 524.0C377.4 524.7 383.8 524.8 385.8 525.0" fill="none" stroke="#f2f2f2" stroke-width="2.2" stroke-linecap="round" stroke-linejoin="round"/>
<path d="M324.9 565.6L328.9 570.8L319.8 573.6L315.8 568.3Z" fill="#b5b5b5" stroke="#b5b5b5" stroke-width="0.4"/><path d="M324.9 565.6L328.9 570.8M315.8 568.3L319.8 573.6" stroke="#858585" stroke-width="0.6" fill="none"/>
<path d="M328.9 570.8L331.9 576.1L322.9 578.8L319.8 573.6Z" fill="#c6c6c6" stroke="#c6c6c6" stroke-width="0.4"/><path d="M328.9 570.8L331.9 576.1M319.8 573.6L322.9 578.8" stroke="#858585" stroke-width="0.6" fill="none"/>
<path d="M320.5 561.5L324.9 565.6L315.8 568.3L311.4 564.2Z" fill="#9a9a9a" stroke="#9a9a9a" stroke-width="0.4"/><path d="M320.5 561.5L324.9 565.6M311.4 564.2L315.8 568.3" stroke="#858585" stroke-width="0.6" fill="none"/>
<path d="M331.9 576.1L333.9 580.2L324.8 582.9L322.9 578.8Z" fill="#c8c8c8" stroke="#c8c8c8" stroke-width="0.4"/><path d="M331.9 576.1L333.9 580.2M322.9 578.8L324.8 582.9" stroke="#858585" stroke-width="0.6" fill="none"/>
<path d="M316.0 559.5L320.5 561.5L311.4 564.2L306.9 562.2Z" fill="#7f7f7f" stroke="#7f7f7f" stroke-width="0.4"/><path d="M316.0 559.5L320.5 561.5M306.9 562.2L311.4 564.2" stroke="#858585" stroke-width="0.6" fill="none"/>
<path d="M351.8 557.4L355.8 562.7L346.7 565.4L342.7 560.2Z" fill="#b5b5b5" stroke="#b5b5b5" stroke-width="0.4"/><path d="M351.8 557.4L355.8 562.7M342.7 560.2L346.7 565.4" stroke="#858585" stroke-width="0.6" fill="none"/>
<path d="M333.9 580.2L334.6 582.3L325.6 585.0L324.8 582.9Z" fill="#bcbcbc" stroke="#bcbcbc" stroke-width="0.4"/><path d="M333.9 580.2L334.6 582.3M324.8 582.9L325.6 585.0" stroke="#858585" stroke-width="0.6" fill="none"/>
<path d="M355.8 562.7L358.8 568.0L349.7 570.7L346.7 565.4Z" fill="#c6c6c6" stroke="#c6c6c6" stroke-width="0.4"/><path d="M355.8 562.7L358.8 568.0M346.7 565.4L349.7 570.7" stroke="#858585" stroke-width="0.6" fill="none"/>
<path d="M347.3 553.3L351.8 557.4L342.7 560.2L338.3 556.1Z" fill="#9a9a9a" stroke="#9a9a9a" stroke-width="0.4"/><path d="M347.3 553.3L351.8 557.4M338.3 556.1L342.7 560.2" stroke="#858585" stroke-width="0.6" fill="none"/>
<path d="M358.8 568.0L360.7 572.1L351.7 574.8L349.7 570.7Z" fill="#c8c8c8" stroke="#c8c8c8" stroke-width="0.4"/><path d="M358.8 568.0L360.7 572.1M349.7 570.7L351.7 574.8" stroke="#858585" stroke-width="0.6" fill="none"/>
<path d="M342.9 551.4L347.3 553.3L338.3 556.1L333.8 554.1Z" fill="#7f7f7f" stroke="#7f7f7f" stroke-width="0.4"/><path d="M342.9 551.4L347.3 553.3M333.8 554.1L338.3 556.1" stroke="#858585" stroke-width="0.6" fill="none"/>
<path d="M334.6 582.3L334.5 581.7L325.4 584.5L325.6 585.0Z" fill="#d0d0d0" stroke="#d0d0d0" stroke-width="0.4"/><path d="M334.6 582.3L334.5 581.7M325.6 585.0L325.4 584.5" stroke="#858585" stroke-width="0.6" fill="none"/>
<path d="M378.7 549.3L382.6 554.6L373.6 557.3L369.6 552.1Z" fill="#b5b5b5" stroke="#b5b5b5" stroke-width="0.4"/><path d="M378.7 549.3L382.6 554.6M369.6 552.1L373.6 557.3" stroke="#858585" stroke-width="0.6" fill="none"/>
<path d="M338.9 552.0L342.9 551.4L333.8 554.1L329.8 554.7Z" fill="#7f7f7f" stroke="#7f7f7f" stroke-width="0.4"/><path d="M338.9 552.0L342.9 551.4M329.8 554.7L333.8 554.1" stroke="#858585" stroke-width="0.6" fill="none"/>
<path d="M360.7 572.1L361.5 574.1L352.4 576.9L351.7 574.8Z" fill="#bcbcbc" stroke="#bcbcbc" stroke-width="0.4"/><path d="M360.7 572.1L361.5 574.1M351.7 574.8L352.4 576.9" stroke="#858585" stroke-width="0.6" fill="none"/>
<path d="M382.6 554.6L385.7 559.8L376.6 562.6L373.6 557.3Z" fill="#c6c6c6" stroke="#c6c6c6" stroke-width="0.4"/><path d="M382.6 554.6L385.7 559.8M373.6 557.3L376.6 562.6" stroke="#858585" stroke-width="0.6" fill="none"/>
<path d="M374.2 545.2L378.7 549.3L369.6 552.1L365.1 548.0Z" fill="#9a9a9a" stroke="#9a9a9a" stroke-width="0.4"/><path d="M374.2 545.2L378.7 549.3M365.1 548.0L369.6 552.1" stroke="#858585" stroke-width="0.6" fill="none"/>
<path d="M334.5 581.7L333.9 578.6L324.8 581.3L325.4 584.5Z" fill="#d0d0d0" stroke="#d0d0d0" stroke-width="0.4"/><path d="M334.5 581.7L333.9 578.6M325.4 584.5L324.8 581.3" stroke="#858585" stroke-width="0.6" fill="none"/>
<path d="M385.7 559.8L387.6 564.0L378.5 566.7L376.6 562.6Z" fill="#c8c8c8" stroke="#c8c8c8" stroke-width="0.4"/><path d="M385.7 559.8L387.6 564.0M376.6 562.6L378.5 566.7" stroke="#858585" stroke-width="0.6" fill="none"/>
<path d="M369.7 543.2L374.2 545.2L365.1 548.0L360.7 546.0Z" fill="#7f7f7f" stroke="#7f7f7f" stroke-width="0.4"/><path d="M369.7 543.2L374.2 545.2M360.7 546.0L365.1 548.0" stroke="#858585" stroke-width="0.6" fill="none"/>
<path d="M335.9 555.2L338.9 552.0L329.8 554.7L326.8 557.9Z" fill="#f8f8f8" stroke="#f8f8f8" stroke-width="0.4"/><path d="M335.9 555.2L338.9 552.0M326.8 557.9L329.8 554.7" stroke="#858585" stroke-width="0.6" fill="none"/>
<path d="M361.5 574.1L361.4 573.6L352.3 576.3L352.4 576.9Z" fill="#d0d0d0" stroke="#d0d0d0" stroke-width="0.4"/><path d="M361.5 574.1L361.4 573.6M352.4 576.9L352.3 576.3" stroke="#858585" stroke-width="0.6" fill="none"/>
<path d="M333.9 578.6L333.3 573.3L324.2 576.1L324.8 581.3Z" fill="#e2e2e2" stroke="#e2e2e2" stroke-width="0.4"/><path d="M333.9 578.6L333.3 573.3M324.8 581.3L324.2 576.1" stroke="#858585" stroke-width="0.6" fill="none"/>
<path d="M333.9 560.5L335.9 555.2L326.8 557.9L324.9 563.2Z" fill="#ffffff" stroke="#ffffff" stroke-width="0.4"/><path d="M333.9 560.5L335.9 555.2M324.9 563.2L326.8 557.9" stroke="#858585" stroke-width="0.6" fill="none"/>
<path d="M365.8 543.9L369.7 543.2L360.7 546.0L356.7 546.6Z" fill="#7f7f7f" stroke="#7f7f7f" stroke-width="0.4"/><path d="M365.8 543.9L369.7 543.2M356.7 546.6L360.7 546.0" stroke="#858585" stroke-width="0.6" fill="none"/>
<path d="M387.6 564.0L388.4 566.0L379.3 568.7L378.5 566.7Z" fill="#bcbcbc" stroke="#bcbcbc" stroke-width="0.4"/><path d="M387.6 564.0L388.4 566.0M378.5 566.7L379.3 568.7" stroke="#858585" stroke-width="0.6" fill="none"/>
<path d="M401.1 537.1L408.8 545.3L399.7 548.1L392.0 539.8Z" fill="#a4a4a4" stroke="#a4a4a4" stroke-width="0.4"/><path d="M401.1 537.1L408.8 545.3M392.0 539.8L399.7 548.1" stroke="#858585" stroke-width="0.6" fill="none"/>
<path d="M333.3 573.3L333.1 566.9L324.1 569.6L324.2 576.1Z" fill="#f3f3f3" stroke="#f3f3f3" stroke-width="0.4"/><path d="M333.3 573.3L333.1 566.9M324.2 576.1L324.1 569.6" stroke="#858585" stroke-width="0.6" fill="none"/>
<path d="M333.1 566.9L333.9 560.5L324.9 563.2L324.1 569.6Z" fill="#fefefe" stroke="#fefefe" stroke-width="0.4"/><path d="M333.1 566.9L333.9 560.5M324.1 569.6L324.9 563.2" stroke="#858585" stroke-width="0.6" fill="none"/>
<path d="M361.4 573.6L360.8 570.4L351.7 573.2L352.3 576.3Z" fill="#d0d0d0" stroke="#d0d0d0" stroke-width="0.4"/><path d="M361.4 573.6L360.8 570.4M352.3 576.3L351.7 573.2" stroke="#858585" stroke-width="0.6" fill="none"/>
<path d="M396.6 535.1L401.1 537.1L392.0 539.8L387.5 537.9Z" fill="#7f7f7f" stroke="#7f7f7f" stroke-width="0.4"/><path d="M396.6 535.1L401.1 537.1M387.5 537.9L392.0 539.8" stroke="#858585" stroke-width="0.6" fill="none"/>
<path d="M362.7 547.1L365.8 543.9L356.7 546.6L353.7 549.8Z" fill="#f8f8f8" stroke="#f8f8f8" stroke-width="0.4"/><path d="M362.7 547.1L365.8 543.9M353.7 549.8L356.7 546.6" stroke="#858585" stroke-width="0.6" fill="none"/>
<path d="M388.4 566.0L388.3 565.5L379.2 568.2L379.3 568.7Z" fill="#d0d0d0" stroke="#d0d0d0" stroke-width="0.4"/><path d="M388.4 566.0L388.3 565.5M379.3 568.7L379.2 568.2" stroke="#858585" stroke-width="0.6" fill="none"/>
<path d="M360.8 570.4L360.1 565.2L351.1 567.9L351.7 573.2Z" fill="#e2e2e2" stroke="#e2e2e2" stroke-width="0.4"/><path d="M360.8 570.4L360.1 565.2M351.7 573.2L351.1 567.9" stroke="#858585" stroke-width="0.6" fill="none"/>
<path d="M360.8 552.3L362.7 547.1L353.7 549.8L351.7 555.1Z" fill="#ffffff" stroke="#ffffff" stroke-width="0.4"/><path d="M360.8 552.3L362.7 547.1M351.7 555.1L353.7 549.8" stroke="#858585" stroke-width="0.6" fill="none"/>
<path d="M392.7 535.7L396.6 535.1L387.5 537.9L383.6 538.5Z" fill="#7f7f7f" stroke="#7f7f7f" stroke-width="0.4"/><path d="M392.7 535.7L396.6 535.1M383.6 538.5L387.5 537.9" stroke="#858585" stroke-width="0.6" fill="none"/>
<path d="M360.1 565.2L360.0 558.8L350.9 561.5L351.1 567.9Z" fill="#f3f3f3" stroke="#f3f3f3" stroke-width="0.4"/><path d="M360.1 565.2L360.0 558.8M351.1 567.9L350.9 561.5" stroke="#858585" stroke-width="0.6" fill="none"/>
<path d="M360.0 558.8L360.8 552.3L351.7 555.1L350.9 561.5Z" fill="#fefefe" stroke="#fefefe" stroke-width="0.4"/><path d="M360.0 558.8L360.8 552.3M350.9 561.5L351.7 555.1" stroke="#858585" stroke-width="0.6" fill="none"/>
<path d="M388.3 565.5L387.6 562.3L378.6 565.1L379.2 568.2Z" fill="#d0d0d0" stroke="#d0d0d0" stroke-width="0.4"/><path d="M388.3 565.5L387.6 562.3M379.2 568.2L378.6 565.1" stroke="#858585" stroke-width="0.6" fill="none"/>
<path d="M389.6 538.9L392.7 535.7L383.6 538.5L380.5 541.7Z" fill="#f8f8f8" stroke="#f8f8f8" stroke-width="0.4"/><path d="M389.6 538.9L392.7 535.7M380.5 541.7L383.6 538.5" stroke="#858585" stroke-width="0.6" fill="none"/>
<path d="M387.6 562.3L387.0 557.1L377.9 559.8L378.6 565.1Z" fill="#e2e2e2" stroke="#e2e2e2" stroke-width="0.4"/><path d="M387.6 562.3L387.0 557.1M378.6 565.1L377.9 559.8" stroke="#858585" stroke-width="0.6" fill="none"/>
<path d="M387.7 544.2L389.6 538.9L380.5 541.7L378.6 547.0Z" fill="#ffffff" stroke="#ffffff" stroke-width="0.4"/><path d="M387.7 544.2L389.6 538.9M378.6 547.0L380.5 541.7" stroke="#858585" stroke-width="0.6" fill="none"/>
<path d="M387.0 557.1L386.9 550.7L377.8 553.4L377.9 559.8Z" fill="#f3f3f3" stroke="#f3f3f3" stroke-width="0.4"/><path d="M387.0 557.1L386.9 550.7M377.9 559.8L377.8 553.4" stroke="#858585" stroke-width="0.6" fill="none"/>
<path d="M386.9 550.7L387.7 544.2L378.6 547.0L377.8 553.4Z" fill="#fefefe" stroke="#fefefe" stroke-width="0.4"/><path d="M386.9 550.7L387.7 544.2M377.8 553.4L378.6 547.0" stroke="#858585" stroke-width="0.6" fill="none"/>
<path d="M506.6 565.3L508.4 577.7L504.8 575.7L503.0 563.3Z" fill="#6e6e6e" stroke="#6e6e6e" stroke-width="0.4"/><path d="M506.6 565.3L508.4 577.7M503.0 563.3L504.8 575.7" stroke="#858585" stroke-width="0.6" fill="none"/>
<path d="M509.4 558.2L506.6 565.3L503.0 563.3L505.8 556.2Z" fill="#696969" stroke="#696969" stroke-width="0.4"/><path d="M509.4 558.2L506.6 565.3M505.8 556.2L503.0 563.3" stroke="#858585" stroke-width="0.6" fill="none"/>
<path d="M514.3 553.2L509.4 558.2L505.8 556.2L510.7 551.2Z" fill="#696969" stroke="#696969" stroke-width="0.4"/><path d="M514.3 553.2L509.4 558.2M510.7 551.2L505.8 556.2" stroke="#858585" stroke-width="0.6" fill="none"/>
<path d="M520.3 551.1L514.3 553.2L510.7 551.2L516.7 549.1Z" fill="#696969" stroke="#696969" stroke-width="0.4"/><path d="M520.3 551.1L514.3 553.2M516.7 549.1L510.7 551.2" stroke="#858585" stroke-width="0.6" fill="none"/>
<path d="M525.9 552.3L520.3 551.1L516.7 549.1L522.3 550.3Z" fill="#696969" stroke="#696969" stroke-width="0.4"/><path d="M525.9 552.3L520.3 551.1M522.3 550.3L516.7 549.1" stroke="#858585" stroke-width="0.6" fill="none"/>
<path d="M529.9 556.4L525.9 552.3L522.3 550.3L526.3 554.4Z" fill="#dddddd" stroke="#dddddd" stroke-width="0.4"/><path d="M529.9 556.4L525.9 552.3M526.3 554.4L522.3 550.3" stroke="#858585" stroke-width="0.6" fill="none"/>
<path d="M531.3 562.6L529.9 556.4L526.3 554.4L527.7 560.6Z" fill="#d9d9d9" stroke="#d9d9d9" stroke-width="0.4"/><path d="M531.3 562.6L529.9 556.4M527.7 560.6L526.3 554.4" stroke="#858585" stroke-width="0.6" fill="none"/>
<path d="M529.6 569.5L531.3 562.6L527.7 560.6L526.0 567.5Z" fill="#d3d3d3" stroke="#d3d3d3" stroke-width="0.4"/><path d="M529.6 569.5L531.3 562.6M526.0 567.5L527.7 560.6" stroke="#858585" stroke-width="0.6" fill="none"/>
<path d="M493.8 558.2L493.9 566.1L490.3 564.1L490.2 556.2Z" fill="#6c6c6c" stroke="#6c6c6c" stroke-width="0.4"/><path d="M493.8 558.2L493.9 566.1M490.2 556.2L490.3 564.1" stroke="#858585" stroke-width="0.6" fill="none"/>
<path d="M493.9 566.1L497.1 573.3L493.5 571.3L490.3 564.1Z" fill="#737373" stroke="#737373" stroke-width="0.4"/><path d="M493.9 566.1L497.1 573.3M490.3 564.1L493.5 571.3" stroke="#858585" stroke-width="0.6" fill="none"/>
<path d="M497.1 573.3L503.0 578.4L499.4 576.4L493.5 571.3Z" fill="#797979" stroke="#797979" stroke-width="0.4"/><path d="M497.1 573.3L503.0 578.4M493.5 571.3L499.4 576.4" stroke="#858585" stroke-width="0.6" fill="none"/>
<path d="M496.5 551.1L493.8 558.2L490.2 556.2L492.9 549.1Z" fill="#696969" stroke="#696969" stroke-width="0.4"/><path d="M496.5 551.1L493.8 558.2M492.9 549.1L490.2 556.2" stroke="#858585" stroke-width="0.6" fill="none"/>
<path d="M525.0 575.6L529.6 569.5L526.0 567.5L521.4 573.6Z" fill="#d0d0d0" stroke="#d0d0d0" stroke-width="0.4"/><path d="M525.0 575.6L529.6 569.5M521.4 573.6L526.0 567.5" stroke="#858585" stroke-width="0.6" fill="none"/>
<path d="M503.0 578.4L510.4 580.7L506.8 578.7L499.4 576.4Z" fill="#d0d0d0" stroke="#d0d0d0" stroke-width="0.4"/><path d="M503.0 578.4L510.4 580.7M499.4 576.4L506.8 578.7" stroke="#858585" stroke-width="0.6" fill="none"/>
<path d="M510.4 580.7L518.2 579.6L514.6 577.6L506.8 578.7Z" fill="#d0d0d0" stroke="#d0d0d0" stroke-width="0.4"/><path d="M510.4 580.7L518.2 579.6M506.8 578.7L514.6 577.6" stroke="#858585" stroke-width="0.6" fill="none"/>
<path d="M518.2 579.6L525.0 575.6L521.4 573.6L514.6 577.6Z" fill="#d0d0d0" stroke="#d0d0d0" stroke-width="0.4"/><path d="M518.2 579.6L525.0 575.6M514.6 577.6L521.4 573.6" stroke="#858585" stroke-width="0.6" fill="none"/>
<path d="M501.5 546.0L496.5 551.1L492.9 549.1L497.9 544.0Z" fill="#696969" stroke="#696969" stroke-width="0.4"/><path d="M501.5 546.0L496.5 551.1M497.9 544.0L492.9 549.1" stroke="#858585" stroke-width="0.6" fill="none"/>
<path d="M507.4 543.9L501.5 546.0L497.9 544.0L503.8 541.9Z" fill="#696969" stroke="#696969" stroke-width="0.4"/><path d="M507.4 543.9L501.5 546.0M503.8 541.9L497.9 544.0" stroke="#858585" stroke-width="0.6" fill="none"/>
<path d="M513.1 545.1L507.4 543.9L503.8 541.9L509.5 543.1Z" fill="#696969" stroke="#696969" stroke-width="0.4"/><path d="M513.1 545.1L507.4 543.9M509.5 543.1L503.8 541.9" stroke="#858585" stroke-width="0.6" fill="none"/>
<path d="M544.1 566.3L546.7 571.5L539.2 571.5L536.6 566.3Z" fill="#b2b2b2" stroke="#b2b2b2" stroke-width="0.4"/><path d="M544.1 566.3L546.7 571.5M536.6 566.3L539.2 571.5" stroke="#858585" stroke-width="0.6" fill="none"/>
<path d="M540.4 562.3L544.1 566.3L536.6 566.3L532.9 562.3Z" fill="#969696" stroke="#969696" stroke-width="0.4"/><path d="M540.4 562.3L544.1 566.3M532.9 562.3L536.6 566.3" stroke="#858585" stroke-width="0.6" fill="none"/>
<path d="M546.7 571.5L548.1 576.7L540.5 576.7L539.2 571.5Z" fill="#c4c4c4" stroke="#c4c4c4" stroke-width="0.4"/><path d="M546.7 571.5L548.1 576.7M539.2 571.5L540.5 576.7" stroke="#858585" stroke-width="0.6" fill="none"/>
<path d="M535.9 560.2L540.4 562.3L532.9 562.3L528.4 560.2Z" fill="#7f7f7f" stroke="#7f7f7f" stroke-width="0.4"/><path d="M535.9 560.2L540.4 562.3M528.4 560.2L532.9 562.3" stroke="#858585" stroke-width="0.6" fill="none"/>
<path d="M548.1 576.7L548.2 581.0L540.6 581.0L540.5 576.7Z" fill="#c8c8c8" stroke="#c8c8c8" stroke-width="0.4"/><path d="M548.1 576.7L548.2 581.0M540.5 576.7L540.6 581.0" stroke="#858585" stroke-width="0.6" fill="none"/>
<path d="M531.2 560.4L535.9 560.2L528.4 560.2L523.6 560.4Z" fill="#eaeaea" stroke="#eaeaea" stroke-width="0.4"/><path d="M531.2 560.4L535.9 560.2M523.6 560.4L528.4 560.2" stroke="#858585" stroke-width="0.6" fill="none"/>
<path d="M519.9 581.7L519.8 577.7L512.3 577.7L512.4 581.7Z" fill="#dfdfdf" stroke="#dfdfdf" stroke-width="0.4"/><path d="M519.9 581.7L519.8 577.7M512.4 581.7L512.3 577.7" stroke="#858585" stroke-width="0.6" fill="none"/>
<path d="M548.2 581.0L547.4 583.6L539.9 583.6L540.6 581.0Z" fill="#bebebe" stroke="#bebebe" stroke-width="0.4"/><path d="M548.2 581.0L547.4 583.6M540.6 581.0L539.9 583.6" stroke="#858585" stroke-width="0.6" fill="none"/>
<path d="M526.8 563.0L531.2 560.4L523.6 560.4L519.2 563.0Z" fill="#f9f9f9" stroke="#f9f9f9" stroke-width="0.4"/><path d="M526.8 563.0L531.2 560.4M519.2 563.0L523.6 560.4" stroke="#858585" stroke-width="0.6" fill="none"/>
<path d="M519.8 577.7L520.9 572.5L513.3 572.5L512.3 577.7Z" fill="#f1f1f1" stroke="#f1f1f1" stroke-width="0.4"/><path d="M519.8 577.7L520.9 572.5M512.3 577.7L513.3 572.5" stroke="#858585" stroke-width="0.6" fill="none"/>
<path d="M523.2 567.3L526.8 563.0L519.2 563.0L515.7 567.3Z" fill="#ffffff" stroke="#ffffff" stroke-width="0.4"/><path d="M523.2 567.3L526.8 563.0M515.7 567.3L519.2 563.0" stroke="#858585" stroke-width="0.6" fill="none"/>
<path d="M520.9 572.5L523.2 567.3L515.7 567.3L513.3 572.5Z" fill="#fcfcfc" stroke="#fcfcfc" stroke-width="0.4"/><path d="M520.9 572.5L523.2 567.3M513.3 572.5L515.7 567.3" stroke="#858585" stroke-width="0.6" fill="none"/>
<path d="M547.4 583.6L546.3 583.8L538.8 583.8L539.9 583.6Z" fill="#a7a7a7" stroke="#a7a7a7" stroke-width="0.4"/><path d="M547.4 583.6L546.3 583.8M539.9 583.6L538.8 583.8" stroke="#858585" stroke-width="0.6" fill="none"/>
<path d="M569.7 566.3L572.3 571.5L564.8 571.5L562.2 566.3Z" fill="#b2b2b2" stroke="#b2b2b2" stroke-width="0.4"/><path d="M569.7 566.3L572.3 571.5M562.2 566.3L564.8 571.5" stroke="#858585" stroke-width="0.6" fill="none"/>
<path d="M566.0 562.3L569.7 566.3L562.2 566.3L558.4 562.3Z" fill="#969696" stroke="#969696" stroke-width="0.4"/><path d="M566.0 562.3L569.7 566.3M558.4 562.3L562.2 566.3" stroke="#858585" stroke-width="0.6" fill="none"/>
<path d="M572.3 571.5L573.6 576.7L566.1 576.7L564.8 571.5Z" fill="#c4c4c4" stroke="#c4c4c4" stroke-width="0.4"/><path d="M572.3 571.5L573.6 576.7M564.8 571.5L566.1 576.7" stroke="#858585" stroke-width="0.6" fill="none"/>
<path d="M546.3 583.8L545.5 581.7L537.9 581.7L538.8 583.8Z" fill="#d0d0d0" stroke="#d0d0d0" stroke-width="0.4"/><path d="M546.3 583.8L545.5 581.7M538.8 583.8L537.9 581.7" stroke="#858585" stroke-width="0.6" fill="none"/>
<path d="M561.4 560.2L566.0 562.3L558.4 562.3L553.9 560.2Z" fill="#7f7f7f" stroke="#7f7f7f" stroke-width="0.4"/><path d="M561.4 560.2L566.0 562.3M553.9 560.2L558.4 562.3" stroke="#858585" stroke-width="0.6" fill="none"/>
<path d="M573.6 576.7L573.6 581.7L566.1 581.7L566.1 576.7Z" fill="#c7c7c7" stroke="#c7c7c7" stroke-width="0.4"/><path d="M573.6 576.7L573.6 581.7M566.1 576.7L566.1 581.7" stroke="#858585" stroke-width="0.6" fill="none"/>
<path d="M556.7 560.4L561.4 560.2L553.9 560.2L549.2 560.4Z" fill="#eaeaea" stroke="#eaeaea" stroke-width="0.4"/><path d="M556.7 560.4L561.4 560.2M549.2 560.4L553.9 560.2" stroke="#858585" stroke-width="0.6" fill="none"/>
<path d="M545.5 581.7L545.4 577.7L537.8 577.7L537.9 581.7Z" fill="#dfdfdf" stroke="#dfdfdf" stroke-width="0.4"/><path d="M545.5 581.7L545.4 577.7M537.9 581.7L537.8 577.7" stroke="#858585" stroke-width="0.6" fill="none"/>
<path d="M552.3 563.0L556.7 560.4L549.2 560.4L544.8 563.0Z" fill="#f9f9f9" stroke="#f9f9f9" stroke-width="0.4"/><path d="M552.3 563.0L556.7 560.4M544.8 563.0L549.2 560.4" stroke="#858585" stroke-width="0.6" fill="none"/>
<path d="M545.4 577.7L546.4 572.5L538.9 572.5L537.8 577.7Z" fill="#f1f1f1" stroke="#f1f1f1" stroke-width="0.4"/><path d="M545.4 577.7L546.4 572.5M537.8 577.7L538.9 572.5" stroke="#858585" stroke-width="0.6" fill="none"/>
<path d="M548.8 567.3L552.3 563.0L544.8 563.0L541.2 567.3Z" fill="#ffffff" stroke="#ffffff" stroke-width="0.4"/><path d="M548.8 567.3L552.3 563.0M541.2 567.3L544.8 563.0" stroke="#858585" stroke-width="0.6" fill="none"/>
<path d="M546.4 572.5L548.8 567.3L541.2 567.3L538.9 572.5Z" fill="#fcfcfc" stroke="#fcfcfc" stroke-width="0.4"/><path d="M546.4 572.5L548.8 567.3M538.9 572.5L541.2 567.3" stroke="#858585" stroke-width="0.6" fill="none"/>
<path d="M430.0 588.0C434.2 588.3 447.0 590.5 455.0 590.0C463.0 589.5 471.7 586.7 478.0 585.0C484.3 583.3 488.5 582.0 493.0 580.0C497.5 578.0 503.0 574.2 505.0 573.0" fill="none" stroke="#8a8a8a" stroke-width="3.3" stroke-linecap="round" stroke-linejoin="round"/>
<path d="M430.0 588.0C434.2 588.3 447.0 590.5 455.0 590.0C463.0 589.5 471.7 586.7 478.0 585.0C484.3 583.3 488.5 582.0 493.0 580.0C497.5 578.0 503.0 574.2 505.0 573.0" fill="none" stroke="#f2f2f2" stroke-width="2.2" stroke-linecap="round" stroke-linejoin="round"/>
<path d="M493.0 583.0C495.0 583.3 499.5 584.8 505.0 585.0C510.5 585.2 520.0 585.2 526.0 584.0C532.0 582.8 536.0 578.7 541.0 578.0C546.0 577.3 553.5 579.7 556.0 580.0" fill="none" stroke="#8a8a8a" stroke-width="3.3" stroke-linecap="round" stroke-linejoin="round"/>
<path d="M493.0 583.0C495.0 583.3 499.5 584.8 505.0 585.0C510.5 585.2 520.0 585.2 526.0 584.0C532.0 582.8 536.0 578.7 541.0 578.0C546.0 577.3 553.5 579.7 556.0 580.0" fill="none" stroke="#f2f2f2" stroke-width="2.2" stroke-linecap="round" stroke-linejoin="round"/>
<path d="M403.0 543.0C403.4 546.3 406.1 556.0 405.6 563.0C405.1 570.0 398.6 579.3 400.0 585.0C401.4 590.7 409.8 595.8 414.0 597.0C418.2 598.2 423.1 595.8 425.0 592.0C426.9 588.2 425.5 577.0 425.6 574.0" fill="none" stroke="#8a8a8a" stroke-width="3.3" stroke-linecap="round" stroke-linejoin="round"/>
<path d="M403.0 543.0C403.4 546.3 406.1 556.0 405.6 563.0C405.1 570.0 398.6 579.3 400.0 585.0C401.4 590.7 409.8 595.8 414.0 597.0C418.2 598.2 423.1 595.8 425.0 592.0C426.9 588.2 425.5 577.0 425.6 574.0" fill="none" stroke="#f2f2f2" stroke-width="2.2" stroke-linecap="round" stroke-linejoin="round"/>
<path d="M425.6 592.0C427.1 593.9 430.0 601.0 434.4 603.3C438.8 605.6 447.6 607.5 452.2 605.6C456.8 603.7 460.4 594.3 462.0 592.0" fill="none" stroke="#8a8a8a" stroke-width="3.3" stroke-linecap="round" stroke-linejoin="round"/>
<path d="M425.6 592.0C427.1 593.9 430.0 601.0 434.4 603.3C438.8 605.6 447.6 607.5 452.2 605.6C456.8 603.7 460.4 594.3 462.0 592.0" fill="none" stroke="#f2f2f2" stroke-width="2.2" stroke-linecap="round" stroke-linejoin="round"/>
<path d="M356.7 614.0C357.2 616.0 358.4 623.3 360.0 626.0C361.6 628.7 365.0 629.3 366.0 630.0" fill="none" stroke="#8a8a8a" stroke-width="3.5" stroke-linecap="round" stroke-linejoin="round"/>
<path d="M356.7 614.0C357.2 616.0 358.4 623.3 360.0 626.0C361.6 628.7 365.0 629.3 366.0 630.0" fill="none" stroke="#f2f2f2" stroke-width="2.4" stroke-linecap="round" stroke-linejoin="round"/>
<path d="M374.4 622.3L377.2 630.2L365.6 630.6L362.8 622.8Z" fill="#d1d1d1" stroke="#d1d1d1" stroke-width="0.4"/><path d="M374.4 622.3L377.2 630.2M362.8 622.8L365.6 630.6" stroke="#858585" stroke-width="0.6" fill="none"/>
<path d="M370.8 615.0L374.4 622.3L362.8 622.8L359.1 615.5Z" fill="#b9b9b9" stroke="#b9b9b9" stroke-width="0.4"/><path d="M370.8 615.0L374.4 622.3M359.1 615.5L362.8 622.8" stroke="#858585" stroke-width="0.6" fill="none"/>
<path d="M377.2 630.2L379.2 637.1L367.6 637.6L365.6 630.6Z" fill="#dbdbdb" stroke="#dbdbdb" stroke-width="0.4"/><path d="M377.2 630.2L379.2 637.1M365.6 630.6L367.6 637.6" stroke="#858585" stroke-width="0.6" fill="none"/>
<path d="M379.2 637.1L380.5 641.8L368.8 642.3L367.6 637.6Z" fill="#d5d5d5" stroke="#d5d5d5" stroke-width="0.4"/><path d="M379.2 637.1L380.5 641.8M367.6 637.6L368.8 642.3" stroke="#858585" stroke-width="0.6" fill="none"/>
<path d="M410.5 620.7L413.3 628.6L401.7 629.1L398.8 621.2Z" fill="#d1d1d1" stroke="#d1d1d1" stroke-width="0.4"/><path d="M410.5 620.7L413.3 628.6M398.8 621.2L401.7 629.1" stroke="#858585" stroke-width="0.6" fill="none"/>
<path d="M406.9 613.5L410.5 620.7L398.8 621.2L395.2 614.0Z" fill="#b9b9b9" stroke="#b9b9b9" stroke-width="0.4"/><path d="M406.9 613.5L410.5 620.7M395.2 614.0L398.8 621.2" stroke="#858585" stroke-width="0.6" fill="none"/>
<path d="M413.3 628.6L415.3 635.6L403.7 636.1L401.7 629.1Z" fill="#dbdbdb" stroke="#dbdbdb" stroke-width="0.4"/><path d="M413.3 628.6L415.3 635.6M401.7 629.1L403.7 636.1" stroke="#858585" stroke-width="0.6" fill="none"/>
<path d="M402.7 608.4L406.9 613.5L395.2 614.0L391.0 608.9Z" fill="#989898" stroke="#989898" stroke-width="0.4"/><path d="M402.7 608.4L406.9 613.5M391.0 608.9L395.2 614.0" stroke="#858585" stroke-width="0.6" fill="none"/>
<path d="M380.5 641.8L381.3 643.2L369.6 643.7L368.8 642.3Z" fill="#c0c0c0" stroke="#c0c0c0" stroke-width="0.4"/><path d="M380.5 641.8L381.3 643.2M368.8 642.3L369.6 643.7" stroke="#858585" stroke-width="0.6" fill="none"/>
<path d="M415.3 635.6L416.6 640.3L404.9 640.8L403.7 636.1Z" fill="#d5d5d5" stroke="#d5d5d5" stroke-width="0.4"/><path d="M415.3 635.6L416.6 640.3M403.7 636.1L404.9 640.8" stroke="#858585" stroke-width="0.6" fill="none"/>
<path d="M446.6 619.2L449.4 627.1L437.8 627.6L434.9 619.7Z" fill="#d1d1d1" stroke="#d1d1d1" stroke-width="0.4"/><path d="M446.6 619.2L449.4 627.1M434.9 619.7L437.8 627.6" stroke="#858585" stroke-width="0.6" fill="none"/>
<path d="M443.0 612.0L446.6 619.2L434.9 619.7L431.3 612.5Z" fill="#b9b9b9" stroke="#b9b9b9" stroke-width="0.4"/><path d="M443.0 612.0L446.6 619.2M431.3 612.5L434.9 619.7" stroke="#858585" stroke-width="0.6" fill="none"/>
<path d="M398.2 606.5L402.7 608.4L391.0 608.9L386.5 607.0Z" fill="#8a8a8a" stroke="#8a8a8a" stroke-width="0.4"/><path d="M398.2 606.5L402.7 608.4M386.5 607.0L391.0 608.9" stroke="#858585" stroke-width="0.6" fill="none"/>
<path d="M449.4 627.1L451.4 634.1L439.7 634.6L437.8 627.6Z" fill="#dbdbdb" stroke="#dbdbdb" stroke-width="0.4"/><path d="M449.4 627.1L451.4 634.1M437.8 627.6L439.7 634.6" stroke="#858585" stroke-width="0.6" fill="none"/>
<path d="M438.8 606.9L443.0 612.0L431.3 612.5L427.1 607.4Z" fill="#989898" stroke="#989898" stroke-width="0.4"/><path d="M438.8 606.9L443.0 612.0M427.1 607.4L431.3 612.5" stroke="#858585" stroke-width="0.6" fill="none"/>
<path d="M381.3 643.2L382.0 641.0L370.3 641.5L369.6 643.7Z" fill="#d0d0d0" stroke="#d0d0d0" stroke-width="0.4"/><path d="M381.3 643.2L382.0 641.0M369.6 643.7L370.3 641.5" stroke="#858585" stroke-width="0.6" fill="none"/>
<path d="M416.6 640.3L417.4 641.7L405.7 642.2L404.9 640.8Z" fill="#c0c0c0" stroke="#c0c0c0" stroke-width="0.4"/><path d="M416.6 640.3L417.4 641.7M404.9 640.8L405.7 642.2" stroke="#858585" stroke-width="0.6" fill="none"/>
<path d="M451.4 634.1L452.7 638.7L441.0 639.2L439.7 634.6Z" fill="#d5d5d5" stroke="#d5d5d5" stroke-width="0.4"/><path d="M451.4 634.1L452.7 638.7M439.7 634.6L441.0 639.2" stroke="#858585" stroke-width="0.6" fill="none"/>
<path d="M482.7 617.7L485.5 625.6L473.8 626.1L471.0 618.2Z" fill="#d1d1d1" stroke="#d1d1d1" stroke-width="0.4"/><path d="M482.7 617.7L485.5 625.6M471.0 618.2L473.8 626.1" stroke="#858585" stroke-width="0.6" fill="none"/>
<path d="M393.8 608.1L398.2 606.5L386.5 607.0L382.2 608.6Z" fill="#f0f0f0" stroke="#f0f0f0" stroke-width="0.4"/><path d="M393.8 608.1L398.2 606.5M382.2 608.6L386.5 607.0" stroke="#858585" stroke-width="0.6" fill="none"/>
<path d="M479.0 610.5L482.7 617.7L471.0 618.2L467.4 611.0Z" fill="#b9b9b9" stroke="#b9b9b9" stroke-width="0.4"/><path d="M479.0 610.5L482.7 617.7M467.4 611.0L471.0 618.2" stroke="#858585" stroke-width="0.6" fill="none"/>
<path d="M434.3 605.0L438.8 606.9L427.1 607.4L422.6 605.4Z" fill="#8a8a8a" stroke="#8a8a8a" stroke-width="0.4"/><path d="M434.3 605.0L438.8 606.9M422.6 605.4L427.1 607.4" stroke="#858585" stroke-width="0.6" fill="none"/>
<path d="M485.5 625.6L487.5 632.6L475.8 633.1L473.8 626.1Z" fill="#dbdbdb" stroke="#dbdbdb" stroke-width="0.4"/><path d="M485.5 625.6L487.5 632.6M473.8 626.1L475.8 633.1" stroke="#858585" stroke-width="0.6" fill="none"/>
<path d="M474.8 605.4L479.0 610.5L467.4 611.0L463.2 605.9Z" fill="#989898" stroke="#989898" stroke-width="0.4"/><path d="M474.8 605.4L479.0 610.5M463.2 605.9L467.4 611.0" stroke="#858585" stroke-width="0.6" fill="none"/>
<path d="M382.0 641.0L382.9 635.7L371.3 636.2L370.3 641.5Z" fill="#d8d8d8" stroke="#d8d8d8" stroke-width="0.4"/><path d="M382.0 641.0L382.9 635.7M370.3 641.5L371.3 636.2" stroke="#858585" stroke-width="0.6" fill="none"/>
<path d="M389.9 613.0L393.8 608.1L382.2 608.6L378.3 613.5Z" fill="#fcfcfc" stroke="#fcfcfc" stroke-width="0.4"/><path d="M389.9 613.0L393.8 608.1M378.3 613.5L382.2 608.6" stroke="#858585" stroke-width="0.6" fill="none"/>
<path d="M417.4 641.7L418.1 639.5L406.4 640.0L405.7 642.2Z" fill="#d0d0d0" stroke="#d0d0d0" stroke-width="0.4"/><path d="M417.4 641.7L418.1 639.5M405.7 642.2L406.4 640.0" stroke="#858585" stroke-width="0.6" fill="none"/>
<path d="M452.7 638.7L453.5 640.1L441.8 640.6L441.0 639.2Z" fill="#c0c0c0" stroke="#c0c0c0" stroke-width="0.4"/><path d="M452.7 638.7L453.5 640.1M441.0 639.2L441.8 640.6" stroke="#858585" stroke-width="0.6" fill="none"/>
<path d="M487.5 632.6L488.8 637.2L477.1 637.7L475.8 633.1Z" fill="#d5d5d5" stroke="#d5d5d5" stroke-width="0.4"/><path d="M487.5 632.6L488.8 637.2M475.8 633.1L477.1 637.7" stroke="#858585" stroke-width="0.6" fill="none"/>
<path d="M518.8 616.2L521.6 624.1L509.9 624.6L507.1 616.7Z" fill="#d1d1d1" stroke="#d1d1d1" stroke-width="0.4"/><path d="M518.8 616.2L521.6 624.1M507.1 616.7L509.9 624.6" stroke="#858585" stroke-width="0.6" fill="none"/>
<path d="M429.9 606.6L434.3 605.0L422.6 605.4L418.3 607.1Z" fill="#f0f0f0" stroke="#f0f0f0" stroke-width="0.4"/><path d="M429.9 606.6L434.3 605.0M418.3 607.1L422.6 605.4" stroke="#858585" stroke-width="0.6" fill="none"/>
<path d="M515.1 609.0L518.8 616.2L507.1 616.7L503.5 609.4Z" fill="#b9b9b9" stroke="#b9b9b9" stroke-width="0.4"/><path d="M515.1 609.0L518.8 616.2M503.5 609.4L507.1 616.7" stroke="#858585" stroke-width="0.6" fill="none"/>
<path d="M382.9 635.7L384.4 628.3L372.8 628.8L371.3 636.2Z" fill="#ececec" stroke="#ececec" stroke-width="0.4"/><path d="M382.9 635.7L384.4 628.3M371.3 636.2L372.8 628.8" stroke="#858585" stroke-width="0.6" fill="none"/>
<path d="M470.4 603.4L474.8 605.4L463.2 605.9L458.7 603.9Z" fill="#8a8a8a" stroke="#8a8a8a" stroke-width="0.4"/><path d="M470.4 603.4L474.8 605.4M458.7 603.9L463.2 605.9" stroke="#858585" stroke-width="0.6" fill="none"/>
<path d="M386.8 620.2L389.9 613.0L378.3 613.5L375.1 620.7Z" fill="#ffffff" stroke="#ffffff" stroke-width="0.4"/><path d="M386.8 620.2L389.9 613.0M375.1 620.7L378.3 613.5" stroke="#858585" stroke-width="0.6" fill="none"/>
<path d="M521.6 624.1L523.6 631.0L511.9 631.5L509.9 624.6Z" fill="#dbdbdb" stroke="#dbdbdb" stroke-width="0.4"/><path d="M521.6 624.1L523.6 631.0M509.9 624.6L511.9 631.5" stroke="#858585" stroke-width="0.6" fill="none"/>
<path d="M384.4 628.3L386.8 620.2L375.1 620.7L372.8 628.8Z" fill="#fafafa" stroke="#fafafa" stroke-width="0.4"/><path d="M384.4 628.3L386.8 620.2M372.8 628.8L375.1 620.7" stroke="#858585" stroke-width="0.6" fill="none"/>
<path d="M510.9 603.9L515.1 609.0L503.5 609.4L499.3 604.3Z" fill="#989898" stroke="#989898" stroke-width="0.4"/><path d="M510.9 603.9L515.1 609.0M499.3 604.3L503.5 609.4" stroke="#858585" stroke-width="0.6" fill="none"/>
<path d="M418.1 639.5L419.0 634.2L407.3 634.7L406.4 640.0Z" fill="#d8d8d8" stroke="#d8d8d8" stroke-width="0.4"/><path d="M418.1 639.5L419.0 634.2M406.4 640.0L407.3 634.7" stroke="#858585" stroke-width="0.6" fill="none"/>
<path d="M426.0 611.4L429.9 606.6L418.3 607.1L414.4 611.9Z" fill="#fcfcfc" stroke="#fcfcfc" stroke-width="0.4"/><path d="M426.0 611.4L429.9 606.6M414.4 611.9L418.3 607.1" stroke="#858585" stroke-width="0.6" fill="none"/>
<path d="M453.5 640.1L454.1 638.0L442.5 638.5L441.8 640.6Z" fill="#d0d0d0" stroke="#d0d0d0" stroke-width="0.4"/><path d="M453.5 640.1L454.1 638.0M441.8 640.6L442.5 638.5" stroke="#858585" stroke-width="0.6" fill="none"/>
<path d="M488.8 637.2L489.5 638.6L477.9 639.1L477.1 637.7Z" fill="#c0c0c0" stroke="#c0c0c0" stroke-width="0.4"/><path d="M488.8 637.2L489.5 638.6M477.1 637.7L477.9 639.1" stroke="#858585" stroke-width="0.6" fill="none"/>
<path d="M523.6 631.0L524.8 635.7L513.2 636.2L511.9 631.5Z" fill="#d5d5d5" stroke="#d5d5d5" stroke-width="0.4"/><path d="M523.6 631.0L524.8 635.7M511.9 631.5L513.2 636.2" stroke="#858585" stroke-width="0.6" fill="none"/>
<path d="M466.0 605.0L470.4 603.4L458.7 603.9L454.3 605.5Z" fill="#f0f0f0" stroke="#f0f0f0" stroke-width="0.4"/><path d="M466.0 605.0L470.4 603.4M454.3 605.5L458.7 603.9" stroke="#858585" stroke-width="0.6" fill="none"/>
<path d="M419.0 634.2L420.5 626.7L408.9 627.2L407.3 634.7Z" fill="#ececec" stroke="#ececec" stroke-width="0.4"/><path d="M419.0 634.2L420.5 626.7M407.3 634.7L408.9 627.2" stroke="#858585" stroke-width="0.6" fill="none"/>
<path d="M506.5 601.9L510.9 603.9L499.3 604.3L494.8 602.4Z" fill="#8a8a8a" stroke="#8a8a8a" stroke-width="0.4"/><path d="M506.5 601.9L510.9 603.9M494.8 602.4L499.3 604.3" stroke="#858585" stroke-width="0.6" fill="none"/>
<path d="M422.9 618.6L426.0 611.4L414.4 611.9L411.2 619.1Z" fill="#ffffff" stroke="#ffffff" stroke-width="0.4"/><path d="M422.9 618.6L426.0 611.4M411.2 619.1L414.4 611.9" stroke="#858585" stroke-width="0.6" fill="none"/>
<path d="M420.5 626.7L422.9 618.6L411.2 619.1L408.9 627.2Z" fill="#fafafa" stroke="#fafafa" stroke-width="0.4"/><path d="M420.5 626.7L422.9 618.6M408.9 627.2L411.2 619.1" stroke="#858585" stroke-width="0.6" fill="none"/>
<path d="M454.1 638.0L455.1 632.7L443.4 633.2L442.5 638.5Z" fill="#d8d8d8" stroke="#d8d8d8" stroke-width="0.4"/><path d="M454.1 638.0L455.1 632.7M442.5 638.5L443.4 633.2" stroke="#858585" stroke-width="0.6" fill="none"/>
<path d="M462.1 609.9L466.0 605.0L454.3 605.5L450.5 610.4Z" fill="#fcfcfc" stroke="#fcfcfc" stroke-width="0.4"/><path d="M462.1 609.9L466.0 605.0M450.5 610.4L454.3 605.5" stroke="#858585" stroke-width="0.6" fill="none"/>
<path d="M489.5 638.6L490.2 636.5L478.6 636.9L477.9 639.1Z" fill="#d0d0d0" stroke="#d0d0d0" stroke-width="0.4"/><path d="M489.5 638.6L490.2 636.5M477.9 639.1L478.6 636.9" stroke="#858585" stroke-width="0.6" fill="none"/>
<path d="M524.8 635.7L525.6 637.1L514.0 637.6L513.2 636.2Z" fill="#c0c0c0" stroke="#c0c0c0" stroke-width="0.4"/><path d="M524.8 635.7L525.6 637.1M513.2 636.2L514.0 637.6" stroke="#858585" stroke-width="0.6" fill="none"/>
<path d="M502.1 603.5L506.5 601.9L494.8 602.4L490.4 604.0Z" fill="#f0f0f0" stroke="#f0f0f0" stroke-width="0.4"/><path d="M502.1 603.5L506.5 601.9M490.4 604.0L494.8 602.4" stroke="#858585" stroke-width="0.6" fill="none"/>
<path d="M455.1 632.7L456.6 625.2L445.0 625.7L443.4 633.2Z" fill="#ececec" stroke="#ececec" stroke-width="0.4"/><path d="M455.1 632.7L456.6 625.2M443.4 633.2L445.0 625.7" stroke="#858585" stroke-width="0.6" fill="none"/>
<path d="M458.9 617.1L462.1 609.9L450.5 610.4L447.3 617.6Z" fill="#ffffff" stroke="#ffffff" stroke-width="0.4"/><path d="M458.9 617.1L462.1 609.9M447.3 617.6L450.5 610.4" stroke="#858585" stroke-width="0.6" fill="none"/>
<path d="M456.6 625.2L458.9 617.1L447.3 617.6L445.0 625.7Z" fill="#fafafa" stroke="#fafafa" stroke-width="0.4"/><path d="M456.6 625.2L458.9 617.1M445.0 625.7L447.3 617.6" stroke="#858585" stroke-width="0.6" fill="none"/>
<path d="M490.2 636.5L491.2 631.1L479.5 631.6L478.6 636.9Z" fill="#d8d8d8" stroke="#d8d8d8" stroke-width="0.4"/><path d="M490.2 636.5L491.2 631.1M478.6 636.9L479.5 631.6" stroke="#858585" stroke-width="0.6" fill="none"/>
<path d="M498.2 608.4L502.1 603.5L490.4 604.0L486.5 608.9Z" fill="#fcfcfc" stroke="#fcfcfc" stroke-width="0.4"/><path d="M498.2 608.4L502.1 603.5M486.5 608.9L490.4 604.0" stroke="#858585" stroke-width="0.6" fill="none"/>
<path d="M525.6 637.1L526.3 634.9L514.7 635.4L514.0 637.6Z" fill="#d0d0d0" stroke="#d0d0d0" stroke-width="0.4"/><path d="M525.6 637.1L526.3 634.9M514.0 637.6L514.7 635.4" stroke="#858585" stroke-width="0.6" fill="none"/>
<path d="M491.2 631.1L492.7 623.7L481.0 624.2L479.5 631.6Z" fill="#ececec" stroke="#ececec" stroke-width="0.4"/><path d="M491.2 631.1L492.7 623.7M479.5 631.6L481.0 624.2" stroke="#858585" stroke-width="0.6" fill="none"/>
<path d="M495.0 615.6L498.2 608.4L486.5 608.9L483.4 616.1Z" fill="#ffffff" stroke="#ffffff" stroke-width="0.4"/><path d="M495.0 615.6L498.2 608.4M483.4 616.1L486.5 608.9" stroke="#858585" stroke-width="0.6" fill="none"/>
<path d="M492.7 623.7L495.0 615.6L483.4 616.1L481.0 624.2Z" fill="#fafafa" stroke="#fafafa" stroke-width="0.4"/><path d="M492.7 623.7L495.0 615.6M481.0 624.2L483.4 616.1" stroke="#858585" stroke-width="0.6" fill="none"/>
<path d="M526.3 634.9L527.3 629.6L515.6 630.1L514.7 635.4Z" fill="#d8d8d8" stroke="#d8d8d8" stroke-width="0.4"/><path d="M526.3 634.9L527.3 629.6M514.7 635.4L515.6 630.1" stroke="#858585" stroke-width="0.6" fill="none"/>
<path d="M527.3 629.6L529.6 618.9L518.0 619.4L515.6 630.1Z" fill="#efefef" stroke="#efefef" stroke-width="0.4"/><path d="M527.3 629.6L529.6 618.9M515.6 630.1L518.0 619.4" stroke="#858585" stroke-width="0.6" fill="none"/>
<path d="M477.4 658.5L478.0 665.2L471.2 664.6L470.6 657.8Z" fill="#777777" stroke="#777777" stroke-width="0.4"/><path d="M477.4 658.5L478.0 665.2M470.6 657.8L471.2 664.6" stroke="#858585" stroke-width="0.6" fill="none"/>
<path d="M478.0 665.2L480.6 671.5L473.8 670.9L471.2 664.6Z" fill="#818181" stroke="#818181" stroke-width="0.4"/><path d="M478.0 665.2L480.6 671.5M471.2 664.6L473.8 670.9" stroke="#858585" stroke-width="0.6" fill="none"/>
<path d="M480.6 671.5L484.9 676.1L478.1 675.5L473.8 670.9Z" fill="#848484" stroke="#848484" stroke-width="0.4"/><path d="M480.6 671.5L484.9 676.1M473.8 670.9L478.1 675.5" stroke="#858585" stroke-width="0.6" fill="none"/>
<path d="M478.6 652.5L477.4 658.5L470.6 657.8L471.8 651.9Z" fill="#696969" stroke="#696969" stroke-width="0.4"/><path d="M478.6 652.5L477.4 658.5M471.8 651.9L470.6 657.8" stroke="#858585" stroke-width="0.6" fill="none"/>
<path d="M484.9 676.1L490.2 678.1L483.4 677.4L478.1 675.5Z" fill="#808080" stroke="#808080" stroke-width="0.4"/><path d="M484.9 676.1L490.2 678.1M478.1 675.5L483.4 677.4" stroke="#858585" stroke-width="0.6" fill="none"/>
<path d="M481.1 648.6L478.6 652.5L471.8 651.9L474.2 647.9Z" fill="#616161" stroke="#616161" stroke-width="0.4"/><path d="M481.1 648.6L478.6 652.5M474.2 647.9L471.8 651.9" stroke="#858585" stroke-width="0.6" fill="none"/>
<path d="M490.2 678.1L498.0 675.9L491.2 675.3L483.4 677.4Z" fill="#d0d0d0" stroke="#d0d0d0" stroke-width="0.4"/><path d="M490.2 678.1L498.0 675.9M483.4 677.4L491.2 675.3" stroke="#858585" stroke-width="0.6" fill="none"/>
<path d="M484.1 647.4L481.1 648.6L474.2 647.9L477.3 646.7Z" fill="#616161" stroke="#616161" stroke-width="0.4"/><path d="M484.1 647.4L481.1 648.6M477.3 646.7L474.2 647.9" stroke="#858585" stroke-width="0.6" fill="none"/>
<path d="M459.6 656.8L460.3 663.6L453.5 662.9L452.8 656.2Z" fill="#777777" stroke="#777777" stroke-width="0.4"/><path d="M459.6 656.8L460.3 663.6M452.8 656.2L453.5 662.9" stroke="#858585" stroke-width="0.6" fill="none"/>
<path d="M460.3 663.6L462.8 669.8L456.0 669.2L453.5 662.9Z" fill="#818181" stroke="#818181" stroke-width="0.4"/><path d="M460.3 663.6L462.8 669.8M453.5 662.9L456.0 669.2" stroke="#858585" stroke-width="0.6" fill="none"/>
<path d="M462.8 669.8L467.1 674.4L460.3 673.8L456.0 669.2Z" fill="#848484" stroke="#848484" stroke-width="0.4"/><path d="M462.8 669.8L467.1 674.4M456.0 669.2L460.3 673.8" stroke="#858585" stroke-width="0.6" fill="none"/>
<path d="M460.8 650.9L459.6 656.8L452.8 656.2L454.0 650.2Z" fill="#696969" stroke="#696969" stroke-width="0.4"/><path d="M460.8 650.9L459.6 656.8M454.0 650.2L452.8 656.2" stroke="#858585" stroke-width="0.6" fill="none"/>
<path d="M486.9 649.1L484.1 647.4L477.3 646.7L480.1 648.5Z" fill="#ebebeb" stroke="#ebebeb" stroke-width="0.4"/><path d="M486.9 649.1L484.1 647.4M480.1 648.5L477.3 646.7" stroke="#858585" stroke-width="0.6" fill="none"/>
<path d="M467.1 674.4L472.4 676.4L465.6 675.8L460.3 673.8Z" fill="#808080" stroke="#808080" stroke-width="0.4"/><path d="M467.1 674.4L472.4 676.4M460.3 673.8L465.6 675.8" stroke="#858585" stroke-width="0.6" fill="none"/>
<path d="M463.3 646.9L460.8 650.9L454.0 650.2L456.5 646.3Z" fill="#616161" stroke="#616161" stroke-width="0.4"/><path d="M463.3 646.9L460.8 650.9M456.5 646.3L454.0 650.2" stroke="#858585" stroke-width="0.6" fill="none"/>
<path d="M488.7 653.5L486.9 649.1L480.1 648.5L481.9 652.8Z" fill="#eeeeee" stroke="#eeeeee" stroke-width="0.4"/><path d="M488.7 653.5L486.9 649.1M481.9 652.8L480.1 648.5" stroke="#858585" stroke-width="0.6" fill="none"/>
<path d="M472.4 676.4L478.1 675.5L471.3 674.8L465.6 675.8Z" fill="#d0d0d0" stroke="#d0d0d0" stroke-width="0.4"/><path d="M472.4 676.4L478.1 675.5M465.6 675.8L471.3 674.8" stroke="#858585" stroke-width="0.6" fill="none"/>
<path d="M466.4 645.7L463.3 646.9L456.5 646.3L459.6 645.1Z" fill="#616161" stroke="#616161" stroke-width="0.4"/><path d="M466.4 645.7L463.3 646.9M459.6 645.1L456.5 646.3" stroke="#858585" stroke-width="0.6" fill="none"/>
<path d="M488.7 659.5L488.7 653.5L481.9 652.8L481.9 658.9Z" fill="#ebebeb" stroke="#ebebeb" stroke-width="0.4"/><path d="M488.7 659.5L488.7 653.5M481.9 658.9L481.9 652.8" stroke="#858585" stroke-width="0.6" fill="none"/>
<path d="M478.1 675.5L483.1 671.7L476.3 671.1L471.3 674.8Z" fill="#d0d0d0" stroke="#d0d0d0" stroke-width="0.4"/><path d="M478.1 675.5L483.1 671.7M471.3 674.8L476.3 671.1" stroke="#858585" stroke-width="0.6" fill="none"/>
<path d="M483.1 671.7L486.8 666.1L480.0 665.4L476.3 671.1Z" fill="#d7d7d7" stroke="#d7d7d7" stroke-width="0.4"/><path d="M483.1 671.7L486.8 666.1M476.3 671.1L480.0 665.4" stroke="#858585" stroke-width="0.6" fill="none"/>
<path d="M486.8 666.1L488.7 659.5L481.9 658.9L480.0 665.4Z" fill="#e3e3e3" stroke="#e3e3e3" stroke-width="0.4"/><path d="M486.8 666.1L488.7 659.5M480.0 665.4L481.9 658.9" stroke="#858585" stroke-width="0.6" fill="none"/>
<path d="M441.8 655.1L442.5 661.9L435.7 661.3L435.0 654.5Z" fill="#777777" stroke="#777777" stroke-width="0.4"/><path d="M441.8 655.1L442.5 661.9M435.0 654.5L435.7 661.3" stroke="#858585" stroke-width="0.6" fill="none"/>
<path d="M442.5 661.9L445.1 668.2L438.3 667.5L435.7 661.3Z" fill="#818181" stroke="#818181" stroke-width="0.4"/><path d="M442.5 661.9L445.1 668.2M435.7 661.3L438.3 667.5" stroke="#858585" stroke-width="0.6" fill="none"/>
<path d="M445.1 668.2L449.3 672.8L442.5 672.1L438.3 667.5Z" fill="#848484" stroke="#848484" stroke-width="0.4"/><path d="M445.1 668.2L449.3 672.8M438.3 667.5L442.5 672.1" stroke="#858585" stroke-width="0.6" fill="none"/>
<path d="M443.0 649.2L441.8 655.1L435.0 654.5L436.2 648.6Z" fill="#696969" stroke="#696969" stroke-width="0.4"/><path d="M443.0 649.2L441.8 655.1M436.2 648.6L435.0 654.5" stroke="#858585" stroke-width="0.6" fill="none"/>
<path d="M469.2 647.5L466.4 645.7L459.6 645.1L462.4 646.8Z" fill="#ebebeb" stroke="#ebebeb" stroke-width="0.4"/><path d="M469.2 647.5L466.4 645.7M462.4 646.8L459.6 645.1" stroke="#858585" stroke-width="0.6" fill="none"/>
<path d="M449.3 672.8L454.7 674.8L447.9 674.1L442.5 672.1Z" fill="#808080" stroke="#808080" stroke-width="0.4"/><path d="M449.3 672.8L454.7 674.8M442.5 672.1L447.9 674.1" stroke="#858585" stroke-width="0.6" fill="none"/>
<path d="M445.5 645.3L443.0 649.2L436.2 648.6L438.7 644.6Z" fill="#616161" stroke="#616161" stroke-width="0.4"/><path d="M445.5 645.3L443.0 649.2M438.7 644.6L436.2 648.6" stroke="#858585" stroke-width="0.6" fill="none"/>
<path d="M470.9 651.8L469.2 647.5L462.4 646.8L464.1 651.2Z" fill="#eeeeee" stroke="#eeeeee" stroke-width="0.4"/><path d="M470.9 651.8L469.2 647.5M464.1 651.2L462.4 646.8" stroke="#858585" stroke-width="0.6" fill="none"/>
<path d="M454.7 674.8L460.3 673.8L453.5 673.2L447.9 674.1Z" fill="#d0d0d0" stroke="#d0d0d0" stroke-width="0.4"/><path d="M454.7 674.8L460.3 673.8M447.9 674.1L453.5 673.2" stroke="#858585" stroke-width="0.6" fill="none"/>
<path d="M448.6 644.1L445.5 645.3L438.7 644.6L441.8 643.4Z" fill="#616161" stroke="#616161" stroke-width="0.4"/><path d="M448.6 644.1L445.5 645.3M441.8 643.4L438.7 644.6" stroke="#858585" stroke-width="0.6" fill="none"/>
<path d="M470.9 657.9L470.9 651.8L464.1 651.2L464.1 657.2Z" fill="#ebebeb" stroke="#ebebeb" stroke-width="0.4"/><path d="M470.9 657.9L470.9 651.8M464.1 657.2L464.1 651.2" stroke="#858585" stroke-width="0.6" fill="none"/>
<path d="M460.3 673.8L465.3 670.1L458.5 669.4L453.5 673.2Z" fill="#d0d0d0" stroke="#d0d0d0" stroke-width="0.4"/><path d="M460.3 673.8L465.3 670.1M453.5 673.2L458.5 669.4" stroke="#858585" stroke-width="0.6" fill="none"/>
<path d="M465.3 670.1L469.0 664.4L462.2 663.7L458.5 669.4Z" fill="#d7d7d7" stroke="#d7d7d7" stroke-width="0.4"/><path d="M465.3 670.1L469.0 664.4M458.5 669.4L462.2 663.7" stroke="#858585" stroke-width="0.6" fill="none"/>
<path d="M469.0 664.4L470.9 657.9L464.1 657.2L462.2 663.7Z" fill="#e3e3e3" stroke="#e3e3e3" stroke-width="0.4"/><path d="M469.0 664.4L470.9 657.9M462.2 663.7L464.1 657.2" stroke="#858585" stroke-width="0.6" fill="none"/>
<path d="M424.1 653.5L424.7 660.2L417.9 659.6L417.3 652.8Z" fill="#777777" stroke="#777777" stroke-width="0.4"/><path d="M424.1 653.5L424.7 660.2M417.3 652.8L417.9 659.6" stroke="#858585" stroke-width="0.6" fill="none"/>
<path d="M424.7 660.2L427.3 666.5L420.5 665.9L417.9 659.6Z" fill="#818181" stroke="#818181" stroke-width="0.4"/><path d="M424.7 660.2L427.3 666.5M417.9 659.6L420.5 665.9" stroke="#858585" stroke-width="0.6" fill="none"/>
<path d="M427.3 666.5L431.5 671.1L424.7 670.5L420.5 665.9Z" fill="#848484" stroke="#848484" stroke-width="0.4"/><path d="M427.3 666.5L431.5 671.1M420.5 665.9L424.7 670.5" stroke="#858585" stroke-width="0.6" fill="none"/>
<path d="M425.2 647.5L424.1 653.5L417.3 652.8L418.4 646.9Z" fill="#696969" stroke="#696969" stroke-width="0.4"/><path d="M425.2 647.5L424.1 653.5M418.4 646.9L417.3 652.8" stroke="#858585" stroke-width="0.6" fill="none"/>
<path d="M451.4 645.8L448.6 644.1L441.8 643.4L444.6 645.2Z" fill="#ebebeb" stroke="#ebebeb" stroke-width="0.4"/><path d="M451.4 645.8L448.6 644.1M444.6 645.2L441.8 643.4" stroke="#858585" stroke-width="0.6" fill="none"/>
<path d="M431.5 671.1L436.9 673.1L430.1 672.4L424.7 670.5Z" fill="#808080" stroke="#808080" stroke-width="0.4"/><path d="M431.5 671.1L436.9 673.1M424.7 670.5L430.1 672.4" stroke="#858585" stroke-width="0.6" fill="none"/>
<path d="M427.7 643.6L425.2 647.5L418.4 646.9L420.9 642.9Z" fill="#616161" stroke="#616161" stroke-width="0.4"/><path d="M427.7 643.6L425.2 647.5M420.9 642.9L418.4 646.9" stroke="#858585" stroke-width="0.6" fill="none"/>
<path d="M453.1 650.1L451.4 645.8L444.6 645.2L446.3 649.5Z" fill="#eeeeee" stroke="#eeeeee" stroke-width="0.4"/><path d="M453.1 650.1L451.4 645.8M446.3 649.5L444.6 645.2" stroke="#858585" stroke-width="0.6" fill="none"/>
<path d="M436.9 673.1L442.5 672.1L435.7 671.5L430.1 672.4Z" fill="#d0d0d0" stroke="#d0d0d0" stroke-width="0.4"/><path d="M436.9 673.1L442.5 672.1M430.1 672.4L435.7 671.5" stroke="#858585" stroke-width="0.6" fill="none"/>
<path d="M430.8 642.4L427.7 643.6L420.9 642.9L424.0 641.7Z" fill="#616161" stroke="#616161" stroke-width="0.4"/><path d="M430.8 642.4L427.7 643.6M424.0 641.7L420.9 642.9" stroke="#858585" stroke-width="0.6" fill="none"/>
<path d="M453.1 656.2L453.1 650.1L446.3 649.5L446.3 655.6Z" fill="#ebebeb" stroke="#ebebeb" stroke-width="0.4"/><path d="M453.1 656.2L453.1 650.1M446.3 655.6L446.3 649.5" stroke="#858585" stroke-width="0.6" fill="none"/>
<path d="M442.5 672.1L447.6 668.4L440.7 667.8L435.7 671.5Z" fill="#d0d0d0" stroke="#d0d0d0" stroke-width="0.4"/><path d="M442.5 672.1L447.6 668.4M435.7 671.5L440.7 667.8" stroke="#858585" stroke-width="0.6" fill="none"/>
<path d="M447.6 668.4L451.3 662.7L444.4 662.1L440.7 667.8Z" fill="#d7d7d7" stroke="#d7d7d7" stroke-width="0.4"/><path d="M447.6 668.4L451.3 662.7M440.7 667.8L444.4 662.1" stroke="#858585" stroke-width="0.6" fill="none"/>
<path d="M451.3 662.7L453.1 656.2L446.3 655.6L444.4 662.1Z" fill="#e3e3e3" stroke="#e3e3e3" stroke-width="0.4"/><path d="M451.3 662.7L453.1 656.2M444.4 662.1L446.3 655.6" stroke="#858585" stroke-width="0.6" fill="none"/>
<path d="M370.0 627.8C372.2 628.9 379.6 631.4 383.3 634.4C387.0 637.4 388.9 641.9 392.2 645.6C395.5 649.3 399.6 653.8 403.3 656.7C407.0 659.7 411.6 660.1 414.4 663.3C417.2 666.5 419.1 673.9 420.0 676.0" fill="none" stroke="#8a8a8a" stroke-width="3.3" stroke-linecap="round" stroke-linejoin="round"/>
<path d="M370.0 627.8C372.2 628.9 379.6 631.4 383.3 634.4C387.0 637.4 388.9 641.9 392.2 645.6C395.5 649.3 399.6 653.8 403.3 656.7C407.0 659.7 411.6 660.1 414.4 663.3C417.2 666.5 419.1 673.9 420.0 676.0" fill="none" stroke="#f2f2f2" stroke-width="2.2" stroke-linecap="round" stroke-linejoin="round"/>
<path d="M365.6 656.7C366.0 655.2 366.0 649.6 367.8 647.8C369.6 645.9 374.1 644.5 376.7 645.6C379.3 646.7 381.4 650.7 383.3 654.4C385.2 658.1 386.4 664.2 387.8 667.8C389.2 671.4 391.3 674.6 392.0 676.0" fill="none" stroke="#8a8a8a" stroke-width="3.3" stroke-linecap="round" stroke-linejoin="round"/>
<path d="M365.6 656.7C366.0 655.2 366.0 649.6 367.8 647.8C369.6 645.9 374.1 644.5 376.7 645.6C379.3 646.7 381.4 650.7 383.3 654.4C385.2 658.1 386.4 664.2 387.8 667.8C389.2 671.4 391.3 674.6 392.0 676.0" fill="none" stroke="#f2f2f2" stroke-width="2.2" stroke-linecap="round" stroke-linejoin="round"/>
<path d="M525.7 620.6C526.6 623.1 530.4 631.5 530.8 635.7C531.2 639.9 525.7 643.7 528.2 645.8C530.7 647.9 544.3 647.3 545.9 648.3C547.5 649.3 540.5 651.6 538.0 652.0C535.5 652.4 532.0 651.0 530.8 650.8" fill="none" stroke="#8a8a8a" stroke-width="3.3" stroke-linecap="round" stroke-linejoin="round"/>
<path d="M525.7 620.6C526.6 623.1 530.4 631.5 530.8 635.7C531.2 639.9 525.7 643.7 528.2 645.8C530.7 647.9 544.3 647.3 545.9 648.3C547.5 649.3 540.5 651.6 538.0 652.0C535.5 652.4 532.0 651.0 530.8 650.8" fill="none" stroke="#f2f2f2" stroke-width="2.2" stroke-linecap="round" stroke-linejoin="round"/>
<path d="M495.5 653.4C496.8 651.3 500.1 643.8 503.0 640.8C505.9 637.8 510.2 635.0 513.0 635.7C515.8 636.4 519.2 640.6 520.0 645.0C520.8 649.4 519.3 656.8 518.0 662.0C516.7 667.2 513.0 673.7 512.0 676.0" fill="none" stroke="#8a8a8a" stroke-width="3.3" stroke-linecap="round" stroke-linejoin="round"/>
<path d="M495.5 653.4C496.8 651.3 500.1 643.8 503.0 640.8C505.9 637.8 510.2 635.0 513.0 635.7C515.8 636.4 519.2 640.6 520.0 645.0C520.8 649.4 519.3 656.8 518.0 662.0C516.7 667.2 513.0 673.7 512.0 676.0" fill="none" stroke="#f2f2f2" stroke-width="2.2" stroke-linecap="round" stroke-linejoin="round"/>
<defs><clipPath id="blobclip"><path d="M358.9 474.4C359.9 470.8 361.1 468.0 364.8 466.3C368.5 464.6 376.5 463.6 381.1 464.4C385.7 465.2 387.8 468.3 392.2 471.1C396.6 473.9 402.6 479.4 407.8 481.1C413.0 482.8 418.9 480.7 423.3 481.1C427.7 481.5 430.3 482.6 434.4 483.3C438.5 484.1 443.4 483.4 447.8 485.6C452.2 487.8 457.4 492.3 461.1 496.7C464.8 501.1 466.3 509.3 470.0 512.2C473.7 515.2 479.6 513.3 483.3 514.4C487.0 515.5 490.7 516.7 492.2 518.9C493.7 521.1 493.7 525.4 492.2 527.8C490.7 530.2 487.4 532.6 483.3 533.3C479.2 534.0 470.4 530.5 467.8 532.2C465.2 533.9 466.7 540.0 467.8 543.3C468.9 546.6 472.9 549.2 474.4 552.2C475.9 555.2 478.9 558.5 476.7 561.1C474.5 563.7 466.7 566.7 461.1 567.8C455.5 568.9 448.5 567.2 443.3 567.8C438.1 568.3 434.4 569.4 430.0 571.1C425.6 572.8 420.8 576.9 416.7 577.8C412.6 578.7 407.8 578.7 405.6 576.7C403.4 574.7 402.9 569.3 403.3 565.6C403.7 561.9 408.2 558.1 407.8 554.4C407.4 550.7 403.3 545.9 401.1 543.3C398.9 540.7 397.0 540.8 394.4 538.9C391.8 537.0 387.5 535.2 385.6 532.2C383.8 529.2 382.9 524.1 383.3 521.1C383.7 518.1 388.9 516.6 387.8 514.4C386.7 512.2 380.4 510.4 376.7 507.8C373.0 505.2 368.6 502.2 365.6 498.9C362.6 495.6 360.0 491.9 358.9 487.8C357.8 483.7 357.9 478.0 358.9 474.4Z"/></clipPath><filter id="bblur" x="-20%" y="-20%" width="140%" height="140%"><feGaussianBlur stdDeviation="3.2"/></filter><filter id="bblur2" x="-20%" y="-20%" width="140%" height="140%"><feGaussianBlur stdDeviation="1.5"/></filter></defs>
<path d="M358.9 474.4C359.9 470.8 361.1 468.0 364.8 466.3C368.5 464.6 376.5 463.6 381.1 464.4C385.7 465.2 387.8 468.3 392.2 471.1C396.6 473.9 402.6 479.4 407.8 481.1C413.0 482.8 418.9 480.7 423.3 481.1C427.7 481.5 430.3 482.6 434.4 483.3C438.5 484.1 443.4 483.4 447.8 485.6C452.2 487.8 457.4 492.3 461.1 496.7C464.8 501.1 466.3 509.3 470.0 512.2C473.7 515.2 479.6 513.3 483.3 514.4C487.0 515.5 490.7 516.7 492.2 518.9C493.7 521.1 493.7 525.4 492.2 527.8C490.7 530.2 487.4 532.6 483.3 533.3C479.2 534.0 470.4 530.5 467.8 532.2C465.2 533.9 466.7 540.0 467.8 543.3C468.9 546.6 472.9 549.2 474.4 552.2C475.9 555.2 478.9 558.5 476.7 561.1C474.5 563.7 466.7 566.7 461.1 567.8C455.5 568.9 448.5 567.2 443.3 567.8C438.1 568.3 434.4 569.4 430.0 571.1C425.6 572.8 420.8 576.9 416.7 577.8C412.6 578.7 407.8 578.7 405.6 576.7C403.4 574.7 402.9 569.3 403.3 565.6C403.7 561.9 408.2 558.1 407.8 554.4C407.4 550.7 403.3 545.9 401.1 543.3C398.9 540.7 397.0 540.8 394.4 538.9C391.8 537.0 387.5 535.2 385.6 532.2C383.8 529.2 382.9 524.1 383.3 521.1C383.7 518.1 388.9 516.6 387.8 514.4C386.7 512.2 380.4 510.4 376.7 507.8C373.0 505.2 368.6 502.2 365.6 498.9C362.6 495.6 360.0 491.9 358.9 487.8C357.8 483.7 357.9 478.0 358.9 474.4Z" fill="#94bcda"/>
<g clip-path="url(#blobclip)"><g filter="url(#bblur)">
<ellipse cx="372" cy="482" rx="16" ry="16" fill="#d3e3ef" opacity="0.95"/>
<ellipse cx="392" cy="478" rx="12" ry="9" fill="#dce9f2" opacity="0.9"/>
<ellipse cx="382" cy="505" rx="9" ry="9" fill="#c3d8e8" opacity="0.85"/>
<ellipse cx="445" cy="530" rx="20" ry="22" fill="#4f86b9" opacity="0.85"/>
<ellipse cx="458" cy="548" rx="12" ry="12" fill="#3f72a6" opacity="0.8"/>
<ellipse cx="436" cy="510" rx="14" ry="10" fill="#6d9fcb" opacity="0.8"/>
<ellipse cx="418" cy="500" rx="10" ry="10" fill="#b9d3e6" opacity="0.7"/>
<ellipse cx="480" cy="522" rx="11" ry="7" fill="#7aaad0" opacity="0.9"/>
<ellipse cx="420" cy="560" rx="14" ry="10" fill="#a6c5de" opacity="0.85"/>
<ellipse cx="470" cy="505" rx="8" ry="8" fill="#8cb6d6" opacity="0.8"/>
<ellipse cx="400" cy="530" rx="10" ry="10" fill="#b5cfe3" opacity="0.7"/>
</g><g filter="url(#bblur2)">
<ellipse cx="432" cy="522" rx="4" ry="3" fill="#ffffff" opacity="0.8"/>
<ellipse cx="447" cy="505" rx="3" ry="4" fill="#e9f3fa" opacity="0.8"/>
<ellipse cx="462" cy="532" rx="3" ry="3" fill="#ffffff" opacity="0.6"/>
<ellipse cx="452" cy="560" rx="4" ry="3" fill="#dbe9f3" opacity="0.7"/>
<ellipse cx="410" cy="545" rx="3" ry="3" fill="#ffffff" opacity="0.7"/>
<ellipse cx="378" cy="470" rx="4" ry="3" fill="#ffffff" opacity="0.7"/>
<ellipse cx="485" cy="520" rx="3" ry="2" fill="#e0eef8" opacity="0.8"/>
<ellipse cx="440" cy="545" rx="3" ry="5" fill="#2e5f90" opacity="0.6"/>
<ellipse cx="428" cy="535" rx="2" ry="5" fill="#3a6c9c" opacity="0.6"/>
<ellipse cx="468" cy="545" rx="3" ry="5" fill="#3a6c9c" opacity="0.5"/>
</g>
<filter id="texd" x="0" y="0" width="1" height="1" filterUnits="objectBoundingBox"><feTurbulence type="fractalNoise" baseFrequency="0.05" numOctaves="2" seed="7"/><feColorMatrix type="matrix" values="0 0 0 0 0.17 0 0 0 0 0.40 0 0 0 0 0.65 -3 0 0 0 1.35"/></filter>
<filter id="texl" x="0" y="0" width="1" height="1" filterUnits="objectBoundingBox"><feTurbulence type="fractalNoise" baseFrequency="0.06" numOctaves="2" seed="21"/><feColorMatrix type="matrix" values="0 0 0 0 0.94 0 0 0 0 0.96 0 0 0 0 0.98 0 3 0 0 -1.55"/></filter>
<rect x="355" y="460" width="140" height="120" filter="url(#texd)" opacity="0.95"/>
<rect x="355" y="460" width="140" height="120" filter="url(#texl)" opacity="0.9"/>
</g>
<path d="M358.9 474.4C359.9 470.8 361.1 468.0 364.8 466.3C368.5 464.6 376.5 463.6 381.1 464.4C385.7 465.2 387.8 468.3 392.2 471.1C396.6 473.9 402.6 479.4 407.8 481.1C413.0 482.8 418.9 480.7 423.3 481.1C427.7 481.5 430.3 482.6 434.4 483.3C438.5 484.1 443.4 483.4 447.8 485.6C452.2 487.8 457.4 492.3 461.1 496.7C464.8 501.1 466.3 509.3 470.0 512.2C473.7 515.2 479.6 513.3 483.3 514.4C487.0 515.5 490.7 516.7 492.2 518.9C493.7 521.1 493.7 525.4 492.2 527.8C490.7 530.2 487.4 532.6 483.3 533.3C479.2 534.0 470.4 530.5 467.8 532.2C465.2 533.9 466.7 540.0 467.8 543.3C468.9 546.6 472.9 549.2 474.4 552.2C475.9 555.2 478.9 558.5 476.7 561.1C474.5 563.7 466.7 566.7 461.1 567.8C455.5 568.9 448.5 567.2 443.3 567.8C438.1 568.3 434.4 569.4 430.0 571.1C425.6 572.8 420.8 576.9 416.7 577.8C412.6 578.7 407.8 578.7 405.6 576.7C403.4 574.7 402.9 569.3 403.3 565.6C403.7 561.9 408.2 558.1 407.8 554.4C407.4 550.7 403.3 545.9 401.1 543.3C398.9 540.7 397.0 540.8 394.4 538.9C391.8 537.0 387.5 535.2 385.6 532.2C383.8 529.2 382.9 524.1 383.3 521.1C383.7 518.1 388.9 516.6 387.8 514.4C386.7 512.2 380.4 510.4 376.7 507.8C373.0 505.2 368.6 502.2 365.6 498.9C362.6 495.6 360.0 491.9 358.9 487.8C357.8 483.7 357.9 478.0 358.9 474.4Z" fill="none" stroke="#c2d6e6" stroke-width="1.2" opacity="0.9"/>
<path d="M450.2 584.0L452.2 588.6L444.3 590.3L442.4 585.6Z" fill="#c8c8c8" stroke="#c8c8c8" stroke-width="0.4"/><path d="M450.2 584.0L452.2 588.6M442.4 585.6L444.3 590.3" stroke="#858585" stroke-width="0.6" fill="none"/>
<path d="M452.2 588.6L453.0 591.7L445.2 593.4L444.3 590.3Z" fill="#c3c3c3" stroke="#c3c3c3" stroke-width="0.4"/><path d="M452.2 588.6L453.0 591.7M444.3 590.3L445.2 593.4" stroke="#858585" stroke-width="0.6" fill="none"/>
<path d="M453.0 591.7L452.9 592.5L445.1 594.2L445.2 593.4Z" fill="#b0b0b0" stroke="#b0b0b0" stroke-width="0.4"/><path d="M453.0 591.7L452.9 592.5M445.2 593.4L445.1 594.2" stroke="#858585" stroke-width="0.6" fill="none"/>
<path d="M474.9 567.5L479.2 572.1L471.3 573.7L467.0 569.1Z" fill="#a9a9a9" stroke="#a9a9a9" stroke-width="0.4"/><path d="M474.9 567.5L479.2 572.1M467.0 569.1L471.3 573.7" stroke="#858585" stroke-width="0.6" fill="none"/>
<path d="M479.2 572.1L482.4 577.3L474.6 578.9L471.3 573.7Z" fill="#bfbfbf" stroke="#bfbfbf" stroke-width="0.4"/><path d="M479.2 572.1L482.4 577.3M471.3 573.7L474.6 578.9" stroke="#858585" stroke-width="0.6" fill="none"/>
<path d="M469.9 564.4L474.9 567.5L467.0 569.1L462.1 566.0Z" fill="#8b8b8b" stroke="#8b8b8b" stroke-width="0.4"/><path d="M469.9 564.4L474.9 567.5M462.1 566.0L467.0 569.1" stroke="#858585" stroke-width="0.6" fill="none"/>
<path d="M482.4 577.3L484.4 582.0L476.6 583.6L474.6 578.9Z" fill="#c8c8c8" stroke="#c8c8c8" stroke-width="0.4"/><path d="M482.4 577.3L484.4 582.0M474.6 578.9L476.6 583.6" stroke="#858585" stroke-width="0.6" fill="none"/>
<path d="M452.9 592.5L452.4 590.8L444.6 592.4L445.1 594.2Z" fill="#d0d0d0" stroke="#d0d0d0" stroke-width="0.4"/><path d="M452.9 592.5L452.4 590.8M445.1 594.2L444.6 592.4" stroke="#858585" stroke-width="0.6" fill="none"/>
<path d="M464.8 563.6L469.9 564.4L462.1 566.0L457.0 565.3Z" fill="#7f7f7f" stroke="#7f7f7f" stroke-width="0.4"/><path d="M464.8 563.6L469.9 564.4M457.0 565.3L462.1 566.0" stroke="#858585" stroke-width="0.6" fill="none"/>
<path d="M484.4 582.0L485.2 585.1L477.4 586.7L476.6 583.6Z" fill="#c3c3c3" stroke="#c3c3c3" stroke-width="0.4"/><path d="M484.4 582.0L485.2 585.1M476.6 583.6L477.4 586.7" stroke="#858585" stroke-width="0.6" fill="none"/>
<path d="M460.2 565.4L464.8 563.6L457.0 565.3L452.3 567.0Z" fill="#f0f0f0" stroke="#f0f0f0" stroke-width="0.4"/><path d="M460.2 565.4L464.8 563.6M452.3 567.0L457.0 565.3" stroke="#858585" stroke-width="0.6" fill="none"/>
<path d="M452.4 590.8L452.1 586.8L444.2 588.4L444.6 592.4Z" fill="#d8d8d8" stroke="#d8d8d8" stroke-width="0.4"/><path d="M452.4 590.8L452.1 586.8M444.6 592.4L444.2 588.4" stroke="#858585" stroke-width="0.6" fill="none"/>
<path d="M456.4 569.4L460.2 565.4L452.3 567.0L448.5 571.1Z" fill="#fcfcfc" stroke="#fcfcfc" stroke-width="0.4"/><path d="M456.4 569.4L460.2 565.4M448.5 571.1L452.3 567.0" stroke="#858585" stroke-width="0.6" fill="none"/>
<path d="M452.1 586.8L452.4 581.2L444.5 582.8L444.2 588.4Z" fill="#ebebeb" stroke="#ebebeb" stroke-width="0.4"/><path d="M452.1 586.8L452.4 581.2M444.2 588.4L444.5 582.8" stroke="#858585" stroke-width="0.6" fill="none"/>
<path d="M485.2 585.1L485.2 585.9L477.3 587.5L477.4 586.7Z" fill="#b0b0b0" stroke="#b0b0b0" stroke-width="0.4"/><path d="M485.2 585.1L485.2 585.9M477.4 586.7L477.3 587.5" stroke="#858585" stroke-width="0.6" fill="none"/>
<path d="M453.8 575.1L456.4 569.4L448.5 571.1L445.9 576.7Z" fill="#ffffff" stroke="#ffffff" stroke-width="0.4"/><path d="M453.8 575.1L456.4 569.4M445.9 576.7L448.5 571.1" stroke="#858585" stroke-width="0.6" fill="none"/>
<path d="M452.4 581.2L453.8 575.1L445.9 576.7L444.5 582.8Z" fill="#f9f9f9" stroke="#f9f9f9" stroke-width="0.4"/><path d="M452.4 581.2L453.8 575.1M444.5 582.8L445.9 576.7" stroke="#858585" stroke-width="0.6" fill="none"/>
<path d="M485.2 585.9L484.7 584.2L476.8 585.8L477.3 587.5Z" fill="#d0d0d0" stroke="#d0d0d0" stroke-width="0.4"/><path d="M485.2 585.9L484.7 584.2M477.3 587.5L476.8 585.8" stroke="#858585" stroke-width="0.6" fill="none"/>
<path d="M497.1 557.0L503.2 558.2L495.3 559.8L489.2 558.6Z" fill="#7f7f7f" stroke="#7f7f7f" stroke-width="0.4"/><path d="M497.1 557.0L503.2 558.2M489.2 558.6L495.3 559.8" stroke="#858585" stroke-width="0.6" fill="none"/>
<path d="M492.4 558.7L497.1 557.0L489.2 558.6L484.5 560.4Z" fill="#f0f0f0" stroke="#f0f0f0" stroke-width="0.4"/><path d="M492.4 558.7L497.1 557.0M484.5 560.4L489.2 558.6" stroke="#858585" stroke-width="0.6" fill="none"/>
<path d="M484.7 584.2L484.3 580.1L476.4 581.8L476.8 585.8Z" fill="#d8d8d8" stroke="#d8d8d8" stroke-width="0.4"/><path d="M484.7 584.2L484.3 580.1M476.8 585.8L476.4 581.8" stroke="#858585" stroke-width="0.6" fill="none"/>
<path d="M488.6 562.8L492.4 558.7L484.5 560.4L480.7 564.4Z" fill="#fcfcfc" stroke="#fcfcfc" stroke-width="0.4"/><path d="M488.6 562.8L492.4 558.7M480.7 564.4L484.5 560.4" stroke="#858585" stroke-width="0.6" fill="none"/>
<path d="M484.3 580.1L484.6 574.6L476.8 576.2L476.4 581.8Z" fill="#ebebeb" stroke="#ebebeb" stroke-width="0.4"/><path d="M484.3 580.1L484.6 574.6M476.4 581.8L476.8 576.2" stroke="#858585" stroke-width="0.6" fill="none"/>
<path d="M486.0 568.4L488.6 562.8L480.7 564.4L478.1 570.0Z" fill="#ffffff" stroke="#ffffff" stroke-width="0.4"/><path d="M486.0 568.4L488.6 562.8M478.1 570.0L480.7 564.4" stroke="#858585" stroke-width="0.6" fill="none"/>
<path d="M484.6 574.6L486.0 568.4L478.1 570.0L476.8 576.2Z" fill="#f9f9f9" stroke="#f9f9f9" stroke-width="0.4"/><path d="M484.6 574.6L486.0 568.4M476.8 576.2L478.1 570.0" stroke="#858585" stroke-width="0.6" fill="none"/>
<defs><linearGradient id="bl8" gradientUnits="userSpaceOnUse" x1="430.7" y1="443.7" x2="420.3" y2="440.3"><stop offset="0" stop-color="#f7f7f7"/><stop offset="1" stop-color="#b4b4b4"/></linearGradient></defs>
<path d="M427.0 496.9L427.0 495.3L426.9 493.2L426.9 490.8L426.8 488.1L426.7 485.2L426.7 482.1L426.7 479.1L426.7 476.0L426.8 473.1L427.0 470.4L427.2 467.6L427.4 464.8L427.6 461.9L427.9 459.0L428.2 456.2L428.6 453.4L429.0 450.7L429.5 448.2L430.1 445.9L430.7 443.7L431.4 441.8L432.3 439.9L433.2 438.1L434.3 436.3L435.3 434.6L436.3 432.8L437.4 431.0L438.5 429.2L439.6 427.4L440.6 425.7L441.6 424.0L442.7 422.4L443.8 420.8L444.9 419.3L446.1 417.8L447.1 416.3L448.2 415.0L449.1 413.9L449.9 412.8L450.5 412.0L446.1 408.0L445.4 408.7L444.4 409.5L443.3 410.5L442.1 411.6L440.7 412.9L439.2 414.2L437.7 415.7L436.2 417.2L434.7 418.8L433.4 420.3L432.0 421.8L430.7 423.4L429.2 425.0L427.8 426.7L426.3 428.5L424.9 430.6L423.6 432.8L422.4 435.1L421.3 437.6L420.3 440.3L419.5 443.0L418.8 445.9L418.2 448.8L417.7 451.8L417.3 454.8L417.0 457.9L416.7 460.9L416.4 463.9L416.2 466.8L416.0 469.6L415.8 472.6L415.7 475.8L415.7 479.0L415.7 482.2L415.8 485.3L415.8 488.3L415.9 491.1L415.9 493.5L416.0 495.5L416.0 497.1Z" fill="url(#bl8)" stroke="#7f7f7f" stroke-width="0.7" stroke-linejoin="round"/>
<path d="M402.0 512.0C401.3 509.2 399.5 500.3 398.0 495.0C396.5 489.7 393.8 482.5 393.0 480.0" fill="none" stroke="#999" stroke-width="10.4" stroke-linecap="butt" stroke-linejoin="round"/>
<path d="M402.0 512.0C401.3 509.2 399.5 500.3 398.0 495.0C396.5 489.7 393.8 482.5 393.0 480.0" fill="none" stroke="#ececec" stroke-width="9.0" stroke-linecap="butt" stroke-linejoin="round"/>
<path d="M423.3 497.8C424.8 499.1 428.5 502.5 432.2 505.6C435.9 508.8 441.9 512.3 445.6 516.7C449.3 521.1 453.3 527.0 454.4 532.2C455.5 537.4 454.0 544.1 452.2 547.8C450.4 551.5 446.6 554.0 443.3 554.4C440.0 554.8 435.1 551.9 432.2 550.0C429.2 548.1 428.2 545.1 425.6 543.3C423.0 541.4 419.7 539.3 416.7 538.9C413.7 538.5 410.0 539.2 407.8 541.1C405.6 543.0 404.4 545.9 403.3 550.0C402.2 554.1 401.0 560.6 401.1 565.6C401.2 570.6 403.5 577.6 404.0 580.0" fill="none" stroke="#8a8a8a" stroke-width="3.3" stroke-linecap="round" stroke-linejoin="round"/>
<path d="M423.3 497.8C424.8 499.1 428.5 502.5 432.2 505.6C435.9 508.8 441.9 512.3 445.6 516.7C449.3 521.1 453.3 527.0 454.4 532.2C455.5 537.4 454.0 544.1 452.2 547.8C450.4 551.5 446.6 554.0 443.3 554.4C440.0 554.8 435.1 551.9 432.2 550.0C429.2 548.1 428.2 545.1 425.6 543.3C423.0 541.4 419.7 539.3 416.7 538.9C413.7 538.5 410.0 539.2 407.8 541.1C405.6 543.0 404.4 545.9 403.3 550.0C402.2 554.1 401.0 560.6 401.1 565.6C401.2 570.6 403.5 577.6 404.0 580.0" fill="none" stroke="#f2f2f2" stroke-width="2.2" stroke-linecap="round" stroke-linejoin="round"/>
<path d="M407.8 503.3C407.4 505.5 404.9 512.2 405.6 516.7C406.3 521.2 409.6 526.3 412.2 530.0C414.8 533.7 419.6 537.4 421.1 538.9" fill="none" stroke="#8a8a8a" stroke-width="3.1" stroke-linecap="round" stroke-linejoin="round"/>
<path d="M407.8 503.3C407.4 505.5 404.9 512.2 405.6 516.7C406.3 521.2 409.6 526.3 412.2 530.0C414.8 533.7 419.6 537.4 421.1 538.9" fill="none" stroke="#f2f2f2" stroke-width="2.0" stroke-linecap="round" stroke-linejoin="round"/>
<polyline points="37.4,465.4 79.6,447.6 132,430.9" fill="none" stroke="#e04040" stroke-width="0.7" opacity="0.9"/>
<polyline points="37.4,466.4 79.6,448.6 132,431.9" fill="none" stroke="#40d040" stroke-width="0.7" opacity="0.9"/>
<line x1="37.4" y1="465.9" x2="61.9" y2="529.6" stroke="#5050e0" stroke-width="0.7" opacity="0.9"/>
<line x1="132" y1="431.4" x2="157.8" y2="495" stroke="#5050e0" stroke-width="0.7" opacity="0.9"/>
<line x1="79.6" y1="448.1" x2="104.9" y2="517.8" stroke="#5050e0" stroke-width="0.7" opacity="0.9"/>
<polyline points="61.9,529.1 104.9,517.3 157.8,494.5" fill="none" stroke="#e04040" stroke-width="0.7" opacity="0.9"/>
<polyline points="61.9,530.1 104.9,518.3 157.8,495.5" fill="none" stroke="#40d040" stroke-width="0.7" opacity="0.9"/>
<polyline points="323.1,486.0 391.9,470.3 471.3,443.6" fill="none" stroke="#e04040" stroke-width="0.9" opacity="0.9"/>
<polyline points="323.1,487.4 391.9,471.7 471.3,445.0" fill="none" stroke="#40d040" stroke-width="0.9" opacity="0.9"/>
<line x1="323.1" y1="486.7" x2="353.3" y2="586.5" stroke="#4040e0" stroke-width="0.9" opacity="0.9"/>
<line x1="471.3" y1="444.3" x2="505.7" y2="549.3" stroke="#4040e0" stroke-width="0.9" opacity="0.9"/>
<line x1="391.9" y1="471" x2="421.5" y2="571" stroke="#4040e0" stroke-width="0.9" opacity="0.9"/>
<polyline points="353.3,585.8 421.5,570.3 505.7,548.5999999999999" fill="none" stroke="#e04040" stroke-width="0.9" opacity="0.9"/>
<polyline points="353.3,587.2 421.5,571.7 505.7,550.0" fill="none" stroke="#40d040" stroke-width="0.9" opacity="0.9"/>
<line x1="79.7" y1="447.6" x2="373.6" y2="470.6" stroke="#111" stroke-width="1.5"/>
<line x1="104" y1="518" x2="353.3" y2="586.5" stroke="#111" stroke-width="1.5"/>
<line x1="79.6" y1="448.1" x2="67" y2="453.8" stroke="#8a1212" stroke-width="4.2" stroke-linecap="round"/>
<line x1="79.6" y1="448.1" x2="97.4" y2="443" stroke="#2ee02e" stroke-width="3.6" stroke-linecap="round"/>
<line x1="79.6" y1="448.1" x2="87.8" y2="469.6" stroke="#1414f0" stroke-width="3.6" stroke-linecap="round"/>
<line x1="391.9" y1="471" x2="370.5" y2="475.7" stroke="#8a1212" stroke-width="6" stroke-linecap="round"/>
<line x1="391.9" y1="471" x2="420.9" y2="461.5" stroke="#2ee02e" stroke-width="5.6" stroke-linecap="round"/>
<line x1="391.9" y1="471" x2="403.1" y2="503" stroke="#1414f0" stroke-width="5.6" stroke-linecap="round"/>
</g>
</svg></body></html>
